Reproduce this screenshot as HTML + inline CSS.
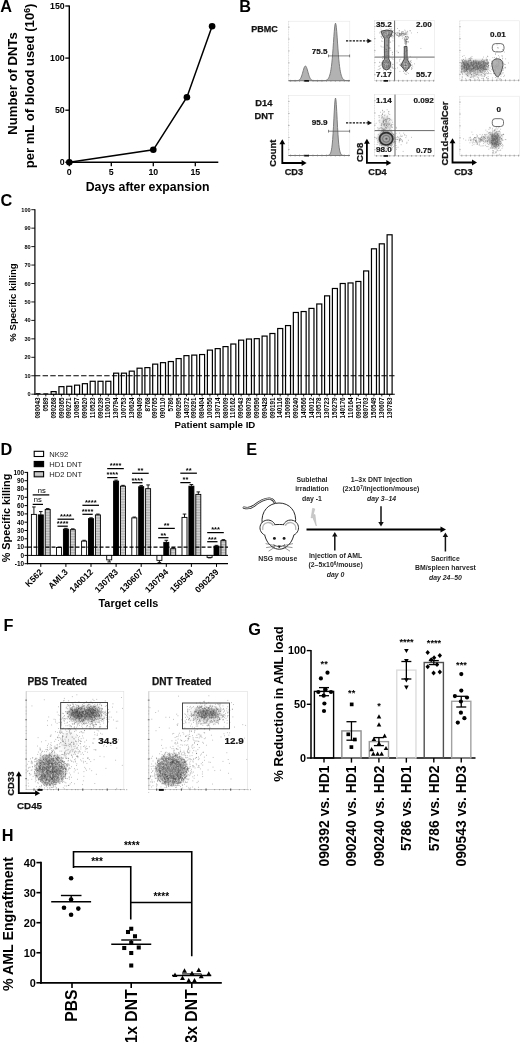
<!DOCTYPE html>
<html lang="en"><head><meta charset="utf-8"><title>Figure</title>
<style>
html,body{margin:0;padding:0;background:#fff}
svg{display:block;font-family:"Liberation Sans",sans-serif;filter:blur(0.35px)}
</style></head><body>
<svg width="520" height="1042" viewBox="0 0 520 1042">
<rect width="520" height="1042" fill="#fff"/>
<g id="A">
<text x="0.3" y="12" font-size="16.3" font-weight="bold" text-anchor="start" fill="#000">A</text>
<line x1="69.3" y1="5.4" x2="69.3" y2="162.9" stroke="#000" stroke-width="1.4"/>
<line x1="68.6" y1="162.3" x2="218.3" y2="162.3" stroke="#000" stroke-width="1.4"/>
<line x1="65.3" y1="162.3" x2="69.3" y2="162.3" stroke="#000" stroke-width="1.3"/>
<text x="64.7" y="165.4" font-size="8.8" font-weight="bold" text-anchor="end" fill="#000">0</text>
<line x1="65.3" y1="110.2" x2="69.3" y2="110.2" stroke="#000" stroke-width="1.3"/>
<text x="64.7" y="113.3" font-size="8.8" font-weight="bold" text-anchor="end" fill="#000">50</text>
<line x1="65.3" y1="58.1" x2="69.3" y2="58.1" stroke="#000" stroke-width="1.3"/>
<text x="64.7" y="61.2" font-size="8.8" font-weight="bold" text-anchor="end" fill="#000">100</text>
<line x1="65.3" y1="6" x2="69.3" y2="6" stroke="#000" stroke-width="1.3"/>
<text x="64.7" y="9.1" font-size="8.8" font-weight="bold" text-anchor="end" fill="#000">150</text>
<line x1="69.3" y1="162.3" x2="69.3" y2="166.3" stroke="#000" stroke-width="1.3"/>
<text x="69.3" y="174.5" font-size="8.8" font-weight="bold" text-anchor="middle" fill="#000">0</text>
<line x1="111.3" y1="162.3" x2="111.3" y2="166.3" stroke="#000" stroke-width="1.3"/>
<text x="111.3" y="174.5" font-size="8.8" font-weight="bold" text-anchor="middle" fill="#000">5</text>
<line x1="153.3" y1="162.3" x2="153.3" y2="166.3" stroke="#000" stroke-width="1.3"/>
<text x="153.3" y="174.5" font-size="8.8" font-weight="bold" text-anchor="middle" fill="#000">10</text>
<line x1="195.3" y1="162.3" x2="195.3" y2="166.3" stroke="#000" stroke-width="1.3"/>
<text x="195.3" y="174.5" font-size="8.8" font-weight="bold" text-anchor="middle" fill="#000">15</text>
<polyline fill="none" stroke="#000" stroke-width="1.5" points="69.3,162.3 153.3,149.8 186.9,97.18 212.1,26.32"/>
<circle cx="69.3" cy="162.3" r="3.3" fill="#000"/>
<circle cx="153.3" cy="149.8" r="3.3" fill="#000"/>
<circle cx="186.9" cy="97.18" r="3.3" fill="#000"/>
<circle cx="212.1" cy="26.32" r="3.3" fill="#000"/>
<text x="147.6" y="191" font-size="12.3" font-weight="bold" text-anchor="middle" fill="#000">Days after expansion</text>
<text x="16.5" y="83.5" font-size="13.1" font-weight="bold" text-anchor="middle" fill="#000" transform="rotate(-90 16.5 83.5)">Number of DNTs</text>
<text x="34" y="86" font-size="13.1" font-weight="bold" text-anchor="middle" fill="#000" transform="rotate(-90 34 86)">per mL of blood used (10<tspan font-size="8.5" dy="-4.5">6</tspan><tspan dy="4.5">)</tspan></text>
</g>
<g id="B">
<defs><filter id="b1" x="-50%" y="-50%" width="200%" height="200%"><feGaussianBlur stdDeviation="1.1"/></filter><filter id="b2" x="-50%" y="-50%" width="200%" height="200%"><feGaussianBlur stdDeviation="2.2"/></filter><filter id="b0" x="-50%" y="-50%" width="200%" height="200%"><feGaussianBlur stdDeviation="0.5"/></filter></defs>
<text x="239.3" y="12.3" font-size="16.3" font-weight="bold" text-anchor="start" fill="#000">B</text>
<text x="251.2" y="32.2" font-size="9" font-weight="bold" text-anchor="start" fill="#141414" stroke="#141414" stroke-width="0.25">PBMC</text>
<text x="255.3" y="106.2" font-size="9.3" font-weight="bold" text-anchor="start" fill="#141414" stroke="#141414" stroke-width="0.25">D14</text>
<text x="254.6" y="119.2" font-size="9.3" font-weight="bold" text-anchor="start" fill="#141414" stroke="#141414" stroke-width="0.25">DNT</text>
<rect x="288.6" y="21.2" width="61.2" height="59.5" fill="none" stroke="#e6e6e6" stroke-width="0.6"/><line x1="288" y1="27.15" x2="289.6" y2="27.15" stroke="#999" stroke-width="0.7"/><line x1="288" y1="39.05" x2="289.6" y2="39.05" stroke="#999" stroke-width="0.7"/><line x1="288" y1="50.95" x2="289.6" y2="50.95" stroke="#999" stroke-width="0.7"/><line x1="288" y1="62.85" x2="289.6" y2="62.85" stroke="#999" stroke-width="0.7"/><line x1="288" y1="74.75" x2="289.6" y2="74.75" stroke="#999" stroke-width="0.7"/><line x1="288.6" y1="21.2" x2="288.6" y2="80.7" stroke="#d0d0d0" stroke-width="0.6" stroke-dasharray="1 1.6"/><line x1="290.6" y1="79.9" x2="290.6" y2="81.5" stroke="#777" stroke-width="0.9"/><line x1="295.08" y1="79.9" x2="295.08" y2="81.5" stroke="#777" stroke-width="0.9"/><line x1="299.55" y1="79.9" x2="299.55" y2="81.5" stroke="#777" stroke-width="0.9"/><line x1="304.03" y1="79.9" x2="304.03" y2="81.5" stroke="#777" stroke-width="0.9"/><line x1="308.51" y1="79.9" x2="308.51" y2="81.5" stroke="#777" stroke-width="0.9"/><line x1="312.98" y1="79.9" x2="312.98" y2="81.5" stroke="#777" stroke-width="0.9"/><line x1="317.46" y1="79.9" x2="317.46" y2="81.5" stroke="#777" stroke-width="0.9"/><line x1="321.94" y1="79.9" x2="321.94" y2="81.5" stroke="#777" stroke-width="0.9"/><line x1="326.42" y1="79.9" x2="326.42" y2="81.5" stroke="#777" stroke-width="0.9"/><line x1="330.89" y1="79.9" x2="330.89" y2="81.5" stroke="#777" stroke-width="0.9"/><line x1="335.37" y1="79.9" x2="335.37" y2="81.5" stroke="#777" stroke-width="0.9"/><line x1="339.85" y1="79.9" x2="339.85" y2="81.5" stroke="#777" stroke-width="0.9"/><line x1="344.32" y1="79.9" x2="344.32" y2="81.5" stroke="#777" stroke-width="0.9"/><line x1="348.8" y1="79.9" x2="348.8" y2="81.5" stroke="#777" stroke-width="0.9"/><line x1="288.6" y1="80.7" x2="349.8" y2="80.7" stroke="#bbb" stroke-width="0.5"/>
<path d="M288.6 80.7L288.6 80.7L289.01 80.7L289.42 80.7L289.82 80.7L290.23 80.7L290.64 80.7L291.05 80.7L291.46 80.7L291.86 80.7L292.27 80.7L292.68 80.7L293.09 80.7L293.5 80.7L293.9 80.7L294.31 80.7L294.72 80.7L295.13 80.7L295.54 80.69L295.94 80.69L296.35 80.68L296.76 80.66L297.17 80.64L297.58 80.59L297.98 80.52L298.39 80.41L298.8 80.25L299.21 80.02L299.62 79.69L300.02 79.24L300.43 78.66L300.84 77.91L301.25 77L301.66 75.91L302.06 74.67L302.47 73.3L302.88 71.86L303.29 70.41L303.7 69.05L304.1 67.85L304.51 66.9L304.92 66.27L305.33 66.01L305.74 66.13L306.14 66.64L306.55 67.48L306.96 68.6L307.37 69.92L307.78 71.34L308.18 72.79L308.59 74.19L309 75.49L309.41 76.63L309.82 77.61L310.22 78.42L310.63 79.05L311.04 79.55L311.45 79.91L311.86 80.18L312.26 80.36L312.67 80.49L313.08 80.57L313.49 80.62L313.9 80.65L314.3 80.67L314.71 80.69L315.12 80.69L315.53 80.7L315.94 80.7L316.34 80.7L316.75 80.7L317.16 80.7L317.57 80.7L317.98 80.7L318.38 80.7L318.79 80.7L319.2 80.7L319.61 80.7L320.02 80.7L320.42 80.7L320.83 80.7L321.24 80.7L321.65 80.7L322.06 80.7L322.46 80.69L322.87 80.69L323.28 80.68L323.69 80.67L324.1 80.65L324.5 80.63L324.91 80.59L325.32 80.53L325.73 80.45L326.14 80.33L326.54 80.17L326.95 79.95L327.36 79.66L327.77 79.27L328.18 78.76L328.58 78.12L328.99 77.3L329.4 76.29L329.81 75.04L330.22 73.5L330.62 71.61L331.03 69.28L331.44 66.41L331.85 62.92L332.26 58.74L332.66 53.85L333.07 48.35L333.48 42.47L333.89 36.6L334.3 31.22L334.7 26.9L335.11 24.11L335.52 23.2L335.93 24.3L336.34 27.26L336.74 31.71L337.15 37.16L337.56 43.05L337.97 48.91L338.38 54.36L338.78 59.18L339.19 63.3L339.6 66.72L340.01 69.53L340.42 71.81L340.82 73.67L341.23 75.18L341.64 76.4L342.05 77.39L342.46 78.19L342.86 78.82L343.27 79.31L343.68 79.69L344.09 79.98L344.5 80.19L344.9 80.35L345.31 80.46L345.72 80.54L346.13 80.59L346.54 80.63L346.94 80.66L347.35 80.67L347.76 80.68L348.17 80.69L348.58 80.69L348.98 80.7L349.39 80.7L349.8 80.7L349.8 80.7Z" fill="#b2b2b2" stroke="#737373" stroke-width="0.9"/>
<rect x="304.3" y="80" width="4.6" height="1.7" fill="#111" stroke="none" stroke-width="0"/>
<line x1="328.5" y1="55.9" x2="349.8" y2="55.9" stroke="#555" stroke-width="0.7"/>
<line x1="328.5" y1="54.5" x2="328.5" y2="57.3" stroke="#555" stroke-width="0.7"/>
<line x1="349.6" y1="54.5" x2="349.6" y2="57.3" stroke="#555" stroke-width="0.7"/>
<text x="311.7" y="53.5" font-size="8.1" font-weight="bold" text-anchor="start" fill="#141414" stroke="#141414" stroke-width="0.2">75.5</text>
<line x1="346" y1="40.9" x2="368.8" y2="40.9" stroke="#111" stroke-width="1.4" stroke-dasharray="2.2 1.2"/><path d="M371.8 40.9l-4.4 -2.4v4.8z" fill="#111"/>
<rect x="288.6" y="95.4" width="61.2" height="60.1" fill="none" stroke="#e6e6e6" stroke-width="0.6"/><line x1="288" y1="101.41" x2="289.6" y2="101.41" stroke="#999" stroke-width="0.7"/><line x1="288" y1="113.43" x2="289.6" y2="113.43" stroke="#999" stroke-width="0.7"/><line x1="288" y1="125.45" x2="289.6" y2="125.45" stroke="#999" stroke-width="0.7"/><line x1="288" y1="137.47" x2="289.6" y2="137.47" stroke="#999" stroke-width="0.7"/><line x1="288" y1="149.49" x2="289.6" y2="149.49" stroke="#999" stroke-width="0.7"/><line x1="288.6" y1="95.4" x2="288.6" y2="155.5" stroke="#d0d0d0" stroke-width="0.6" stroke-dasharray="1 1.6"/><line x1="290.6" y1="154.7" x2="290.6" y2="156.3" stroke="#777" stroke-width="0.9"/><line x1="295.08" y1="154.7" x2="295.08" y2="156.3" stroke="#777" stroke-width="0.9"/><line x1="299.55" y1="154.7" x2="299.55" y2="156.3" stroke="#777" stroke-width="0.9"/><line x1="304.03" y1="154.7" x2="304.03" y2="156.3" stroke="#777" stroke-width="0.9"/><line x1="308.51" y1="154.7" x2="308.51" y2="156.3" stroke="#777" stroke-width="0.9"/><line x1="312.98" y1="154.7" x2="312.98" y2="156.3" stroke="#777" stroke-width="0.9"/><line x1="317.46" y1="154.7" x2="317.46" y2="156.3" stroke="#777" stroke-width="0.9"/><line x1="321.94" y1="154.7" x2="321.94" y2="156.3" stroke="#777" stroke-width="0.9"/><line x1="326.42" y1="154.7" x2="326.42" y2="156.3" stroke="#777" stroke-width="0.9"/><line x1="330.89" y1="154.7" x2="330.89" y2="156.3" stroke="#777" stroke-width="0.9"/><line x1="335.37" y1="154.7" x2="335.37" y2="156.3" stroke="#777" stroke-width="0.9"/><line x1="339.85" y1="154.7" x2="339.85" y2="156.3" stroke="#777" stroke-width="0.9"/><line x1="344.32" y1="154.7" x2="344.32" y2="156.3" stroke="#777" stroke-width="0.9"/><line x1="348.8" y1="154.7" x2="348.8" y2="156.3" stroke="#777" stroke-width="0.9"/><line x1="288.6" y1="155.5" x2="349.8" y2="155.5" stroke="#bbb" stroke-width="0.5"/>
<path d="M288.6 155.5L288.6 155.5L289.01 155.5L289.42 155.5L289.82 155.5L290.23 155.5L290.64 155.5L291.05 155.5L291.46 155.5L291.86 155.5L292.27 155.5L292.68 155.5L293.09 155.5L293.5 155.5L293.9 155.5L294.31 155.5L294.72 155.5L295.13 155.5L295.54 155.5L295.94 155.5L296.35 155.5L296.76 155.5L297.17 155.5L297.58 155.5L297.98 155.5L298.39 155.5L298.8 155.5L299.21 155.5L299.62 155.5L300.02 155.5L300.43 155.5L300.84 155.5L301.25 155.5L301.66 155.5L302.06 155.5L302.47 155.5L302.88 155.5L303.29 155.5L303.7 155.5L304.1 155.5L304.51 155.5L304.92 155.5L305.33 155.5L305.74 155.5L306.14 155.5L306.55 155.5L306.96 155.5L307.37 155.5L307.78 155.5L308.18 155.5L308.59 155.5L309 155.5L309.41 155.5L309.82 155.5L310.22 155.5L310.63 155.5L311.04 155.5L311.45 155.5L311.86 155.5L312.26 155.5L312.67 155.5L313.08 155.5L313.49 155.5L313.9 155.5L314.3 155.5L314.71 155.5L315.12 155.5L315.53 155.5L315.94 155.5L316.34 155.5L316.75 155.5L317.16 155.5L317.57 155.5L317.98 155.5L318.38 155.5L318.79 155.5L319.2 155.5L319.61 155.5L320.02 155.5L320.42 155.5L320.83 155.5L321.24 155.5L321.65 155.5L322.06 155.5L322.46 155.5L322.87 155.5L323.28 155.5L323.69 155.5L324.1 155.5L324.5 155.5L324.91 155.5L325.32 155.5L325.73 155.5L326.14 155.49L326.54 155.49L326.95 155.48L327.36 155.46L327.77 155.42L328.18 155.35L328.58 155.24L328.99 155.07L329.4 154.8L329.81 154.39L330.22 153.78L330.62 152.9L331.03 151.64L331.44 149.88L331.85 147.41L332.26 144.02L332.66 139.49L333.07 133.67L333.48 126.64L333.89 118.79L334.3 110.92L334.7 104.12L335.11 99.53L335.52 98L335.93 99.85L336.34 104.71L336.74 111.67L337.15 119.58L337.56 127.37L337.97 134.3L338.38 139.99L338.78 144.4L339.19 147.69L339.6 150.08L340.01 151.79L340.42 153L340.82 153.85L341.23 154.43L341.64 154.83L342.05 155.09L342.46 155.26L342.86 155.36L343.27 155.42L343.68 155.46L344.09 155.48L344.5 155.49L344.9 155.49L345.31 155.5L345.72 155.5L346.13 155.5L346.54 155.5L346.94 155.5L347.35 155.5L347.76 155.5L348.17 155.5L348.58 155.5L348.98 155.5L349.39 155.5L349.8 155.5L349.8 155.5Z" fill="#b2b2b2" stroke="#737373" stroke-width="0.9"/>
<rect x="304.3" y="154.8" width="4.6" height="1.7" fill="#111" stroke="none" stroke-width="0"/>
<line x1="328.5" y1="131.2" x2="349.8" y2="131.2" stroke="#555" stroke-width="0.7"/>
<line x1="328.5" y1="129.8" x2="328.5" y2="132.6" stroke="#555" stroke-width="0.7"/>
<line x1="349.6" y1="129.8" x2="349.6" y2="132.6" stroke="#555" stroke-width="0.7"/>
<text x="311.7" y="125.4" font-size="8.1" font-weight="bold" text-anchor="start" fill="#141414" stroke="#141414" stroke-width="0.2">95.9</text>
<line x1="346" y1="122.9" x2="369" y2="122.9" stroke="#111" stroke-width="1.4" stroke-dasharray="2.2 1.2"/><path d="M372 122.9l-4.4 -2.4v4.8z" fill="#111"/>
<path d="M282.3 142.3L282.3 163L303.6 163" fill="none" stroke="#000" stroke-width="1.8"/><path d="M282.3 139.3l-2.9 5h5.8z" fill="#000"/><path d="M306.6 163l-5 -2.9v5.8z" fill="#000"/>
<text x="275.8" y="153.2" font-size="9.4" font-weight="bold" text-anchor="middle" fill="#141414" transform="rotate(-90 275.8 153.2)" stroke="#141414" stroke-width="0.25">Count</text>
<text x="284.7" y="175.4" font-size="9.2" font-weight="bold" text-anchor="start" fill="#141414" stroke="#141414" stroke-width="0.25">CD3</text>
<rect x="374.6" y="20.6" width="60" height="60.1" fill="none" stroke="#e6e6e6" stroke-width="0.6"/><line x1="374" y1="26.61" x2="375.6" y2="26.61" stroke="#999" stroke-width="0.7"/><line x1="374" y1="38.63" x2="375.6" y2="38.63" stroke="#999" stroke-width="0.7"/><line x1="374" y1="50.65" x2="375.6" y2="50.65" stroke="#999" stroke-width="0.7"/><line x1="374" y1="62.67" x2="375.6" y2="62.67" stroke="#999" stroke-width="0.7"/><line x1="374" y1="74.69" x2="375.6" y2="74.69" stroke="#999" stroke-width="0.7"/><line x1="374.6" y1="20.6" x2="374.6" y2="80.7" stroke="#d0d0d0" stroke-width="0.6" stroke-dasharray="1 1.6"/><line x1="376.6" y1="79.9" x2="376.6" y2="81.5" stroke="#777" stroke-width="0.9"/><line x1="380.98" y1="79.9" x2="380.98" y2="81.5" stroke="#777" stroke-width="0.9"/><line x1="385.37" y1="79.9" x2="385.37" y2="81.5" stroke="#777" stroke-width="0.9"/><line x1="389.75" y1="79.9" x2="389.75" y2="81.5" stroke="#777" stroke-width="0.9"/><line x1="394.14" y1="79.9" x2="394.14" y2="81.5" stroke="#777" stroke-width="0.9"/><line x1="398.52" y1="79.9" x2="398.52" y2="81.5" stroke="#777" stroke-width="0.9"/><line x1="402.91" y1="79.9" x2="402.91" y2="81.5" stroke="#777" stroke-width="0.9"/><line x1="407.29" y1="79.9" x2="407.29" y2="81.5" stroke="#777" stroke-width="0.9"/><line x1="411.68" y1="79.9" x2="411.68" y2="81.5" stroke="#777" stroke-width="0.9"/><line x1="416.06" y1="79.9" x2="416.06" y2="81.5" stroke="#777" stroke-width="0.9"/><line x1="420.45" y1="79.9" x2="420.45" y2="81.5" stroke="#777" stroke-width="0.9"/><line x1="424.83" y1="79.9" x2="424.83" y2="81.5" stroke="#777" stroke-width="0.9"/><line x1="429.22" y1="79.9" x2="429.22" y2="81.5" stroke="#777" stroke-width="0.9"/><line x1="433.6" y1="79.9" x2="433.6" y2="81.5" stroke="#777" stroke-width="0.9"/><line x1="374.6" y1="80.7" x2="434.6" y2="80.7" stroke="#bbb" stroke-width="0.5"/>
<rect x="383.5" y="80" width="4.6" height="1.7" fill="#111" stroke="none" stroke-width="0"/>
<g filter="url(#b0)">
<path d="M381 31.2Q386.8 28.8 392.6 31.2Q391.6 35.6 389 38.4L388.8 59.3Q391.1 62 390.7 65.4Q390 69.6 386.4 70Q382.6 69.6 382.2 65.2Q382.1 61.8 384.4 59.3L384.5 38.4Q382 35.6 381 31.2Z" fill="#8a8a8a" fill-opacity="0.85" stroke="#3a3a3a" stroke-width="1" stroke-opacity="0.85"/>
<path d="M404.3 46.5L407 46.5L407.2 59.2L410.8 65.5L405.8 71.5L400.8 65.5L404.2 59.2Z" fill="#8a8a8a" fill-opacity="0.85" stroke="#3a3a3a" stroke-width="1" stroke-opacity="0.85"/>
<ellipse cx="386.7" cy="33.6" rx="2.6" ry="1.7" fill="#b5b5b5"/>
<ellipse cx="386.4" cy="65" rx="1.6" ry="1.9" fill="#b5b5b5"/>
<ellipse cx="405.8" cy="65.5" rx="2.2" ry="2.6" fill="#c4c4c4"/>
</g>
<circle cx="405.8" cy="65.5" r="0.6" fill="#555"/>
<path d="M385.78 35.43h.8M385.89 33.12h.8M383.35 33.4h.8M390.7 35.19h.8M390.43 34.7h.8M388.12 34.52h.8M380.7 36.39h.8M388.52 35.4h.8M380.61 29.12h.8M383.5 32.69h.8M387.8 33.87h.8M388.58 32.2h.8M387.81 35.1h.8M384.32 38.81h.8M388.7 37.35h.8M384.47 31.93h.8M385.46 33.7h.8M388.98 34.7h.8M385.09 31.32h.8M384.83 37.42h.8M383.79 34.69h.8M388.24 29.83h.8M386.87 37.66h.8M379.45 33.1h.8M386.32 31.71h.8M388.49 33.83h.8M381.43 36.32h.8M389.11 36.65h.8M391.89 35.01h.8M387.13 30.36h.8M388.92 32.29h.8M385.07 30.46h.8M383.22 32.51h.8M391.34 28.31h.8M381.45 34.67h.8M391.9 35.62h.8M379.86 26.95h.8M387.99 31.94h.8M382.67 36.74h.8M390.67 34.44h.8M387.58 35.22h.8M392.44 35.73h.8M388.57 35.53h.8M381.05 37.59h.8M390.14 35.48h.8M379.59 32.23h.8M389.73 28.93h.8M386.04 36.85h.8M381.98 38.51h.8M388.69 33.58h.8M387.87 35.82h.8M387.13 37.21h.8M384.32 32.84h.8M390.45 34.08h.8M383.53 36.65h.8M391.98 32.75h.8M381.73 33.62h.8M386.16 33.17h.8M391.76 31.12h.8M391.24 30.45h.8M383.87 35.77h.8M390.76 36.41h.8M387.94 34.4h.8M387.25 35.61h.8M386.07 34.78h.8M388.76 34h.8M389.45 35.58h.8M393.94 34.91h.8M385.16 32.96h.8M386.65 36.59h.8M385.76 53.09h.8M390.54 29.48h.8M384.03 51.95h.8M387.38 51.91h.8M385.55 55.24h.8M387.12 45.82h.8M391.85 52.84h.8M385.28 49.2h.8M386 49.5h.8M380.5 46.1h.8M388.72 40.65h.8M386.35 57.63h.8M388.38 61.93h.8M382.76 47.17h.8M385.75 54.99h.8M388.9 28.54h.8M388.9 38.42h.8M388 38.06h.8M386.89 59.56h.8M386.17 51.53h.8M388.25 51.13h.8M386.31 62.27h.8M388.81 47.65h.8M392.54 40.83h.8M388.51 47.87h.8M386.79 55.64h.8M386.99 55.11h.8M383.14 37.92h.8M387.85 42.29h.8M384.24 38.24h.8M389.29 55.97h.8M389.74 42.5h.8M386.5 40.88h.8M388.19 62.72h.8M384.54 62.48h.8M388.67 48.58h.8M382.16 61.25h.8M386.29 45.18h.8M387.38 53.28h.8M389.8 41.84h.8M389 61.9h.8M389.69 48.56h.8M384.86 58.15h.8M386.75 50.99h.8M389.63 47.89h.8M381.45 46.9h.8M382.42 56.55h.8M387.2 45.11h.8M386.48 56.66h.8M386.67 60.61h.8M386.37 58.32h.8M389.78 62.88h.8M385.02 57.04h.8M382.37 41.33h.8M382.18 58.55h.8M383.79 49.9h.8M386.08 49.77h.8M385.2 51.87h.8M390.44 50.35h.8M387.67 58h.8M385.77 60.97h.8M384.62 68.44h.8M381.13 63.09h.8M389.62 67.54h.8M386.42 67.58h.8M386.93 61.23h.8M381.4 62.96h.8M389.35 63.19h.8M383.51 62.53h.8M381.5 64.62h.8M382.63 66.17h.8M378.85 66.05h.8M384.35 58.79h.8M388.72 64.12h.8M379.26 62.2h.8M387.33 63.53h.8M388.9 67.39h.8M388.53 66.05h.8M390.67 67.11h.8M387.84 58.33h.8M389.27 69.19h.8M385.45 63.5h.8M392.61 59.37h.8M387.9 72.76h.8M383.43 67.21h.8M392.44 64.62h.8M388.2 67.89h.8M383.5 64.71h.8M387.34 67.64h.8M386.29 64.37h.8M383.15 63.85h.8M389.25 65.33h.8M383.67 62.31h.8M394.93 68.65h.8M388.44 56.7h.8M388.39 66.54h.8M391.79 66.37h.8M386.18 66.67h.8M380.18 68.31h.8M387.44 62.75h.8M390.64 70.79h.8M381.91 62.87h.8M387.33 65.59h.8M385.12 61.88h.8M393.19 68.32h.8M382.58 60.7h.8M391.85 68.17h.8M392.23 67.59h.8M383.61 65.83h.8M379.49 62.61h.8M386.21 66.67h.8M384.07 64.6h.8M387.87 66.21h.8M388.44 65.67h.8M385.36 67.53h.8M386.56 62.36h.8M384.4 65h.8M386.05 65.5h.8M386.4 65.56h.8M385.97 60.97h.8M387.75 68.37h.8M387.79 64.39h.8M387.83 61.91h.8M380.33 65.19h.8M383.42 67.37h.8M382.93 56.59h.8M383.07 70.05h.8M385.18 60.62h.8M383.96 66.67h.8M387.99 65.57h.8M411.14 67.54h.8M405.72 67.15h.8M411.76 68.5h.8M409.49 61.1h.8M405.27 67.63h.8M404.73 68.85h.8M407.95 68.27h.8M405.04 74.17h.8M410.26 64.22h.8M406.13 74.34h.8M404.56 68.15h.8M409.33 65.02h.8M401.6 65.68h.8M407.09 69.07h.8M408.62 65.09h.8M408.87 66.94h.8M406.54 65.2h.8M404.92 67.47h.8M402 62.74h.8M405.82 59.73h.8M404.23 57.77h.8M403.34 67.05h.8M407.84 64.8h.8M404.96 59.9h.8M412.38 66.86h.8M409.74 61.82h.8M405.13 58.45h.8M408.61 68.37h.8M398.97 64.81h.8M408.07 58.66h.8M399.23 61.17h.8M403.53 59.95h.8M405.91 65.9h.8M408.08 67.53h.8M411.21 69.19h.8M401.08 63.18h.8M401.98 61.12h.8M405.51 65.02h.8M407.57 59.29h.8M401.34 64.92h.8M405.08 63.88h.8M405.57 62.26h.8M408.32 66.28h.8M405.48 62.58h.8M405.17 55.2h.8M402.27 65.13h.8M400.39 65.72h.8M406.33 60.04h.8M404.9 63.87h.8M407.46 67.2h.8M405.67 61.94h.8M405.28 64.76h.8M408.44 66.06h.8M403.2 60.12h.8M404.46 62.33h.8M401.8 64.58h.8M404.03 65.38h.8M407.68 63.51h.8M414.17 63.84h.8M409.77 65.44h.8M409.82 56.45h.8M403.09 65.89h.8M407.97 73.41h.8M406.96 69.61h.8M408.56 68.41h.8M407.64 64.44h.8M407.63 61.12h.8M410.05 61.34h.8M406.7 72.63h.8M405 65.07h.8M409.99 65.09h.8M402.89 65.93h.8M407.9 67.56h.8M403.02 71.31h.8M411.8 65.07h.8M406.77 63.46h.8M410.89 62.46h.8M408.23 63.27h.8M403.3 67.59h.8M410.6 64.96h.8M403.36 67.92h.8M405.62 66.12h.8M411.28 69.07h.8M403.93 73.22h.8M405.81 67.83h.8M403.47 64.84h.8M399.5 71.43h.8M410.72 60.62h.8M400.38 59.16h.8M410.03 63.35h.8M405.72 38.44h.8M405.64 34.56h.8M405.83 32.81h.8M405.71 41.54h.8M406.41 38.84h.8M404.63 40.8h.8M405.17 47.83h.8M406.8 39.42h.8M405.19 36.49h.8M404.58 38.24h.8M406.18 42.58h.8M406.54 50.49h.8M404.88 40.06h.8M409.43 30.66h.8M405.12 40.85h.8M406 42.04h.8M405.49 41.83h.8M405.87 43.86h.8M403.34 35.57h.8M405.8 34.84h.8M404.44 43.14h.8M404.96 43.17h.8M406.77 41.53h.8M406.46 39.48h.8M403.97 39.85h.8M406.39 37.35h.8M405.67 43.75h.8M404.66 43.2h.8M408.22 37.23h.8M405.99 39.25h.8M407.8 41.58h.8M406.97 36.55h.8M405.78 39.95h.8M403.49 47.2h.8M406.97 31.25h.8M406.77 39.34h.8M406.38 41.83h.8M403.85 38.94h.8M407.74 37.13h.8M404.47 33.2h.8M404.21 41.68h.8M408 42.15h.8M406.12 51.17h.8M405.12 36.63h.8M406.49 42.74h.8M404.48 34.15h.8M406.18 41.24h.8M404.1 38.99h.8M405.09 42.3h.8M405.65 39.57h.8M405.34 45.27h.8M407.61 38.17h.8M406.9 36.21h.8M405.89 43.75h.8M407.77 38.09h.8M405.7 40.98h.8M403.85 40.08h.8M404.92 41.86h.8M404.33 30.12h.8M405.85 41.3h.8M405.09 44.44h.8M405.44 36.97h.8M406.42 32.16h.8M404.92 39.9h.8M406.9 39.19h.8M406.2 36.72h.8M406.19 48.32h.8M404.91 51.83h.8M404.96 40.09h.8M406.03 45.12h.8M392.81 30.64h.8M402.03 35.27h.8M402.12 38.21h.8M400.02 34.41h.8M403.65 34.59h.8M407.32 32.02h.8M397.12 28.49h.8M403.06 33.4h.8M403.62 37.45h.8M398.97 33.59h.8M396.5 32.66h.8M395.85 35.02h.8M399.18 34.11h.8M398.13 35.46h.8M401.47 33.77h.8M402.32 33.76h.8M393.24 36.33h.8M401.33 32.47h.8M404.39 34.55h.8M391.18 36.58h.8M400.67 35.43h.8M399.99 33.76h.8M391.26 35.55h.8M399.15 33.54h.8M400.75 34.12h.8M402.38 33.41h.8M398.82 30.58h.8M396.88 35.08h.8M405.68 33.42h.8M398.39 36.53h.8M397.37 35.17h.8M407.39 34.06h.8M405.13 32.86h.8M400.04 33.88h.8M399.57 35.81h.8M410.95 32.94h.8M396.12 34.8h.8M393.72 34.8h.8M401.86 33.56h.8M401.66 31.52h.8M402.8 31.53h.8M395.52 33.11h.8M396.99 35.37h.8M399.41 33.36h.8M401.72 36.53h.8M399.03 34.59h.8M405.2 34.43h.8M392.58 37.98h.8M410.04 30.82h.8M398.8 34.67h.8M403.83 35.07h.8M397.64 32.31h.8M399.51 35.65h.8M393.55 32.36h.8M398.88 30.9h.8M397.7 33.3h.8M401.25 32.88h.8M394.59 33.37h.8M398.75 32.94h.8M399.06 35.2h.8M404.93 36.73h.8M395.08 33.33h.8M386.59 37.04h.8M395.38 33.95h.8M401.61 31.83h.8M401.32 33.96h.8M389.87 34.47h.8M404.97 31.01h.8M403.04 34.33h.8M401.37 34.71h.8M405.52 33.64h.8M403.37 33.34h.8M402.64 32.7h.8M398.46 36.77h.8M401.23 33.75h.8M393.28 32.74h.8M399.97 35.5h.8M401.13 34.84h.8M398.79 36.16h.8M397.05 33.12h.8M403.88 58.64h.8M392.21 52.24h.8M392.43 64.24h.8M398.54 45.9h.8M399.26 59.79h.8M385 65.73h.8M392.2 54.65h.8M402.96 71.21h.8M388.11 62.38h.8M390.06 69.95h.8M388.53 66.11h.8M417.19 32.59h.8M390.66 63.01h.8M394.07 51.32h.8M416.52 58.8h.8M378.56 66.54h.8M377.78 69.51h.8M389.22 59.45h.8M407.61 59.18h.8M381.09 41.04h.8M406.83 65.4h.8M386.84 66.6h.8M399.97 64.48h.8M404 65.33h.8M403.81 33.43h.8M396.69 62.92h.8M420.52 48.46h.8M391.71 58.36h.8M403.86 53.57h.8M406.47 50.12h.8M397.67 52.73h.8M396.58 51.09h.8M379.03 68.93h.8M398.03 52.41h.8M397.01 67.9h.8M385.23 56.9h.8M400.39 63.26h.8M391.65 36.93h.8" stroke="#555" stroke-width="0.8" stroke-opacity="0.55" fill="none"/>
<line x1="394.6" y1="20.6" x2="394.6" y2="80.7" stroke="#595959" stroke-width="0.9"/>
<line x1="374.6" y1="57.1" x2="434.6" y2="57.1" stroke="#595959" stroke-width="0.9"/>
<text x="376" y="27" font-size="8.1" font-weight="bold" text-anchor="start" fill="#141414" stroke="#141414" stroke-width="0.2">35.2</text>
<text x="431.8" y="27" font-size="8.1" font-weight="bold" text-anchor="end" fill="#141414" stroke="#141414" stroke-width="0.2">2.00</text>
<text x="376" y="77.2" font-size="8.1" font-weight="bold" text-anchor="start" fill="#141414" stroke="#141414" stroke-width="0.2">7.17</text>
<text x="431.8" y="77.2" font-size="8.1" font-weight="bold" text-anchor="end" fill="#141414" stroke="#141414" stroke-width="0.2">55.7</text>
<rect x="374.6" y="94.6" width="60" height="61.2" fill="none" stroke="#e6e6e6" stroke-width="0.6"/><line x1="374" y1="100.72" x2="375.6" y2="100.72" stroke="#999" stroke-width="0.7"/><line x1="374" y1="112.96" x2="375.6" y2="112.96" stroke="#999" stroke-width="0.7"/><line x1="374" y1="125.2" x2="375.6" y2="125.2" stroke="#999" stroke-width="0.7"/><line x1="374" y1="137.44" x2="375.6" y2="137.44" stroke="#999" stroke-width="0.7"/><line x1="374" y1="149.68" x2="375.6" y2="149.68" stroke="#999" stroke-width="0.7"/><line x1="374.6" y1="94.6" x2="374.6" y2="155.8" stroke="#d0d0d0" stroke-width="0.6" stroke-dasharray="1 1.6"/><line x1="376.6" y1="155" x2="376.6" y2="156.6" stroke="#777" stroke-width="0.9"/><line x1="380.98" y1="155" x2="380.98" y2="156.6" stroke="#777" stroke-width="0.9"/><line x1="385.37" y1="155" x2="385.37" y2="156.6" stroke="#777" stroke-width="0.9"/><line x1="389.75" y1="155" x2="389.75" y2="156.6" stroke="#777" stroke-width="0.9"/><line x1="394.14" y1="155" x2="394.14" y2="156.6" stroke="#777" stroke-width="0.9"/><line x1="398.52" y1="155" x2="398.52" y2="156.6" stroke="#777" stroke-width="0.9"/><line x1="402.91" y1="155" x2="402.91" y2="156.6" stroke="#777" stroke-width="0.9"/><line x1="407.29" y1="155" x2="407.29" y2="156.6" stroke="#777" stroke-width="0.9"/><line x1="411.68" y1="155" x2="411.68" y2="156.6" stroke="#777" stroke-width="0.9"/><line x1="416.06" y1="155" x2="416.06" y2="156.6" stroke="#777" stroke-width="0.9"/><line x1="420.45" y1="155" x2="420.45" y2="156.6" stroke="#777" stroke-width="0.9"/><line x1="424.83" y1="155" x2="424.83" y2="156.6" stroke="#777" stroke-width="0.9"/><line x1="429.22" y1="155" x2="429.22" y2="156.6" stroke="#777" stroke-width="0.9"/><line x1="433.6" y1="155" x2="433.6" y2="156.6" stroke="#777" stroke-width="0.9"/><line x1="374.6" y1="155.8" x2="434.6" y2="155.8" stroke="#bbb" stroke-width="0.5"/>
<rect x="383.5" y="155.1" width="4.6" height="1.7" fill="#111" stroke="none" stroke-width="0"/>
<ellipse cx="386.2" cy="138.8" rx="8.5" ry="8" fill="#777" fill-opacity="0.55" filter="url(#b1)"/>
<ellipse cx="385.5" cy="124" rx="4.5" ry="8" fill="#888" fill-opacity="0.35" filter="url(#b2)"/>
<path d="M391.92 140.24h.8M386.26 137.57h.8M387.41 136.93h.8M381.49 135.55h.8M383.45 136.11h.8M380.87 141.6h.8M380.17 141.7h.8M381.53 140.35h.8M392.52 139.69h.8M382.84 139.01h.8M386.88 131.17h.8M383.4 139.52h.8M384.04 139.15h.8M389.58 142.17h.8M390.37 141.39h.8M384.88 138.72h.8M384.95 137.42h.8M385.37 131.21h.8M384.67 138.69h.8M381.72 138.69h.8M388.57 138.08h.8M395.75 127.33h.8M385.25 130.77h.8M390.71 150.48h.8M388.59 137.47h.8M388.74 128.93h.8M390.12 140.44h.8M386.31 136.21h.8M389.14 136.66h.8M387.23 136.56h.8M375.86 138.66h.8M387.13 142.12h.8M382.17 138.65h.8M389.04 139.44h.8M391.92 147.56h.8M382.02 130.35h.8M390.14 145.53h.8M390.44 142.38h.8M383.35 135.66h.8M390.29 134.79h.8M377.86 134.41h.8M397.66 147.26h.8M383.04 135.59h.8M387.26 135.5h.8M392.23 138.46h.8M381.2 144.56h.8M383.52 139.77h.8M386.14 137.42h.8M387.69 135.75h.8M377.72 129.08h.8M380.37 135.46h.8M386.09 139.04h.8M388.76 139.33h.8M382.55 135.68h.8M376.45 138.06h.8M388.43 141.13h.8M385.64 138.03h.8M390.51 138.87h.8M389.59 141.36h.8M387.18 144.55h.8M383.57 137.22h.8M382.48 135.29h.8M393.36 146.54h.8M386.31 141.3h.8M391.61 142.35h.8M391.74 133.24h.8M383.26 140.79h.8M392.8 139.26h.8M382.25 137.24h.8M383.16 135.02h.8M393.11 136.05h.8M386.29 148.31h.8M391.65 140.28h.8M383.39 140.61h.8M393.66 141.54h.8M392 139.23h.8M388.57 137.92h.8M388.16 144.52h.8M379.62 138.52h.8M387.31 136.29h.8M384.78 142.26h.8M395.41 141.57h.8M387.7 131.97h.8M395.07 139.14h.8M386.04 133.88h.8M385.94 133.98h.8M386.53 140.85h.8M386.34 140.03h.8M382.28 145.09h.8M383.2 130.8h.8M385.34 135.44h.8M381.56 137.24h.8M387.54 133.6h.8M385.57 145.08h.8M389.34 138.13h.8M386.79 138.27h.8M385.98 142.02h.8M385.77 128.22h.8M386.1 134.89h.8M389.2 136.11h.8M386.88 148.38h.8M381.38 133.85h.8M379.71 128.26h.8M377.56 140.4h.8M383.26 130.58h.8M379.38 141.52h.8M382.63 137.19h.8M387.72 144.77h.8M395.13 143.34h.8M386.86 139.61h.8M394.49 145.09h.8M384.77 140.81h.8M387.52 139.03h.8M383.9 132.96h.8M383.74 132.01h.8M391.83 141.16h.8M380.65 144.94h.8M390.3 130.4h.8M394.67 142.36h.8M395.7 133.38h.8M388.64 140.66h.8M387.13 139.55h.8M391.05 132.22h.8M380.49 132.67h.8M383.63 136.14h.8M387.89 139.97h.8M386.34 135.82h.8M384.17 142.99h.8M389.71 139.24h.8M384.72 145.63h.8M383.47 141.65h.8M391.51 137.63h.8M390 133.89h.8M390.86 139.68h.8M378.9 141.75h.8M382.1 144.44h.8M383.08 138.08h.8M387.5 137.34h.8M387.39 136.37h.8M389.29 138.82h.8M387.17 126.69h.8M391.54 138.94h.8M378 139.22h.8M388.35 143.51h.8M381.22 145.61h.8M385.47 149.34h.8M385.53 141.79h.8M384.51 133.89h.8M391.24 142.79h.8M393.28 142.57h.8M383.56 131.49h.8M383.21 135.83h.8M382.45 141.36h.8M387.71 137.61h.8M386.99 138.16h.8M387.18 142.11h.8M390.61 135.78h.8M379.27 145.08h.8M386.73 143.67h.8M378.64 137.35h.8M386.32 132.46h.8M383.83 141.99h.8M391.16 145.81h.8M382.23 132.63h.8M388.59 142.94h.8M387.09 133.07h.8M389.8 142.29h.8M388.75 136.66h.8M387.6 142.28h.8M383.63 130.69h.8M387.71 140.92h.8M386.26 142.71h.8M383.5 138.44h.8M384.8 141.31h.8M393.54 137.69h.8M395.65 145.53h.8M389.84 141.38h.8M394.35 138.01h.8M385.69 134.12h.8M388.38 144.72h.8M388.65 140.66h.8M385.28 139.55h.8M379.64 143.41h.8M384.31 133.94h.8M382.74 135.17h.8M390.13 143.46h.8M379.95 142.88h.8M390.29 136.25h.8M379.36 135.52h.8M383.28 140.31h.8M384.55 129.88h.8M387.27 132.05h.8M390.37 133.49h.8M383.01 135.04h.8M383.7 144.51h.8M390.12 141.45h.8M387.67 131.99h.8M383.8 136.37h.8M381.7 141.04h.8M382.79 135.68h.8M381.4 129.75h.8M388.94 144.66h.8M387 134.5h.8M391.79 140.11h.8M390.46 145.3h.8M391.38 136.86h.8M391.04 142.21h.8M379.13 137.02h.8M379.65 138.32h.8M388.86 134.1h.8M376.74 144.51h.8M387.93 145.27h.8M380.11 143.47h.8M395.74 147.63h.8M385.23 139.98h.8M385.49 143.19h.8M390.97 139.18h.8M379.95 142.06h.8M384.04 141.57h.8M387.41 145.94h.8M391.43 136.82h.8M387.81 146.56h.8M383.73 140.71h.8M391.68 144.33h.8M388.59 132.99h.8M380.4 139.89h.8M387.98 150.01h.8M382.24 143.81h.8M389.74 131.45h.8M382.44 139.53h.8M383.93 138.12h.8M388.36 135.24h.8M388.35 136h.8M383.69 141.16h.8M383.56 140.06h.8M393.56 138.92h.8M385.53 142.04h.8M384.52 143.56h.8M380.3 141.52h.8M383.84 135.29h.8M394.34 135.06h.8M394.28 141.7h.8M392.88 134.5h.8M391.72 145.21h.8M385.66 138.23h.8M397.5 139.58h.8M384.26 136.03h.8M388.25 140.25h.8M387.02 146.37h.8M384.69 140.88h.8M392.91 134.38h.8M390.98 146.86h.8M379.97 133.97h.8M381.42 130.68h.8M388.28 130.63h.8M388.49 145.19h.8M378.77 137.41h.8M377.38 142.23h.8M382.85 122.27h.8M385.7 127.54h.8M384.25 124.1h.8M383.53 124.75h.8M381.28 124.41h.8M378.54 120.81h.8M392.4 124.52h.8M380.96 125.67h.8M382 113.27h.8M382.85 128.79h.8M386.88 123.37h.8M382.16 116.99h.8M390.36 125.59h.8M382.07 110.28h.8M380.57 140.09h.8M381.36 123.5h.8M386.26 122.98h.8M384.5 115.07h.8M381.72 134.98h.8M382.78 129.5h.8M379.4 122.22h.8M386.44 130.74h.8M381.46 127.87h.8M386.89 119.21h.8M387.22 118.16h.8M382.63 123.88h.8M375.73 123.29h.8M381.9 114.49h.8M383.97 128.96h.8M384.04 132.23h.8M381.33 115.47h.8M391.08 126.59h.8M388.9 118.63h.8M388.4 125.69h.8M387.83 124.16h.8M389.84 119.78h.8M382.03 114.4h.8M389.68 119.2h.8M381.74 117.89h.8M383.9 115.74h.8M384.45 119.92h.8M383.52 117.76h.8M385.63 121h.8M385.91 125.62h.8M386.72 109.77h.8M383.57 118.83h.8M388.29 113.74h.8M382.93 122.09h.8M384.29 130.44h.8M383.91 130.27h.8M380.22 112.22h.8M389.89 126.83h.8M387.26 124.8h.8M387.24 116.1h.8M388.91 120.54h.8M389.05 124.57h.8M378.39 115.63h.8M389.56 123.11h.8M384.08 125.58h.8M383.97 120.46h.8M385.87 124.94h.8M390.96 124.3h.8M392.27 135.72h.8M391.68 130.9h.8M385.97 124.89h.8M384.99 119.25h.8M385.26 119.83h.8M391.4 127.47h.8M383.89 111.55h.8M385.31 121.29h.8M381.59 116.61h.8M377.4 127.7h.8M385.26 140.78h.8M385.39 123.04h.8M390.7 124.87h.8M386.1 121.58h.8M383.32 133.75h.8M389.1 135.15h.8M384.24 124.2h.8M382.33 130.29h.8M380.48 127.67h.8M389.45 133.17h.8M382.12 131.08h.8M382.93 119.08h.8M380.74 131.51h.8M391.43 120.14h.8M382.77 121.8h.8M394.53 130.53h.8M383.55 112.34h.8M383.08 131.72h.8M392.22 122.27h.8M383.01 120.69h.8M378.71 129.9h.8M381.59 130.91h.8M379.35 115.74h.8M386.54 119.04h.8M388.31 124.05h.8M381.27 128.04h.8M388.53 111.57h.8M392.07 127.23h.8M388.24 111.91h.8M382.91 121.73h.8M389.38 114.51h.8M382.32 110.81h.8M384.63 126.25h.8M379.43 120.16h.8M387.34 134.31h.8M387.89 122.03h.8M381.26 117.91h.8M383.11 124.96h.8M385.32 134.84h.8M386.53 117.03h.8M391.06 130.17h.8M385.86 119.31h.8M378.77 117.36h.8M388.78 118.78h.8M380.75 125.27h.8M386.38 127.94h.8M387.86 133.16h.8M382.48 130.36h.8M381.95 128.51h.8M386.14 125.58h.8M388.98 123.89h.8M389.5 129.69h.8M385.99 120.32h.8M382.79 120.57h.8M384.77 123.84h.8M396.23 128.15h.8M388.27 118.41h.8M382.94 121.93h.8M399.77 136.41h.8M405.45 137.59h.8M403.31 133.16h.8M398.97 139.69h.8M399.77 140.5h.8M400.12 139.41h.8M391.43 137.22h.8M389.63 140.57h.8M400.23 138.51h.8M395.71 137.55h.8M406.38 143.33h.8M398.77 142.22h.8M392.65 134.16h.8M397.07 136.81h.8M396.76 139.47h.8M411.1 137.35h.8M399.2 139.69h.8M398.86 141.33h.8M406.1 135.89h.8M399.65 138.34h.8M400.43 135.17h.8M391.97 133.21h.8M401.1 139.48h.8M399.29 133.08h.8M397.51 137.11h.8M393.35 136.71h.8M401.79 140.36h.8M398.91 140.29h.8M396.59 139.18h.8M399.16 140.39h.8M398.72 138.64h.8M398.46 137.39h.8M407.93 140.29h.8M400.72 144.73h.8M404.61 135.11h.8M401.78 141.09h.8M406.54 142.29h.8M402.08 136.06h.8M395.52 139.67h.8M401.02 136.45h.8M382.92 131.4h.8M386.48 138.03h.8M383.7 123.87h.8M395.94 149.36h.8M385.15 144.22h.8M389.55 140.94h.8M389.85 128.13h.8M390.59 144.1h.8M378.83 152.7h.8M402.72 151.41h.8M401.91 141.68h.8M383.29 129.6h.8M379.5 136.04h.8M385.74 141.03h.8M404.21 134.75h.8M391.41 139.28h.8M388.19 133.12h.8M385.02 127.58h.8M387.43 134.78h.8M388.56 127.3h.8M386.32 135.43h.8M390.83 125.43h.8M389.36 143.85h.8M390.78 131.68h.8M382.07 132.87h.8M391.83 148.98h.8M384.74 129.22h.8M389.01 136.84h.8M378.74 128.36h.8" stroke="#555" stroke-width="0.8" stroke-opacity="0.55" fill="none"/>
<g filter="url(#b0)">
<ellipse cx="386.2" cy="138.8" rx="6.6" ry="6.2" fill="#9c9c9c" stroke="#2e2e2e" stroke-width="1.7"/>
<ellipse cx="386.2" cy="138.8" rx="3.6" ry="3.4" fill="#a8a8a8" stroke="#666" stroke-width="0.8"/>
<ellipse cx="386.4" cy="138.8" rx="1.1" ry="1" fill="#555"/>
</g>
<line x1="395" y1="94.6" x2="395" y2="155.8" stroke="#595959" stroke-width="0.9"/>
<line x1="374.6" y1="130.6" x2="434.6" y2="130.6" stroke="#595959" stroke-width="0.9"/>
<text x="376" y="103.2" font-size="8.1" font-weight="bold" text-anchor="start" fill="#141414" stroke="#141414" stroke-width="0.2">1.14</text>
<text x="433.8" y="103.2" font-size="8.1" font-weight="bold" text-anchor="end" fill="#141414" stroke="#141414" stroke-width="0.2">0.092</text>
<text x="376" y="151.9" font-size="8.1" font-weight="bold" text-anchor="start" fill="#141414" stroke="#141414" stroke-width="0.2">98.0</text>
<text x="431.8" y="153.2" font-size="8.1" font-weight="bold" text-anchor="end" fill="#141414" stroke="#141414" stroke-width="0.2">0.75</text>
<path d="M366.9 141.8L366.9 162.9L388.3 162.9" fill="none" stroke="#000" stroke-width="1.8"/><path d="M366.9 138.8l-2.9 5h5.8z" fill="#000"/><path d="M391.3 162.9l-5 -2.9v5.8z" fill="#000"/>
<text x="362.6" y="152.3" font-size="9.6" font-weight="bold" text-anchor="middle" fill="#141414" transform="rotate(-90 362.6 152.3)" stroke="#141414" stroke-width="0.25">CD8</text>
<text x="368.3" y="175.2" font-size="9.2" font-weight="bold" text-anchor="start" fill="#141414" stroke="#141414" stroke-width="0.25">CD4</text>
<rect x="459.8" y="20.8" width="59.8" height="59.6" fill="none" stroke="#e6e6e6" stroke-width="0.6"/><line x1="459.2" y1="26.76" x2="460.8" y2="26.76" stroke="#999" stroke-width="0.7"/><line x1="459.2" y1="38.68" x2="460.8" y2="38.68" stroke="#999" stroke-width="0.7"/><line x1="459.2" y1="50.6" x2="460.8" y2="50.6" stroke="#999" stroke-width="0.7"/><line x1="459.2" y1="62.52" x2="460.8" y2="62.52" stroke="#999" stroke-width="0.7"/><line x1="459.2" y1="74.44" x2="460.8" y2="74.44" stroke="#999" stroke-width="0.7"/><line x1="459.8" y1="20.8" x2="459.8" y2="80.4" stroke="#d0d0d0" stroke-width="0.6" stroke-dasharray="1 1.6"/><line x1="461.8" y1="79.6" x2="461.8" y2="81.2" stroke="#777" stroke-width="0.9"/><line x1="466.17" y1="79.6" x2="466.17" y2="81.2" stroke="#777" stroke-width="0.9"/><line x1="470.54" y1="79.6" x2="470.54" y2="81.2" stroke="#777" stroke-width="0.9"/><line x1="474.91" y1="79.6" x2="474.91" y2="81.2" stroke="#777" stroke-width="0.9"/><line x1="479.28" y1="79.6" x2="479.28" y2="81.2" stroke="#777" stroke-width="0.9"/><line x1="483.65" y1="79.6" x2="483.65" y2="81.2" stroke="#777" stroke-width="0.9"/><line x1="488.02" y1="79.6" x2="488.02" y2="81.2" stroke="#777" stroke-width="0.9"/><line x1="492.38" y1="79.6" x2="492.38" y2="81.2" stroke="#777" stroke-width="0.9"/><line x1="496.75" y1="79.6" x2="496.75" y2="81.2" stroke="#777" stroke-width="0.9"/><line x1="501.12" y1="79.6" x2="501.12" y2="81.2" stroke="#777" stroke-width="0.9"/><line x1="505.49" y1="79.6" x2="505.49" y2="81.2" stroke="#777" stroke-width="0.9"/><line x1="509.86" y1="79.6" x2="509.86" y2="81.2" stroke="#777" stroke-width="0.9"/><line x1="514.23" y1="79.6" x2="514.23" y2="81.2" stroke="#777" stroke-width="0.9"/><line x1="518.6" y1="79.6" x2="518.6" y2="81.2" stroke="#777" stroke-width="0.9"/><line x1="459.8" y1="80.4" x2="519.6" y2="80.4" stroke="#bbb" stroke-width="0.5"/>
<rect x="461.5" y="60.2" width="25" height="10" rx="4" fill="#6c6c6c" fill-opacity="0.55" filter="url(#b1)"/>
<ellipse cx="474" cy="71" rx="12" ry="5" fill="#888" fill-opacity="0.3" filter="url(#b2)"/>
<path d="M468.24 66.51h.8M483.24 69.84h.8M466.24 70.41h.8M480.73 72.51h.8M484.09 62.26h.8M474.36 72.85h.8M484.93 65.94h.8M465.79 67.25h.8M470.96 64.92h.8M473.04 65.01h.8M463.97 63.78h.8M469.56 58.91h.8M471.24 65.21h.8M487.22 63.96h.8M474.92 69.94h.8M487.59 73.82h.8M467.59 69.99h.8M480.1 65.42h.8M476.68 65.82h.8M480.2 70.84h.8M461.86 65.7h.8M468.4 68.97h.8M477.11 66.26h.8M464.71 67.71h.8M483.65 68.41h.8M484.03 63.87h.8M471.64 70.85h.8M467.31 63.01h.8M472.75 71.48h.8M483.34 64.46h.8M462.09 56.44h.8M467.56 64.24h.8M478.25 75.17h.8M472.68 70.97h.8M487.65 66.57h.8M483.18 57.09h.8M485.28 70.1h.8M479.53 66.27h.8M475.73 69.54h.8M475.12 62.97h.8M487.13 64.5h.8M463.96 68.11h.8M487.27 62.44h.8M475.49 72.7h.8M468.79 66.5h.8M468.64 65.26h.8M484.03 66.7h.8M476.51 63.83h.8M473.46 63.3h.8M477.7 71.75h.8M466.78 61.77h.8M460.93 64.93h.8M484.65 65.52h.8M468.55 69.65h.8M468.84 68.38h.8M484.91 64.04h.8M472.87 65.66h.8M463.65 66.58h.8M464.91 73.95h.8M470.43 63.01h.8M483.51 60.88h.8M481.21 64.95h.8M482.5 59.29h.8M486.12 77.53h.8M481.96 61.67h.8M476.56 63.09h.8M482.46 68.54h.8M473.22 61.77h.8M480.77 64.27h.8M471.33 68.56h.8M482.56 67.61h.8M465.74 61.86h.8M464.65 68.29h.8M486.27 62.18h.8M487.35 62.15h.8M460.9 66.16h.8M486.28 63.57h.8M475.62 69.42h.8M479.72 65.16h.8M470.58 62.5h.8M479.47 63.38h.8M463.36 62.7h.8M476.62 67.71h.8M487.51 61.44h.8M488.39 65.51h.8M475.39 66.06h.8M487.9 63.24h.8M474.9 70.9h.8M483.49 69.95h.8M485.38 63.41h.8M474.87 66.17h.8M465.85 67.23h.8M470.45 69.7h.8M478.36 68.68h.8M469.16 66.15h.8M460.71 62.94h.8M479.24 65.29h.8M468.02 65.26h.8M475.43 69.77h.8M463.99 71.13h.8M463.39 62.71h.8M477.7 64.28h.8M462.33 71.19h.8M480.56 65.67h.8M465.33 65.03h.8M476.85 66.79h.8M473.15 64.32h.8M476.86 65.97h.8M472.87 68.66h.8M486.57 67.06h.8M483.36 62.79h.8M477.41 69.17h.8M467.38 64.18h.8M480.65 65.74h.8M474.11 68.16h.8M467.39 74.76h.8M487.71 76.59h.8M475.49 74.01h.8M464.04 67.28h.8M465.93 74.24h.8M479.13 64.09h.8M463.18 66.91h.8M483.9 67.83h.8M483.06 66.66h.8M471.12 69.67h.8M466.4 69.38h.8M473.23 68.93h.8M485.7 69.22h.8M470.87 77.16h.8M484.94 68.21h.8M468.14 68.13h.8M471.34 62.71h.8M471.48 74.89h.8M469.56 71.32h.8M463.64 62.13h.8M468.89 69.79h.8M464.12 67.52h.8M468.48 58.91h.8M485.23 69.57h.8M464.29 65.06h.8M479.11 66.05h.8M472.11 65.13h.8M484.22 76.08h.8M463.81 70.06h.8M461.73 72.57h.8M469.06 67.18h.8M461.69 76.95h.8M484.02 60.17h.8M472.73 62.83h.8M470.34 71.84h.8M468.59 74.75h.8M461.92 77.1h.8M466.46 69.19h.8M481.51 69.82h.8M481.46 67.98h.8M468.44 72.35h.8M486.55 69.73h.8M481.21 67.57h.8M462.11 60.89h.8M472.55 70.23h.8M481.86 70.45h.8M467.89 66.68h.8M487.65 66.71h.8M462.26 74.61h.8M469.26 68.79h.8M467.24 66.14h.8M486.71 64.83h.8M468.95 66.65h.8M469.91 63.92h.8M475.9 65.34h.8M477.3 63.07h.8M481.98 66.04h.8M470.66 74.39h.8M466.1 66.25h.8M473.1 67.55h.8M470.73 71.6h.8M488.28 65.43h.8M462.94 63.19h.8M463.64 55.6h.8M472.72 76.23h.8M486.26 62.17h.8M478.81 61.32h.8M467.46 65.73h.8M484.02 65.83h.8M465.78 60.82h.8M465.3 60.04h.8M483.77 67h.8M483.63 63.77h.8M470.9 68.24h.8M467.28 69.58h.8M483.47 66.36h.8M485.85 69.05h.8M464.99 63.81h.8M476.81 74.32h.8M472.96 70.63h.8M472.86 77.72h.8M484.06 68.98h.8M468.5 60.34h.8M474.96 62.4h.8M479.18 66.71h.8M485.82 66.7h.8M476.32 67.72h.8M466.05 67.86h.8M487.7 66.78h.8M484.75 74.03h.8M483.23 68.25h.8M468.89 60.91h.8M487.18 60.18h.8M470.18 65.81h.8M461.38 67.18h.8M462.98 70.09h.8M470.98 62.03h.8M476.36 63.43h.8M463.79 68.31h.8M463.73 71.86h.8M467.67 68.76h.8M474.25 67.62h.8M466.92 63.66h.8M477.02 69.53h.8M472.86 65.95h.8M475.96 63.62h.8M488.24 64.91h.8M471.54 76.61h.8M482.22 71.25h.8M467.21 64.01h.8M461.02 63.19h.8M480.34 63.85h.8M485.39 60.06h.8M486.2 60.3h.8M465.29 65.11h.8M479.59 62h.8M464.02 61.2h.8M480.74 69.36h.8M475.91 64.23h.8M463.75 69.88h.8M465.99 62.83h.8M483.98 69.92h.8M463.68 65.9h.8M468.69 63.07h.8M471.22 69.6h.8M479.84 70.82h.8M487.07 71.36h.8M474.6 65.22h.8M465.69 67.4h.8M473.87 73.53h.8M484.96 62.31h.8M462.72 64.03h.8M477.04 73.06h.8M473.65 68.1h.8M471.42 64.97h.8M469.91 58.23h.8M461.87 69.29h.8M468.23 62.74h.8M467.91 61.31h.8M488.28 63.83h.8M484.94 62.97h.8M478.26 63h.8M482.79 62.71h.8M486.79 63.95h.8M481.23 62.49h.8M478.32 62.59h.8M462.29 68.77h.8M469.62 69.2h.8M467.39 69.58h.8M460.8 66.73h.8M473.24 60.92h.8M465.31 69.77h.8M480.87 68.05h.8M486.75 60.95h.8M462.83 59.35h.8M470.56 60.18h.8M472.55 66.09h.8M485.69 64.23h.8M467.79 67.28h.8M480.25 68.57h.8M477.42 66.58h.8M478.68 67.07h.8M477.37 74.35h.8M470.12 73.11h.8M485.02 69.22h.8M486.35 65.93h.8M478.71 68.23h.8M479.54 64.57h.8M461.87 66.23h.8M469.93 60.48h.8M473.53 76.17h.8M488.15 65.55h.8M469.78 72.39h.8M482 72.85h.8M475.63 61.82h.8M476.08 62.59h.8M481.28 61.23h.8M480.45 65.71h.8M482.16 59.17h.8M473.24 64.45h.8M464.28 64.51h.8M482.2 65.97h.8M488.21 78.49h.8M461.38 66.02h.8M476.09 74.99h.8M464.77 70.22h.8M465.12 71.59h.8M488.01 62.63h.8M478.35 61.69h.8M469.63 70.41h.8M463.61 65.07h.8M471.81 63.92h.8M462.27 61.89h.8M486.96 63.79h.8M466.85 65.17h.8M467.06 71.37h.8M468.93 60.19h.8M466.64 63.35h.8M484.85 64.34h.8M481.57 66.46h.8M474.15 62.64h.8M465.11 63.26h.8M476.76 60.89h.8M466.45 67.66h.8M460.86 71.31h.8M464.81 68.97h.8M479.65 67.89h.8M480.59 66.91h.8M487.93 67.7h.8M479.84 67.73h.8M469.43 66.54h.8M463.96 63.31h.8M465.59 65.35h.8M464.73 65.71h.8M470.46 57.36h.8M466.6 65.38h.8M485.24 67.43h.8M467.98 66.14h.8M471.99 65.64h.8M470.72 70.53h.8M475.78 65.56h.8M479.86 72.28h.8M471.74 64.41h.8M472.29 68.61h.8M472.04 71.46h.8M477.56 65.2h.8M467.71 68.19h.8M466.14 70.22h.8M485.95 69.63h.8M478.63 62.29h.8M469.41 65.35h.8M484.41 65.17h.8M477.12 67.76h.8M481.34 65.12h.8M480.47 61.84h.8M479.49 67.85h.8M478.15 62.8h.8M467.99 64.53h.8M473.8 64.44h.8M466.77 75.95h.8M475.22 63.31h.8M483.29 65.35h.8M473.44 67.35h.8M483.69 65.41h.8M471.24 63.78h.8M464.89 65.18h.8M483.01 66.83h.8M473.23 68.19h.8M479.99 67.04h.8M473.95 63.76h.8M479.58 75.05h.8M470.94 74.72h.8M466.2 70.33h.8M480.64 74.93h.8M483.87 69.38h.8M466.23 67.9h.8M482.71 68.07h.8M472.95 61.49h.8M471.98 69.3h.8M483.22 63.13h.8M486.4 77.98h.8M470.99 64.21h.8M469.79 70.51h.8M475.27 67.73h.8M485.75 65.24h.8M473.5 64.4h.8M484.02 61.79h.8M472.87 67.22h.8M474.88 67.56h.8M471.81 68.56h.8M482.06 61.18h.8M463.9 65.46h.8M463.44 71.12h.8M462.13 60.69h.8M480.44 64.03h.8M472.26 65.33h.8M488.45 62.67h.8M469.93 64.82h.8M468.26 65.16h.8M469.33 64.98h.8M474.86 72.12h.8M462.03 62.84h.8M484.5 71.82h.8M466.24 69.31h.8M473.55 66.6h.8M476.89 77.05h.8M486.25 64.14h.8M475.47 64.81h.8M476.36 63.95h.8M468.73 67.7h.8M482.99 61.97h.8M473.01 63.09h.8M462.21 73.6h.8M484.67 73.65h.8M486.33 59.37h.8M479.4 62.85h.8M468.83 79.33h.8M486.21 73h.8M482.48 68.65h.8M467.79 64.1h.8M479.74 65.87h.8M461.77 66.19h.8M468.79 65.7h.8M476.24 74.39h.8M484.07 74.84h.8M471.52 66.31h.8M466.83 68.63h.8M463.21 59.69h.8M479.54 72.09h.8M486.36 63.63h.8M486.81 62.34h.8M481.54 64.72h.8M486.54 68.56h.8M477.28 67.42h.8M463.07 66.98h.8M484.19 72.03h.8M477.31 64.79h.8M470.21 68.75h.8M469.89 62.69h.8M465.59 66.02h.8M468.92 73.43h.8M475.99 66.31h.8M461.54 60.62h.8M463.31 64.08h.8M470.45 63.72h.8M479.1 66.3h.8M469.85 67.03h.8M484.97 71.32h.8M485.13 68.24h.8M463.88 67.95h.8M465.18 61.14h.8M466.12 64.28h.8M466.28 67.01h.8M474.6 67.06h.8M461.02 69h.8M476.51 63.79h.8M467 65.2h.8M461.46 63.18h.8M476.74 65.67h.8M480.43 71.16h.8M488.02 65.92h.8M483.33 61.57h.8M483.21 73.41h.8M486.83 73.42h.8M467.43 64.25h.8M470.21 73.31h.8M469.84 77.1h.8M473.98 63.39h.8M482.34 70.09h.8M466.15 62.01h.8M484.2 65.55h.8M470.34 77.57h.8M481.4 76.01h.8M485.84 57.95h.8M483.83 66.71h.8M483.62 60.77h.8M484.9 62.5h.8M486.99 78.76h.8M467.63 63.99h.8M467.08 75.72h.8M474.34 69.66h.8M471.54 62.3h.8M482.74 61.78h.8M471.93 66.08h.8M470.07 59.75h.8M483.93 65.29h.8M461.06 72.79h.8M477.47 61.83h.8M469.96 65.94h.8M477.88 68.39h.8M463.05 64.48h.8M479.04 70.59h.8M463.97 64.78h.8M465.74 64.27h.8M487.32 63.58h.8M477.63 67.1h.8M471.6 56.46h.8M488.18 72.3h.8M475.31 75.9h.8M473.28 72.72h.8M467.6 64.23h.8M484.66 66.49h.8M471.11 71.88h.8M462.72 61.99h.8M472.99 68.4h.8M478.23 64.33h.8M475.17 61.8h.8M470.75 58.37h.8M462.19 67.9h.8M473.09 60.63h.8M485.46 63.57h.8M469.67 70.84h.8M464.63 71.76h.8M476.69 68.54h.8M478.5 66.21h.8M481.87 64.08h.8M487.89 69.44h.8M483.06 63.67h.8M480.4 62.13h.8M468.34 67.61h.8M482.74 69.1h.8M464.5 70.08h.8M481.2 74.42h.8M468.9 58.42h.8M465.82 71.33h.8M486.93 66.2h.8M463.63 68.11h.8M471.59 58.42h.8M466.29 71.14h.8M473.16 67.79h.8M469.38 71.23h.8M476.19 61.26h.8M481.6 64.67h.8M475.37 68.48h.8M478.18 78.72h.8M483.66 62.21h.8M468.01 76.14h.8M481.63 67.08h.8M472.12 65.8h.8M478.59 63.61h.8M478.29 63.05h.8M486.84 59.55h.8M470.13 60.25h.8M465.78 69.16h.8M475.44 60.04h.8M464.33 64.51h.8M462.44 61.67h.8M479.23 67.34h.8M471.86 62.7h.8M482.6 63.95h.8M464.82 62.43h.8M485.66 60.04h.8M481.33 67.38h.8M464.26 60.63h.8M480.24 68.66h.8M477.43 67.79h.8M466.85 69.57h.8M482.98 68.12h.8M480.11 71.21h.8M460.7 68.13h.8M464.47 65.01h.8M476.08 66.41h.8M461.7 69.07h.8M478.16 63.52h.8M466.68 67.85h.8M466.43 68.59h.8M461.45 59.81h.8M461.39 70.86h.8M478.18 64.46h.8M474.89 60.62h.8M466.91 72.98h.8M487.42 56.66h.8M488.12 73.22h.8M473.27 62.94h.8M470.13 67.99h.8M466.02 66.83h.8M475 63.05h.8M466.09 66.07h.8M476.23 62.36h.8M487.06 56.23h.8M480.76 69.41h.8M460.96 68.87h.8M467.96 60.97h.8M465.17 57.92h.8M461.83 65.08h.8M483.05 71.11h.8M463.45 66.79h.8M473.75 66.46h.8M486.04 66.3h.8M464.18 66.06h.8M466.44 63.58h.8M461.19 69.83h.8M487.96 62.22h.8M481.03 60.42h.8M464.33 72.34h.8M471.17 74.82h.8M473.54 75.26h.8M462.58 62.42h.8M478.03 68.23h.8M466.34 74.67h.8M463.5 63.28h.8M464.12 66.4h.8M478.35 68.87h.8M472.87 73.98h.8M473.73 60.96h.8M467.29 68.27h.8M479.91 63.3h.8M477.31 71.95h.8M466.98 75.47h.8M482.59 67.42h.8M461.67 79.02h.8M461.66 71.62h.8M466.73 73.27h.8M486.56 60.14h.8M464.88 71.09h.8M487.75 63.56h.8M465.82 65.93h.8M463.55 63.25h.8M485.42 65.4h.8M476.11 65.08h.8M474.62 61.77h.8" stroke="#555" stroke-width="0.8" stroke-opacity="0.55" fill="none"/>
<path d="M467.73 73.33h.8M477.41 68.42h.8M473.9 71.56h.8M476.67 71.97h.8M474.01 75.95h.8M461.57 69.78h.8M477.2 70.2h.8M471.04 70.04h.8M477.88 77.59h.8M474.33 70.8h.8M479.2 70.91h.8M472.61 69.43h.8M481.65 72.2h.8M470.92 62.21h.8M460.53 72.06h.8M474.94 73.97h.8M478.01 69.85h.8M464.62 67.08h.8M474.75 66.83h.8M482.8 66.03h.8M467.07 71.77h.8M473.8 68.31h.8M483.78 76.59h.8M495.47 65.42h.8M481.04 71.94h.8M483.61 69.69h.8M482.49 76.03h.8M481.46 78.51h.8M474.43 78.95h.8M469.7 79.5h.8M468.8 72.01h.8M485.28 75.23h.8M476.85 79.66h.8M462.72 68.34h.8M489.59 73.48h.8M465.34 78.65h.8M486.29 69.54h.8M487.64 68.25h.8M484.28 74.61h.8M474.86 65.6h.8M473.48 61.7h.8M470.93 63.67h.8M486.94 67.65h.8M479.32 69.72h.8M495.06 75.48h.8M476.6 69.1h.8M484.64 69.34h.8M463.28 71.81h.8M460.95 72.03h.8M482.94 78.79h.8M478.39 72.88h.8M482.75 78.3h.8M496.06 57.65h.8M494.08 57.44h.8M493.67 65.18h.8M498.84 67.06h.8M497.69 63.57h.8M499.18 72.02h.8M500.59 76.18h.8M496.18 64.29h.8M504.52 67.37h.8M499.13 63.71h.8M501.47 63.26h.8M493.17 65.59h.8M495.54 71.67h.8M495.81 66.84h.8M496.49 68.31h.8M494.75 73.51h.8M491.42 63.38h.8M494.42 70.41h.8M497.57 69.3h.8M496.01 61.12h.8M492.7 63.73h.8M495.15 67.9h.8M498.89 72.64h.8M496.95 60.91h.8M492.94 66.42h.8M498.92 79.25h.8M498.16 77.95h.8M505.27 58.87h.8M502.48 73.73h.8M503.05 65.93h.8M501.41 62.73h.8M497.11 66.13h.8M504.89 64.54h.8M501.41 66.45h.8M494.42 67.65h.8M500.17 61.16h.8M500.06 61.16h.8M493.72 67.5h.8M496.41 59.32h.8M490.56 66.16h.8M498.42 62.88h.8M498.19 55.62h.8M499.05 68.83h.8M498.57 61.83h.8M497.73 66.88h.8M501.89 67.88h.8M498.47 61.08h.8M501.02 73.97h.8M495.33 70.34h.8M498.69 65.68h.8M492 77.94h.8M489.57 68.06h.8M495.82 73.78h.8M495.62 66.27h.8M499.96 69.1h.8M495.22 70.63h.8M499.04 72.72h.8M495.26 65.69h.8M495.76 60.31h.8M498.47 68.78h.8M503.35 63.79h.8M499.02 73.76h.8M496.92 66.43h.8M497.96 61.32h.8M493.26 73.58h.8M498.13 65.49h.8M492.2 66.8h.8M502.31 58.2h.8M493.67 73.52h.8M503.39 76.52h.8M495.09 70.07h.8M494.26 69.53h.8M495.87 67.33h.8M503.01 68.29h.8M496.39 66.38h.8M498.51 62.53h.8M498.26 70.06h.8M503.92 52.05h.8M492.43 57.63h.8M498.21 66.82h.8M502.16 49.49h.8M496.65 44.93h.8M498.05 62.56h.8M495.38 68.3h.8M494.96 73.51h.8M497.39 68.57h.8M507.99 62.97h.8M501.26 60.42h.8M502.6 72.51h.8M497.98 72.7h.8M504.11 75.3h.8M497.41 65.63h.8M502.02 56.08h.8M494.89 69.27h.8M499.77 78.55h.8M504.73 68.19h.8M499.24 57.11h.8M496.63 67.76h.8M496.46 66.41h.8M499.93 59.59h.8M495.04 54.03h.8M502.16 58.89h.8M490.32 71.19h.8M496.51 72.5h.8M500.37 67.01h.8M497.88 64.62h.8M500.76 79.45h.8M495.65 58.68h.8M499.88 73.18h.8M491.2 61.35h.8M493.26 69.78h.8M499.5 61.07h.8M492.72 70.59h.8M488.87 70.33h.8M496.76 78.89h.8M501.52 62.11h.8M496.26 64.14h.8M494.38 66.55h.8M501.4 55.89h.8M496.46 76.01h.8M500.47 60.54h.8M494.06 60.27h.8M490.75 73.71h.8M497.69 61.33h.8M491.46 63.43h.8M495.28 77.53h.8M495.5 66.77h.8M501.83 70.47h.8M496.65 51.39h.8M503.2 70h.8M495.61 65.41h.8M493.45 59.99h.8M491.27 69.36h.8M499.54 67.17h.8M500.62 69.58h.8M497.9 60.09h.8M499.84 73.93h.8M500.01 74.34h.8M495.45 59.46h.8M502.56 62.1h.8M498.4 64.73h.8M497.49 64.19h.8M495.18 54.1h.8M505.26 67.36h.8M489.46 59.95h.8M492.76 61.05h.8M486.9 69.84h.8M504.16 64.36h.8" stroke="#555" stroke-width="0.8" stroke-opacity="0.55" fill="none"/>
<g filter="url(#b0)">
<path d="M497.4 58.8C501.4 58.8 503.4 61.6 502.8 65.6C502.2 70 500.3 75.2 497.6 77.2C494.7 75.2 492.6 70 492 65.6C491.4 61.6 493.4 58.8 497.4 58.8Z" fill="#a6a6a6" fill-opacity="0.85" stroke="#505050" stroke-width="1"/>
</g>
<rect x="492.3" y="43.6" width="11.7" height="8.3" rx="3.2" ry="3.2" fill="none" stroke="#4a4a4a" stroke-width="0.8"/>
<path d="M497 47.6l1.8 .5" stroke="#777" stroke-width="0.6"/>
<text x="497.8" y="37.2" font-size="8.1" font-weight="bold" text-anchor="middle" fill="#141414" stroke="#141414" stroke-width="0.2">0.01</text>
<rect x="459.8" y="96.2" width="59.8" height="59.4" fill="none" stroke="#e6e6e6" stroke-width="0.6"/><line x1="459.2" y1="102.14" x2="460.8" y2="102.14" stroke="#999" stroke-width="0.7"/><line x1="459.2" y1="114.02" x2="460.8" y2="114.02" stroke="#999" stroke-width="0.7"/><line x1="459.2" y1="125.9" x2="460.8" y2="125.9" stroke="#999" stroke-width="0.7"/><line x1="459.2" y1="137.78" x2="460.8" y2="137.78" stroke="#999" stroke-width="0.7"/><line x1="459.2" y1="149.66" x2="460.8" y2="149.66" stroke="#999" stroke-width="0.7"/><line x1="459.8" y1="96.2" x2="459.8" y2="155.6" stroke="#d0d0d0" stroke-width="0.6" stroke-dasharray="1 1.6"/><line x1="461.8" y1="154.8" x2="461.8" y2="156.4" stroke="#777" stroke-width="0.9"/><line x1="466.17" y1="154.8" x2="466.17" y2="156.4" stroke="#777" stroke-width="0.9"/><line x1="470.54" y1="154.8" x2="470.54" y2="156.4" stroke="#777" stroke-width="0.9"/><line x1="474.91" y1="154.8" x2="474.91" y2="156.4" stroke="#777" stroke-width="0.9"/><line x1="479.28" y1="154.8" x2="479.28" y2="156.4" stroke="#777" stroke-width="0.9"/><line x1="483.65" y1="154.8" x2="483.65" y2="156.4" stroke="#777" stroke-width="0.9"/><line x1="488.02" y1="154.8" x2="488.02" y2="156.4" stroke="#777" stroke-width="0.9"/><line x1="492.38" y1="154.8" x2="492.38" y2="156.4" stroke="#777" stroke-width="0.9"/><line x1="496.75" y1="154.8" x2="496.75" y2="156.4" stroke="#777" stroke-width="0.9"/><line x1="501.12" y1="154.8" x2="501.12" y2="156.4" stroke="#777" stroke-width="0.9"/><line x1="505.49" y1="154.8" x2="505.49" y2="156.4" stroke="#777" stroke-width="0.9"/><line x1="509.86" y1="154.8" x2="509.86" y2="156.4" stroke="#777" stroke-width="0.9"/><line x1="514.23" y1="154.8" x2="514.23" y2="156.4" stroke="#777" stroke-width="0.9"/><line x1="518.6" y1="154.8" x2="518.6" y2="156.4" stroke="#777" stroke-width="0.9"/><line x1="459.8" y1="155.6" x2="519.6" y2="155.6" stroke="#bbb" stroke-width="0.5"/>
<ellipse cx="495" cy="140" rx="5.2" ry="6.5" fill="#707070" fill-opacity="0.6" filter="url(#b1)"/>
<ellipse cx="492" cy="139" rx="8" ry="5" fill="#888" fill-opacity="0.3" filter="url(#b2)"/>
<path d="M483.01 141.27h.8M472.28 143.09h.8M469.91 137.81h.8M477.06 143.2h.8M479.64 139.13h.8M474.66 139.76h.8M479.23 141.65h.8M486.52 141.67h.8M479.1 139.05h.8M487.63 140.09h.8M478.91 144.78h.8M487.45 141.17h.8M478.41 137.64h.8M484.75 138.17h.8M484.17 137.2h.8M479.56 140.68h.8M479.78 140.19h.8M481.05 136.2h.8M473.03 139.07h.8M488.71 139.14h.8M474.02 137.56h.8M479.18 142.97h.8M475.96 141.15h.8M480.01 138.46h.8M473.92 139.05h.8M475.11 141.08h.8M469.53 142.81h.8M483.08 141.2h.8M487.05 141.27h.8M469.82 139.66h.8M481.42 137.5h.8M472.93 140.77h.8M481.75 138.25h.8M477.7 138.02h.8M475.95 139.33h.8M484.76 134.79h.8M477.17 144.23h.8M480.7 139.95h.8M483.48 136.56h.8M472.51 134.64h.8M471.18 140.23h.8M483.56 138.28h.8M475.35 140.68h.8M482.29 140.25h.8M468.79 137.91h.8M465.42 140.21h.8M474.45 137.58h.8M487.06 143.36h.8M481.58 140.31h.8M479.93 137.79h.8M478.73 145.09h.8M474.31 137.57h.8M479.87 142.11h.8M483.46 136.68h.8M478.3 138.73h.8M472.4 139.73h.8M476.43 142.19h.8M481.32 137.22h.8M479.43 138.46h.8M475.6 138.08h.8M484.69 138.29h.8M469.83 137.24h.8M483.32 145.78h.8M473.36 138.46h.8M477.24 135.39h.8M481.15 139.35h.8M480.49 146.03h.8M477.58 141.82h.8M483.46 137.65h.8M475.83 144.04h.8M482.83 139.92h.8M473.15 142.08h.8M481.82 145.91h.8M486.88 141.85h.8M480.43 139.68h.8M476.06 140.4h.8M480.31 141.4h.8M484.81 140.41h.8M476.1 141.86h.8M487.3 137.07h.8M481.25 141.1h.8M481.87 140.97h.8M478.52 139.2h.8M488.02 144.55h.8M471.51 132.1h.8M481.34 137.53h.8M476.24 134.85h.8M480.89 139.34h.8M476.12 142.12h.8M492 143.8h.8M485.28 138.3h.8M482.52 139.39h.8M485.19 141.2h.8M478.82 141.11h.8M475.17 141.81h.8M487.04 138.45h.8M481.97 134.65h.8M484.01 142.06h.8M473.55 144.58h.8M479.61 134.46h.8M471.69 142.05h.8M477.55 142.72h.8M470.72 139.21h.8M484.22 137.53h.8M482.64 138.45h.8M480.84 140.44h.8M490.93 135.89h.8M483.16 143.33h.8M472.99 139.74h.8M491.34 142.56h.8M463.15 138.81h.8M469.87 140.38h.8M475.12 137.86h.8M474.53 140.36h.8M476.51 136.86h.8M477.79 140.69h.8M474.43 142.74h.8M470.13 140.69h.8M476.92 144.09h.8M475.56 137.57h.8M471.83 145.29h.8M482.3 136.34h.8M477.21 136.71h.8M487.14 140.72h.8M468.12 140.11h.8M483.89 139.51h.8M481.53 139.18h.8M480.12 140.12h.8M475.22 140.51h.8M479.88 139.39h.8M492.14 134.07h.8M495.76 143.01h.8M485.4 136.4h.8M500.06 143.45h.8M492.03 145.57h.8M490.96 135.16h.8M502.34 136.88h.8M493.96 130.98h.8M490.87 133.29h.8M494.27 130.08h.8M498.93 137.27h.8M492.44 135.92h.8M497.69 146.46h.8M493.21 146.84h.8M501.06 145.52h.8M495.96 131.76h.8M497.42 137.01h.8M495.56 129.84h.8M493.7 140.14h.8M491.15 140.43h.8M501.31 140.12h.8M492.13 150.6h.8M486.42 134.53h.8M496.39 136.12h.8M485.87 140.27h.8M498.04 135.13h.8M500.51 141.43h.8M499.44 131.57h.8M494.79 146.79h.8M502.65 145.42h.8M494.8 139.89h.8M492.36 144.35h.8M492.09 139.6h.8M486.76 131.67h.8M501.73 139.29h.8M495.64 128.3h.8M494.67 149.09h.8M488.97 127.41h.8M494.17 136.41h.8M493.98 132.87h.8M489.51 132.97h.8M497.3 138.77h.8M498.01 133.74h.8M497.11 136.84h.8M495.15 143.56h.8M494.93 137.29h.8M488.3 139.31h.8M497.86 135.91h.8M494.54 130.36h.8M489.58 140.97h.8M499.87 137.48h.8M488.26 137.14h.8M488.68 137.65h.8M502.36 140.46h.8M494.2 144.08h.8M493.31 140.63h.8M495.58 141.18h.8M489.04 142.48h.8M498.26 127.82h.8M484.16 134.61h.8M500.65 139.1h.8M497.46 141.72h.8M498.29 135.87h.8M492.5 140.85h.8M497.19 141.82h.8M496.13 136.62h.8M499.14 141.32h.8M498.98 126.51h.8M498.77 127.01h.8M495.63 135.73h.8M495.27 136.66h.8M493.58 139.95h.8M496.16 135.07h.8M484.84 135.16h.8M496.93 134.85h.8M496.49 137.18h.8M491.08 144.76h.8M501.34 138.49h.8M494.6 143.72h.8M489.56 134.7h.8M499.27 143.44h.8M492.85 135.16h.8M496.18 132.05h.8M492.83 137.85h.8M485.07 141.92h.8M497.82 144.27h.8M489.12 132.65h.8M491.58 132.55h.8M502.93 134.17h.8M493.56 140.02h.8M496.61 146.18h.8M490.49 143.36h.8M495.39 133.2h.8M495.4 132.06h.8M501.23 135.38h.8M498.79 145.45h.8M492.35 134.55h.8M495.32 133.8h.8M498.37 139.87h.8M491.77 135.6h.8M497.68 131.81h.8M501.51 135.1h.8M494.02 134.41h.8M501.25 143.09h.8M499.97 142.25h.8M495.16 147.42h.8M497.44 141.17h.8M497.09 142.66h.8M495.91 138.17h.8M488.45 149.24h.8M489.62 128.28h.8M491.96 148.63h.8M499.66 136h.8M495.85 138.88h.8M486.89 137.33h.8M495.96 144.84h.8M490 127.75h.8M488.52 140.65h.8M495.12 139.75h.8M495.39 137.17h.8M489.35 141.26h.8M496.34 141.88h.8M499.78 132.82h.8M485.46 130.1h.8M503.34 134.44h.8M496.39 138.92h.8M497.71 155.04h.8M492.74 138.15h.8M492.41 140.23h.8M496.88 134.15h.8M500.07 144.73h.8M496.58 138.45h.8M493.85 130.78h.8M497.42 134.13h.8M492.79 143.98h.8M491.12 136.39h.8M498.23 148.28h.8M492.04 144.52h.8M492.18 140.94h.8M496.74 133.31h.8M498.9 148h.8M495.01 140.35h.8M490.11 147.94h.8M495.05 132.62h.8M497.86 131.69h.8M492.05 128.34h.8M500.3 150.05h.8M492.26 135.73h.8M492.49 136.17h.8M497.02 146.29h.8M490.77 141.2h.8M487.59 146.62h.8M494.45 135.5h.8M500.92 138.47h.8M500.28 144.37h.8M501.43 135h.8M495.03 140.84h.8M494.02 146.61h.8M491.94 144.01h.8M500.25 129.23h.8M490.92 134.48h.8M492.62 140.95h.8M494.1 139.39h.8M492.96 138.59h.8M496.74 142.73h.8M491.67 138.43h.8M491.75 138.11h.8M489.06 143.77h.8M497.49 138.39h.8M492.06 136.72h.8M492.14 131.28h.8M489.88 133.17h.8M497.11 142.03h.8M488.51 129.4h.8M496.97 129.04h.8M500.49 136.52h.8M495.14 138.98h.8M492.56 138.29h.8M493.6 145.22h.8M494.43 138.84h.8M492.68 135.83h.8M491.85 139.05h.8M502.15 144.58h.8M495.75 147.34h.8M498.86 140.04h.8M494.14 133.51h.8M495.79 137.42h.8M488.46 132.58h.8M502.55 140.07h.8M496.79 140h.8M492.94 141.31h.8M499.13 137.46h.8M496.85 144.13h.8M492.87 139.85h.8M491.84 142.02h.8M493.32 144.73h.8M491.74 147.45h.8M493.56 134.8h.8M491.18 142.31h.8M491.38 148.02h.8M499.93 141.59h.8M489.11 138.88h.8M491.9 129.94h.8M496.5 150.01h.8M492.66 143.05h.8M499.94 134.2h.8M493.44 140.34h.8M496.69 133.27h.8M495.67 138.46h.8M498.61 131.01h.8M492.54 136.48h.8M493.53 142.61h.8M492.29 152.69h.8M491.97 143.2h.8M498.88 143.82h.8M493.98 134.85h.8M493.78 142.33h.8M495.28 141.91h.8M497.1 134.58h.8M491.06 146.21h.8M492.86 131.08h.8M502.24 134.83h.8M491.06 143.84h.8M490.27 134.65h.8M498.99 134.9h.8M504.83 139.49h.8M505.54 139.65h.8M495.02 135.79h.8M493.91 136.5h.8M494.71 142.86h.8M489.72 134.41h.8M486.43 146.52h.8M494.5 138.93h.8M494.57 144.02h.8M496.08 143.25h.8M494.13 138.39h.8M494.58 129.69h.8M499.16 131.11h.8M490.82 142.35h.8M495.02 143.06h.8M501.62 148.31h.8M500.33 137.87h.8M503 134.6h.8M494.45 143.98h.8M493.95 138.39h.8M493.39 145.82h.8M484.93 145.36h.8M499.04 138.64h.8M497.04 134.16h.8M499.24 154.3h.8M491.12 145.98h.8M494.57 137.31h.8M492.85 138.05h.8M489.79 132.21h.8M501.45 138.91h.8M497.01 140.55h.8M496.71 131.37h.8M491.01 142.17h.8M498.79 133.28h.8M492.49 133.66h.8M497.41 140.72h.8M494.93 135.75h.8M496.17 139.16h.8M491.83 140.67h.8M492.14 143.76h.8M497.3 135.56h.8M497.15 139.34h.8M491.98 134.43h.8M488.15 133.35h.8M496.19 145.04h.8M492.29 139.8h.8M496.18 142.9h.8M496.57 145.14h.8M497.87 135.19h.8M496.39 127.29h.8M494.08 139.1h.8M497.12 137.49h.8M498.13 145.61h.8M491.44 136.28h.8M495.84 141.45h.8M495.38 143.15h.8M490.07 142.88h.8M499.47 144.55h.8M496.51 137.81h.8M496.4 138.63h.8M488.45 135.97h.8M494.64 136.42h.8M491.07 137.84h.8M493.31 139.35h.8M494.61 139.86h.8M498.77 139.68h.8M496.43 132.89h.8M483.01 137h.8M497.51 137.3h.8M492.31 132.8h.8M498.37 136.36h.8M495.78 144.65h.8M496.94 150.22h.8M494.27 143.78h.8M497.23 144.38h.8M495.62 144.74h.8M492.94 148.2h.8M493.56 153.72h.8M493.65 144.82h.8M495.73 144.93h.8M495.63 144.57h.8M491.95 137.35h.8M492.28 153.09h.8M496.61 147.62h.8M494.34 146.42h.8M496.25 141.44h.8M493.5 143.44h.8M498.65 142.77h.8M498.43 145.14h.8M502.31 146.69h.8M495.58 152.4h.8M497.69 150.76h.8M492.83 151.54h.8M499.7 146.59h.8M494.29 142.63h.8M498.04 148.18h.8M495.52 142.06h.8M499.55 150.5h.8M495.45 152.9h.8M493.12 150.53h.8M493 152.64h.8M494.81 151.89h.8M494.46 148.59h.8M498.35 143.39h.8M495.74 143.65h.8M497.63 144.59h.8M494.57 146.19h.8M498.41 142.83h.8M495.44 145.68h.8M494.13 143.85h.8M495.1 147.78h.8M491.63 147.94h.8M492.54 147.06h.8M501.2 143.13h.8M495.34 145.98h.8M497.95 145.1h.8M491.04 140.56h.8M495.94 148.01h.8M498.17 144.85h.8M497.17 142.74h.8M498.74 146.72h.8M493.8 147.71h.8M499.86 143.61h.8M492.4 142.94h.8M492.61 146.8h.8M496.38 146.34h.8M495.99 151.74h.8M494.78 141.99h.8M489.79 147.97h.8M493.8 146h.8M496.52 148.85h.8M491.58 143.17h.8M495.69 146.42h.8M498.37 144.99h.8" stroke="#555" stroke-width="0.8" stroke-opacity="0.5" fill="none"/>
<rect x="492.3" y="118.7" width="11.2" height="7.8" rx="2.8" ry="2.8" fill="none" stroke="#4a4a4a" stroke-width="0.8"/>
<text x="498.7" y="111.7" font-size="8.1" font-weight="bold" text-anchor="middle" fill="#141414" stroke="#141414" stroke-width="0.2">0</text>
<path d="M452.5 141.3L452.5 162.5L474 162.5" fill="none" stroke="#000" stroke-width="1.8"/><path d="M452.5 138.3l-2.9 5h5.8z" fill="#000"/><path d="M477 162.5l-5 -2.9v5.8z" fill="#000"/>
<text x="448" y="133.5" font-size="9.45" font-weight="bold" text-anchor="middle" fill="#141414" transform="rotate(-90 448 133.5)" stroke="#141414" stroke-width="0.25">CD1d-aGalCer</text>
<text x="454.2" y="175.2" font-size="9.2" font-weight="bold" text-anchor="start" fill="#141414" stroke="#141414" stroke-width="0.25">CD3</text>
</g>
<g id="C">
<text x="0.5" y="206" font-size="16.3" font-weight="bold" text-anchor="start" fill="#000">C</text>
<line x1="34.9" y1="209.2" x2="34.9" y2="394.7" stroke="#000" stroke-width="1.2"/>
<line x1="34.4" y1="394.2" x2="394.8" y2="394.2" stroke="#000" stroke-width="1.1"/>
<line x1="31.3" y1="394.2" x2="34.9" y2="394.2" stroke="#000" stroke-width="0.9"/>
<text x="30.7" y="396.2" font-size="5.6" font-weight="bold" text-anchor="end" fill="#000">0</text>
<line x1="31.3" y1="375.75" x2="34.9" y2="375.75" stroke="#000" stroke-width="0.9"/>
<text x="30.7" y="377.75" font-size="5.6" font-weight="bold" text-anchor="end" fill="#000">10</text>
<line x1="31.3" y1="357.3" x2="34.9" y2="357.3" stroke="#000" stroke-width="0.9"/>
<text x="30.7" y="359.3" font-size="5.6" font-weight="bold" text-anchor="end" fill="#000">20</text>
<line x1="31.3" y1="338.85" x2="34.9" y2="338.85" stroke="#000" stroke-width="0.9"/>
<text x="30.7" y="340.85" font-size="5.6" font-weight="bold" text-anchor="end" fill="#000">30</text>
<line x1="31.3" y1="320.4" x2="34.9" y2="320.4" stroke="#000" stroke-width="0.9"/>
<text x="30.7" y="322.4" font-size="5.6" font-weight="bold" text-anchor="end" fill="#000">40</text>
<line x1="31.3" y1="301.95" x2="34.9" y2="301.95" stroke="#000" stroke-width="0.9"/>
<text x="30.7" y="303.95" font-size="5.6" font-weight="bold" text-anchor="end" fill="#000">50</text>
<line x1="31.3" y1="283.5" x2="34.9" y2="283.5" stroke="#000" stroke-width="0.9"/>
<text x="30.7" y="285.5" font-size="5.6" font-weight="bold" text-anchor="end" fill="#000">60</text>
<line x1="31.3" y1="265.05" x2="34.9" y2="265.05" stroke="#000" stroke-width="0.9"/>
<text x="30.7" y="267.05" font-size="5.6" font-weight="bold" text-anchor="end" fill="#000">70</text>
<line x1="31.3" y1="246.6" x2="34.9" y2="246.6" stroke="#000" stroke-width="0.9"/>
<text x="30.7" y="248.6" font-size="5.6" font-weight="bold" text-anchor="end" fill="#000">80</text>
<line x1="31.3" y1="228.15" x2="34.9" y2="228.15" stroke="#000" stroke-width="0.9"/>
<text x="30.7" y="230.15" font-size="5.6" font-weight="bold" text-anchor="end" fill="#000">90</text>
<line x1="31.3" y1="209.7" x2="34.9" y2="209.7" stroke="#000" stroke-width="0.9"/>
<text x="30.7" y="211.7" font-size="5.6" font-weight="bold" text-anchor="end" fill="#000">100</text>
<line x1="35.5" y1="393.65" x2="40.5" y2="393.65" stroke="#000" stroke-width="1"/>
<line x1="38" y1="394.2" x2="38" y2="396.4" stroke="#000" stroke-width="0.9"/>
<text x="40.15" y="397.5" font-size="6.3" font-weight="bold" text-anchor="end" fill="#000" transform="rotate(-90 40.15 397.5)">080043</text>
<line x1="43.31" y1="393.83" x2="48.31" y2="393.83" stroke="#000" stroke-width="1"/>
<line x1="45.81" y1="394.2" x2="45.81" y2="396.4" stroke="#000" stroke-width="0.9"/>
<text x="47.96" y="397.5" font-size="6.3" font-weight="bold" text-anchor="end" fill="#000" transform="rotate(-90 47.96 397.5)">0589</text>
<rect x="51.13" y="391.62" width="5" height="2.58" fill="#fff" stroke="#000" stroke-width="1.2"/>
<line x1="53.63" y1="394.2" x2="53.63" y2="396.4" stroke="#000" stroke-width="0.9"/>
<text x="55.78" y="397.5" font-size="6.3" font-weight="bold" text-anchor="end" fill="#000" transform="rotate(-90 55.78 397.5)">090268</text>
<rect x="58.94" y="386.64" width="5" height="7.56" fill="#fff" stroke="#000" stroke-width="1.2"/>
<line x1="61.44" y1="394.2" x2="61.44" y2="396.4" stroke="#000" stroke-width="0.9"/>
<text x="63.59" y="397.5" font-size="6.3" font-weight="bold" text-anchor="end" fill="#000" transform="rotate(-90 63.59 397.5)">090365</text>
<rect x="66.75" y="386.27" width="5" height="7.93" fill="#fff" stroke="#000" stroke-width="1.2"/>
<line x1="69.25" y1="394.2" x2="69.25" y2="396.4" stroke="#000" stroke-width="0.9"/>
<text x="71.4" y="397.5" font-size="6.3" font-weight="bold" text-anchor="end" fill="#000" transform="rotate(-90 71.4 397.5)">090271</text>
<rect x="74.57" y="385.16" width="5" height="9.04" fill="#fff" stroke="#000" stroke-width="1.2"/>
<line x1="77.07" y1="394.2" x2="77.07" y2="396.4" stroke="#000" stroke-width="0.9"/>
<text x="79.22" y="397.5" font-size="6.3" font-weight="bold" text-anchor="end" fill="#000" transform="rotate(-90 79.22 397.5)">100857</text>
<rect x="82.38" y="383.68" width="5" height="10.52" fill="#fff" stroke="#000" stroke-width="1.2"/>
<line x1="84.88" y1="394.2" x2="84.88" y2="396.4" stroke="#000" stroke-width="0.9"/>
<text x="87.03" y="397.5" font-size="6.3" font-weight="bold" text-anchor="end" fill="#000" transform="rotate(-90 87.03 397.5)">090620</text>
<rect x="90.19" y="381.28" width="5" height="12.91" fill="#fff" stroke="#000" stroke-width="1.2"/>
<line x1="92.69" y1="394.2" x2="92.69" y2="396.4" stroke="#000" stroke-width="0.9"/>
<text x="94.84" y="397.5" font-size="6.3" font-weight="bold" text-anchor="end" fill="#000" transform="rotate(-90 94.84 397.5)">110523</text>
<rect x="98.01" y="381.28" width="5" height="12.91" fill="#fff" stroke="#000" stroke-width="1.2"/>
<line x1="100.51" y1="394.2" x2="100.51" y2="396.4" stroke="#000" stroke-width="0.9"/>
<text x="102.66" y="397.5" font-size="6.3" font-weight="bold" text-anchor="end" fill="#000" transform="rotate(-90 102.66 397.5)">090239</text>
<rect x="105.82" y="381.28" width="5" height="12.91" fill="#fff" stroke="#000" stroke-width="1.2"/>
<line x1="108.32" y1="394.2" x2="108.32" y2="396.4" stroke="#000" stroke-width="0.9"/>
<text x="110.47" y="397.5" font-size="6.3" font-weight="bold" text-anchor="end" fill="#000" transform="rotate(-90 110.47 397.5)">110010</text>
<rect x="113.63" y="373.17" width="5" height="21.03" fill="#fff" stroke="#000" stroke-width="1.2"/>
<line x1="116.13" y1="394.2" x2="116.13" y2="396.4" stroke="#000" stroke-width="0.9"/>
<text x="118.28" y="397.5" font-size="6.3" font-weight="bold" text-anchor="end" fill="#000" transform="rotate(-90 118.28 397.5)">130794</text>
<rect x="121.45" y="373.17" width="5" height="21.03" fill="#fff" stroke="#000" stroke-width="1.2"/>
<line x1="123.95" y1="394.2" x2="123.95" y2="396.4" stroke="#000" stroke-width="0.9"/>
<text x="126.1" y="397.5" font-size="6.3" font-weight="bold" text-anchor="end" fill="#000" transform="rotate(-90 126.1 397.5)">100753</text>
<rect x="129.26" y="371.14" width="5" height="23.06" fill="#fff" stroke="#000" stroke-width="1.2"/>
<line x1="131.76" y1="394.2" x2="131.76" y2="396.4" stroke="#000" stroke-width="0.9"/>
<text x="133.91" y="397.5" font-size="6.3" font-weight="bold" text-anchor="end" fill="#000" transform="rotate(-90 133.91 397.5)">130624</text>
<rect x="137.07" y="368.19" width="5" height="26.01" fill="#fff" stroke="#000" stroke-width="1.2"/>
<line x1="139.57" y1="394.2" x2="139.57" y2="396.4" stroke="#000" stroke-width="0.9"/>
<text x="141.72" y="397.5" font-size="6.3" font-weight="bold" text-anchor="end" fill="#000" transform="rotate(-90 141.72 397.5)">090409</text>
<rect x="144.89" y="367.63" width="5" height="26.57" fill="#fff" stroke="#000" stroke-width="1.2"/>
<line x1="147.39" y1="394.2" x2="147.39" y2="396.4" stroke="#000" stroke-width="0.9"/>
<text x="149.54" y="397.5" font-size="6.3" font-weight="bold" text-anchor="end" fill="#000" transform="rotate(-90 149.54 397.5)">8768</text>
<rect x="152.7" y="364.13" width="5" height="30.07" fill="#fff" stroke="#000" stroke-width="1.2"/>
<line x1="155.2" y1="394.2" x2="155.2" y2="396.4" stroke="#000" stroke-width="0.9"/>
<text x="157.35" y="397.5" font-size="6.3" font-weight="bold" text-anchor="end" fill="#000" transform="rotate(-90 157.35 397.5)">090765</text>
<rect x="160.51" y="362.65" width="5" height="31.55" fill="#fff" stroke="#000" stroke-width="1.2"/>
<line x1="163.01" y1="394.2" x2="163.01" y2="396.4" stroke="#000" stroke-width="0.9"/>
<text x="165.16" y="397.5" font-size="6.3" font-weight="bold" text-anchor="end" fill="#000" transform="rotate(-90 165.16 397.5)">090110</text>
<rect x="168.33" y="361.54" width="5" height="32.66" fill="#fff" stroke="#000" stroke-width="1.2"/>
<line x1="170.83" y1="394.2" x2="170.83" y2="396.4" stroke="#000" stroke-width="0.9"/>
<text x="172.98" y="397.5" font-size="6.3" font-weight="bold" text-anchor="end" fill="#000" transform="rotate(-90 172.98 397.5)">5786</text>
<rect x="176.14" y="358.59" width="5" height="35.61" fill="#fff" stroke="#000" stroke-width="1.2"/>
<line x1="178.64" y1="394.2" x2="178.64" y2="396.4" stroke="#000" stroke-width="0.9"/>
<text x="180.79" y="397.5" font-size="6.3" font-weight="bold" text-anchor="end" fill="#000" transform="rotate(-90 180.79 397.5)">090295</text>
<rect x="183.95" y="355.64" width="5" height="38.56" fill="#fff" stroke="#000" stroke-width="1.2"/>
<line x1="186.45" y1="394.2" x2="186.45" y2="396.4" stroke="#000" stroke-width="0.9"/>
<text x="188.6" y="397.5" font-size="6.3" font-weight="bold" text-anchor="end" fill="#000" transform="rotate(-90 188.6 397.5)">140372</text>
<rect x="191.77" y="355.09" width="5" height="39.11" fill="#fff" stroke="#000" stroke-width="1.2"/>
<line x1="194.27" y1="394.2" x2="194.27" y2="396.4" stroke="#000" stroke-width="0.9"/>
<text x="196.42" y="397.5" font-size="6.3" font-weight="bold" text-anchor="end" fill="#000" transform="rotate(-90 196.42 397.5)">090291</text>
<rect x="199.58" y="354.53" width="5" height="39.67" fill="#fff" stroke="#000" stroke-width="1.2"/>
<line x1="202.08" y1="394.2" x2="202.08" y2="396.4" stroke="#000" stroke-width="0.9"/>
<text x="204.23" y="397.5" font-size="6.3" font-weight="bold" text-anchor="end" fill="#000" transform="rotate(-90 204.23 397.5)">080404</text>
<rect x="207.39" y="350.1" width="5" height="44.1" fill="#fff" stroke="#000" stroke-width="1.2"/>
<line x1="209.89" y1="394.2" x2="209.89" y2="396.4" stroke="#000" stroke-width="0.9"/>
<text x="212.04" y="397.5" font-size="6.3" font-weight="bold" text-anchor="end" fill="#000" transform="rotate(-90 212.04 397.5)">100356</text>
<rect x="215.21" y="348.63" width="5" height="45.57" fill="#fff" stroke="#000" stroke-width="1.2"/>
<line x1="217.71" y1="394.2" x2="217.71" y2="396.4" stroke="#000" stroke-width="0.9"/>
<text x="219.86" y="397.5" font-size="6.3" font-weight="bold" text-anchor="end" fill="#000" transform="rotate(-90 219.86 397.5)">130714</text>
<rect x="223.02" y="346.6" width="5" height="47.6" fill="#fff" stroke="#000" stroke-width="1.2"/>
<line x1="225.52" y1="394.2" x2="225.52" y2="396.4" stroke="#000" stroke-width="0.9"/>
<text x="227.67" y="397.5" font-size="6.3" font-weight="bold" text-anchor="end" fill="#000" transform="rotate(-90 227.67 397.5)">080009</text>
<rect x="230.83" y="344.02" width="5" height="50.18" fill="#fff" stroke="#000" stroke-width="1.2"/>
<line x1="233.33" y1="394.2" x2="233.33" y2="396.4" stroke="#000" stroke-width="0.9"/>
<text x="235.48" y="397.5" font-size="6.3" font-weight="bold" text-anchor="end" fill="#000" transform="rotate(-90 235.48 397.5)">110162</text>
<rect x="238.65" y="340.14" width="5" height="54.06" fill="#fff" stroke="#000" stroke-width="1.2"/>
<line x1="241.15" y1="394.2" x2="241.15" y2="396.4" stroke="#000" stroke-width="0.9"/>
<text x="243.3" y="397.5" font-size="6.3" font-weight="bold" text-anchor="end" fill="#000" transform="rotate(-90 243.3 397.5)">090543</text>
<rect x="246.46" y="339.03" width="5" height="55.17" fill="#fff" stroke="#000" stroke-width="1.2"/>
<line x1="248.96" y1="394.2" x2="248.96" y2="396.4" stroke="#000" stroke-width="0.9"/>
<text x="251.11" y="397.5" font-size="6.3" font-weight="bold" text-anchor="end" fill="#000" transform="rotate(-90 251.11 397.5)">080078</text>
<rect x="254.27" y="338.67" width="5" height="55.53" fill="#fff" stroke="#000" stroke-width="1.2"/>
<line x1="256.77" y1="394.2" x2="256.77" y2="396.4" stroke="#000" stroke-width="0.9"/>
<text x="258.92" y="397.5" font-size="6.3" font-weight="bold" text-anchor="end" fill="#000" transform="rotate(-90 258.92 397.5)">090596</text>
<rect x="262.09" y="336.08" width="5" height="58.12" fill="#fff" stroke="#000" stroke-width="1.2"/>
<line x1="264.59" y1="394.2" x2="264.59" y2="396.4" stroke="#000" stroke-width="0.9"/>
<text x="266.74" y="397.5" font-size="6.3" font-weight="bold" text-anchor="end" fill="#000" transform="rotate(-90 266.74 397.5)">090428</text>
<rect x="269.9" y="333.5" width="5" height="60.7" fill="#fff" stroke="#000" stroke-width="1.2"/>
<line x1="272.4" y1="394.2" x2="272.4" y2="396.4" stroke="#000" stroke-width="0.9"/>
<text x="274.55" y="397.5" font-size="6.3" font-weight="bold" text-anchor="end" fill="#000" transform="rotate(-90 274.55 397.5)">090191</text>
<rect x="277.71" y="328.52" width="5" height="65.68" fill="#fff" stroke="#000" stroke-width="1.2"/>
<line x1="280.21" y1="394.2" x2="280.21" y2="396.4" stroke="#000" stroke-width="0.9"/>
<text x="282.36" y="397.5" font-size="6.3" font-weight="bold" text-anchor="end" fill="#000" transform="rotate(-90 282.36 397.5)">140116</text>
<rect x="285.53" y="325.57" width="5" height="68.63" fill="#fff" stroke="#000" stroke-width="1.2"/>
<line x1="288.03" y1="394.2" x2="288.03" y2="396.4" stroke="#000" stroke-width="0.9"/>
<text x="290.18" y="397.5" font-size="6.3" font-weight="bold" text-anchor="end" fill="#000" transform="rotate(-90 290.18 397.5)">150099</text>
<rect x="293.34" y="312.47" width="5" height="81.73" fill="#fff" stroke="#000" stroke-width="1.2"/>
<line x1="295.84" y1="394.2" x2="295.84" y2="396.4" stroke="#000" stroke-width="0.9"/>
<text x="297.99" y="397.5" font-size="6.3" font-weight="bold" text-anchor="end" fill="#000" transform="rotate(-90 297.99 397.5)">090240</text>
<rect x="301.15" y="311.54" width="5" height="82.66" fill="#fff" stroke="#000" stroke-width="1.2"/>
<line x1="303.65" y1="394.2" x2="303.65" y2="396.4" stroke="#000" stroke-width="0.9"/>
<text x="305.8" y="397.5" font-size="6.3" font-weight="bold" text-anchor="end" fill="#000" transform="rotate(-90 305.8 397.5)">140566</text>
<rect x="308.97" y="308.41" width="5" height="85.79" fill="#fff" stroke="#000" stroke-width="1.2"/>
<line x1="311.47" y1="394.2" x2="311.47" y2="396.4" stroke="#000" stroke-width="0.9"/>
<text x="313.62" y="397.5" font-size="6.3" font-weight="bold" text-anchor="end" fill="#000" transform="rotate(-90 313.62 397.5)">140012</text>
<rect x="316.78" y="303.98" width="5" height="90.22" fill="#fff" stroke="#000" stroke-width="1.2"/>
<line x1="319.28" y1="394.2" x2="319.28" y2="396.4" stroke="#000" stroke-width="0.9"/>
<text x="321.43" y="397.5" font-size="6.3" font-weight="bold" text-anchor="end" fill="#000" transform="rotate(-90 321.43 397.5)">130578</text>
<rect x="324.59" y="295.86" width="5" height="98.34" fill="#fff" stroke="#000" stroke-width="1.2"/>
<line x1="327.09" y1="394.2" x2="327.09" y2="396.4" stroke="#000" stroke-width="0.9"/>
<text x="329.24" y="397.5" font-size="6.3" font-weight="bold" text-anchor="end" fill="#000" transform="rotate(-90 329.24 397.5)">130723</text>
<rect x="332.41" y="288.48" width="5" height="105.72" fill="#fff" stroke="#000" stroke-width="1.2"/>
<line x1="334.91" y1="394.2" x2="334.91" y2="396.4" stroke="#000" stroke-width="0.9"/>
<text x="337.06" y="397.5" font-size="6.3" font-weight="bold" text-anchor="end" fill="#000" transform="rotate(-90 337.06 397.5)">150279</text>
<rect x="340.22" y="283.5" width="5" height="110.7" fill="#fff" stroke="#000" stroke-width="1.2"/>
<line x1="342.72" y1="394.2" x2="342.72" y2="396.4" stroke="#000" stroke-width="0.9"/>
<text x="344.87" y="397.5" font-size="6.3" font-weight="bold" text-anchor="end" fill="#000" transform="rotate(-90 344.87 397.5)">140176</text>
<rect x="348.03" y="282.95" width="5" height="111.25" fill="#fff" stroke="#000" stroke-width="1.2"/>
<line x1="350.53" y1="394.2" x2="350.53" y2="396.4" stroke="#000" stroke-width="0.9"/>
<text x="352.68" y="397.5" font-size="6.3" font-weight="bold" text-anchor="end" fill="#000" transform="rotate(-90 352.68 397.5)">110164</text>
<rect x="355.85" y="281.47" width="5" height="112.73" fill="#fff" stroke="#000" stroke-width="1.2"/>
<line x1="358.35" y1="394.2" x2="358.35" y2="396.4" stroke="#000" stroke-width="0.9"/>
<text x="360.5" y="397.5" font-size="6.3" font-weight="bold" text-anchor="end" fill="#000" transform="rotate(-90 360.5 397.5)">090517</text>
<rect x="363.66" y="270.95" width="5" height="123.25" fill="#fff" stroke="#000" stroke-width="1.2"/>
<line x1="366.16" y1="394.2" x2="366.16" y2="396.4" stroke="#000" stroke-width="0.9"/>
<text x="368.31" y="397.5" font-size="6.3" font-weight="bold" text-anchor="end" fill="#000" transform="rotate(-90 368.31 397.5)">080703</text>
<rect x="371.47" y="248.81" width="5" height="145.39" fill="#fff" stroke="#000" stroke-width="1.2"/>
<line x1="373.97" y1="394.2" x2="373.97" y2="396.4" stroke="#000" stroke-width="0.9"/>
<text x="376.12" y="397.5" font-size="6.3" font-weight="bold" text-anchor="end" fill="#000" transform="rotate(-90 376.12 397.5)">150549</text>
<rect x="379.29" y="243.83" width="5" height="150.37" fill="#fff" stroke="#000" stroke-width="1.2"/>
<line x1="381.79" y1="394.2" x2="381.79" y2="396.4" stroke="#000" stroke-width="0.9"/>
<text x="383.94" y="397.5" font-size="6.3" font-weight="bold" text-anchor="end" fill="#000" transform="rotate(-90 383.94 397.5)">130607</text>
<rect x="387.1" y="234.79" width="5" height="159.41" fill="#fff" stroke="#000" stroke-width="1.2"/>
<line x1="389.6" y1="394.2" x2="389.6" y2="396.4" stroke="#000" stroke-width="0.9"/>
<text x="391.75" y="397.5" font-size="6.3" font-weight="bold" text-anchor="end" fill="#000" transform="rotate(-90 391.75 397.5)">130783</text>
<line x1="34.9" y1="375.75" x2="394.8" y2="375.75" stroke="#000" stroke-width="1.2" stroke-dasharray="5.4 2.3"/>
<text x="215" y="428" font-size="9.7" font-weight="bold" text-anchor="middle" fill="#000">Patient sample ID</text>
<text x="15.6" y="302.5" font-size="9.6" font-weight="bold" text-anchor="middle" fill="#000" transform="rotate(-90 15.6 302.5)">% Specific killing</text>
</g>
<g id="D">
<defs><pattern id="hd2" width="1.6" height="1.6" patternUnits="userSpaceOnUse"><rect width="1.6" height="1.6" fill="#d8d8d8"/><rect width="1.6" height="0.7" fill="#a8a8a8"/></pattern></defs>
<text x="0.5" y="455" font-size="16.3" font-weight="bold" text-anchor="start" fill="#000">D</text>
<line x1="27.5" y1="471.9" x2="27.5" y2="564.2" stroke="#000" stroke-width="1.2"/>
<line x1="27" y1="563.7" x2="228" y2="563.7" stroke="#000" stroke-width="1.2"/>
<line x1="27.5" y1="555.4" x2="228" y2="555.4" stroke="#000" stroke-width="1"/>
<line x1="24.5" y1="563.7" x2="27.5" y2="563.7" stroke="#000" stroke-width="1"/>
<text x="24.1" y="566" font-size="6.4" font-weight="bold" text-anchor="end" fill="#000">-10</text>
<line x1="24.5" y1="555.4" x2="27.5" y2="555.4" stroke="#000" stroke-width="1"/>
<text x="24.1" y="557.7" font-size="6.4" font-weight="bold" text-anchor="end" fill="#000">0</text>
<line x1="24.5" y1="547.1" x2="27.5" y2="547.1" stroke="#000" stroke-width="1"/>
<text x="24.1" y="549.4" font-size="6.4" font-weight="bold" text-anchor="end" fill="#000">10</text>
<line x1="24.5" y1="538.8" x2="27.5" y2="538.8" stroke="#000" stroke-width="1"/>
<text x="24.1" y="541.1" font-size="6.4" font-weight="bold" text-anchor="end" fill="#000">20</text>
<line x1="24.5" y1="530.5" x2="27.5" y2="530.5" stroke="#000" stroke-width="1"/>
<text x="24.1" y="532.8" font-size="6.4" font-weight="bold" text-anchor="end" fill="#000">30</text>
<line x1="24.5" y1="522.2" x2="27.5" y2="522.2" stroke="#000" stroke-width="1"/>
<text x="24.1" y="524.5" font-size="6.4" font-weight="bold" text-anchor="end" fill="#000">40</text>
<line x1="24.5" y1="513.9" x2="27.5" y2="513.9" stroke="#000" stroke-width="1"/>
<text x="24.1" y="516.2" font-size="6.4" font-weight="bold" text-anchor="end" fill="#000">50</text>
<line x1="24.5" y1="505.6" x2="27.5" y2="505.6" stroke="#000" stroke-width="1"/>
<text x="24.1" y="507.9" font-size="6.4" font-weight="bold" text-anchor="end" fill="#000">60</text>
<line x1="24.5" y1="497.3" x2="27.5" y2="497.3" stroke="#000" stroke-width="1"/>
<text x="24.1" y="499.6" font-size="6.4" font-weight="bold" text-anchor="end" fill="#000">70</text>
<line x1="24.5" y1="489" x2="27.5" y2="489" stroke="#000" stroke-width="1"/>
<text x="24.1" y="491.3" font-size="6.4" font-weight="bold" text-anchor="end" fill="#000">80</text>
<line x1="24.5" y1="480.7" x2="27.5" y2="480.7" stroke="#000" stroke-width="1"/>
<text x="24.1" y="483" font-size="6.4" font-weight="bold" text-anchor="end" fill="#000">90</text>
<line x1="24.5" y1="472.4" x2="27.5" y2="472.4" stroke="#000" stroke-width="1"/>
<text x="24.1" y="474.7" font-size="6.4" font-weight="bold" text-anchor="end" fill="#000">100</text>
<line x1="33.9" y1="514.4" x2="33.9" y2="506.93" stroke="#000" stroke-width="0.9"/>
<line x1="32.1" y1="506.93" x2="35.7" y2="506.93" stroke="#000" stroke-width="0.9"/>
<rect x="31.4" y="514.4" width="5" height="41" fill="#fff" stroke="#000" stroke-width="0.9"/>
<line x1="40.8" y1="514.9" x2="40.8" y2="511.58" stroke="#000" stroke-width="0.9"/>
<line x1="39" y1="511.58" x2="42.6" y2="511.58" stroke="#000" stroke-width="0.9"/>
<rect x="38.3" y="514.9" width="5" height="40.5" fill="#000" stroke="#000" stroke-width="0.9"/>
<line x1="47.7" y1="509.42" x2="47.7" y2="508.59" stroke="#000" stroke-width="0.9"/>
<line x1="45.9" y1="508.59" x2="49.5" y2="508.59" stroke="#000" stroke-width="0.9"/>
<rect x="45.2" y="509.42" width="5" height="45.98" fill="url(#hd2)" stroke="#000" stroke-width="0.9"/>
<line x1="40.8" y1="563.7" x2="40.8" y2="566.9" stroke="#000" stroke-width="1"/>
<text x="43.4" y="572.7" font-size="8.7" font-weight="bold" text-anchor="end" fill="#000" transform="rotate(-45 43.4 572.7)">K562</text>
<line x1="32.7" y1="504.4" x2="43" y2="504.4" stroke="#000" stroke-width="1.25"/>
<line x1="32.7" y1="494.9" x2="49.3" y2="494.9" stroke="#000" stroke-width="1.25"/>
<text x="37.85" y="502.2" font-size="7.6" font-weight="normal" text-anchor="middle" fill="#000">ns</text>
<text x="41.8" y="492.7" font-size="7.6" font-weight="normal" text-anchor="middle" fill="#000">ns</text>
<rect x="56.5" y="547.43" width="5" height="7.97" fill="#fff" stroke="#000" stroke-width="0.9"/>
<line x1="65.9" y1="529.17" x2="65.9" y2="528.34" stroke="#000" stroke-width="0.9"/>
<line x1="64.1" y1="528.34" x2="67.7" y2="528.34" stroke="#000" stroke-width="0.9"/>
<rect x="63.4" y="529.17" width="5" height="26.23" fill="#000" stroke="#000" stroke-width="0.9"/>
<line x1="72.8" y1="529.67" x2="72.8" y2="528.84" stroke="#000" stroke-width="0.9"/>
<line x1="71" y1="528.84" x2="74.6" y2="528.84" stroke="#000" stroke-width="0.9"/>
<rect x="70.3" y="529.67" width="5" height="25.73" fill="url(#hd2)" stroke="#000" stroke-width="0.9"/>
<line x1="65.9" y1="563.7" x2="65.9" y2="566.9" stroke="#000" stroke-width="1"/>
<text x="68.5" y="572.7" font-size="8.7" font-weight="bold" text-anchor="end" fill="#000" transform="rotate(-45 68.5 572.7)">AML3</text>
<line x1="57.5" y1="526.2" x2="67.8" y2="526.2" stroke="#000" stroke-width="1.25"/>
<line x1="57.5" y1="519.2" x2="74.1" y2="519.2" stroke="#000" stroke-width="1.25"/>
<text x="62.65" y="526" font-size="7.5" font-weight="bold" text-anchor="middle" fill="#000">****</text>
<text x="65.9" y="518.9" font-size="7.5" font-weight="bold" text-anchor="middle" fill="#000">****</text>
<line x1="84.1" y1="541.12" x2="84.1" y2="540.29" stroke="#000" stroke-width="0.9"/>
<line x1="82.3" y1="540.29" x2="85.9" y2="540.29" stroke="#000" stroke-width="0.9"/>
<rect x="81.6" y="541.12" width="5" height="14.28" fill="#fff" stroke="#000" stroke-width="0.9"/>
<line x1="91" y1="518.63" x2="91" y2="517.8" stroke="#000" stroke-width="0.9"/>
<line x1="89.2" y1="517.8" x2="92.8" y2="517.8" stroke="#000" stroke-width="0.9"/>
<rect x="88.5" y="518.63" width="5" height="36.77" fill="#000" stroke="#000" stroke-width="0.9"/>
<line x1="97.9" y1="514.9" x2="97.9" y2="514.07" stroke="#000" stroke-width="0.9"/>
<line x1="96.1" y1="514.07" x2="99.7" y2="514.07" stroke="#000" stroke-width="0.9"/>
<rect x="95.4" y="514.9" width="5" height="40.5" fill="url(#hd2)" stroke="#000" stroke-width="0.9"/>
<line x1="91" y1="563.7" x2="91" y2="566.9" stroke="#000" stroke-width="1"/>
<text x="93.6" y="572.7" font-size="8.7" font-weight="bold" text-anchor="end" fill="#000" transform="rotate(-45 93.6 572.7)">140012</text>
<line x1="82.4" y1="514.3" x2="92.7" y2="514.3" stroke="#000" stroke-width="1.25"/>
<line x1="82.4" y1="505.3" x2="99" y2="505.3" stroke="#000" stroke-width="1.25"/>
<text x="87.55" y="514.1" font-size="7.5" font-weight="bold" text-anchor="middle" fill="#000">****</text>
<text x="90.8" y="505" font-size="7.5" font-weight="bold" text-anchor="middle" fill="#000">****</text>
<line x1="109.2" y1="559.88" x2="109.2" y2="561.96" stroke="#000" stroke-width="0.9"/>
<line x1="107.4" y1="561.96" x2="111" y2="561.96" stroke="#000" stroke-width="0.9"/>
<rect x="106.7" y="555.4" width="5" height="4.48" fill="#fff" stroke="#000" stroke-width="0.9"/>
<line x1="116.1" y1="481.12" x2="116.1" y2="480.12" stroke="#000" stroke-width="0.9"/>
<line x1="114.3" y1="480.12" x2="117.9" y2="480.12" stroke="#000" stroke-width="0.9"/>
<rect x="113.6" y="481.12" width="5" height="74.28" fill="#000" stroke="#000" stroke-width="0.9"/>
<line x1="123" y1="486.18" x2="123" y2="485.35" stroke="#000" stroke-width="0.9"/>
<line x1="121.2" y1="485.35" x2="124.8" y2="485.35" stroke="#000" stroke-width="0.9"/>
<rect x="120.5" y="486.18" width="5" height="69.22" fill="url(#hd2)" stroke="#000" stroke-width="0.9"/>
<line x1="116.1" y1="563.7" x2="116.1" y2="566.9" stroke="#000" stroke-width="1"/>
<text x="118.7" y="572.7" font-size="8.7" font-weight="bold" text-anchor="end" fill="#000" transform="rotate(-45 118.7 572.7)">130783</text>
<line x1="107.2" y1="477.6" x2="117.5" y2="477.6" stroke="#000" stroke-width="1.25"/>
<line x1="107.2" y1="468.6" x2="123.8" y2="468.6" stroke="#000" stroke-width="1.25"/>
<text x="112.35" y="477.4" font-size="7.5" font-weight="bold" text-anchor="middle" fill="#000">****</text>
<text x="115.6" y="468.3" font-size="7.5" font-weight="bold" text-anchor="middle" fill="#000">****</text>
<line x1="134.3" y1="517.88" x2="134.3" y2="517.05" stroke="#000" stroke-width="0.9"/>
<line x1="132.5" y1="517.05" x2="136.1" y2="517.05" stroke="#000" stroke-width="0.9"/>
<rect x="131.8" y="517.88" width="5" height="37.52" fill="#fff" stroke="#000" stroke-width="0.9"/>
<line x1="141.2" y1="486.68" x2="141.2" y2="485.43" stroke="#000" stroke-width="0.9"/>
<line x1="139.4" y1="485.43" x2="143" y2="485.43" stroke="#000" stroke-width="0.9"/>
<rect x="138.7" y="486.68" width="5" height="68.72" fill="#000" stroke="#000" stroke-width="0.9"/>
<line x1="148.1" y1="488.67" x2="148.1" y2="484.93" stroke="#000" stroke-width="0.9"/>
<line x1="146.3" y1="484.93" x2="149.9" y2="484.93" stroke="#000" stroke-width="0.9"/>
<rect x="145.6" y="488.67" width="5" height="66.73" fill="url(#hd2)" stroke="#000" stroke-width="0.9"/>
<line x1="141.2" y1="563.7" x2="141.2" y2="566.9" stroke="#000" stroke-width="1"/>
<text x="143.8" y="572.7" font-size="8.7" font-weight="bold" text-anchor="end" fill="#000" transform="rotate(-45 143.8 572.7)">130607</text>
<line x1="132.1" y1="482.7" x2="142.4" y2="482.7" stroke="#000" stroke-width="1.25"/>
<line x1="132.1" y1="473.3" x2="148.7" y2="473.3" stroke="#000" stroke-width="1.25"/>
<text x="137.25" y="482.5" font-size="7.5" font-weight="bold" text-anchor="middle" fill="#000">****</text>
<text x="140.5" y="473" font-size="7.5" font-weight="bold" text-anchor="middle" fill="#000">**</text>
<line x1="159.4" y1="560.38" x2="159.4" y2="562.45" stroke="#000" stroke-width="0.9"/>
<line x1="157.6" y1="562.45" x2="161.2" y2="562.45" stroke="#000" stroke-width="0.9"/>
<rect x="156.9" y="555.4" width="5" height="4.98" fill="#fff" stroke="#000" stroke-width="0.9"/>
<line x1="166.3" y1="542.37" x2="166.3" y2="540.29" stroke="#000" stroke-width="0.9"/>
<line x1="164.5" y1="540.29" x2="168.1" y2="540.29" stroke="#000" stroke-width="0.9"/>
<rect x="163.8" y="542.37" width="5" height="13.03" fill="#000" stroke="#000" stroke-width="0.9"/>
<line x1="173.2" y1="548.68" x2="173.2" y2="547.68" stroke="#000" stroke-width="0.9"/>
<line x1="171.4" y1="547.68" x2="175" y2="547.68" stroke="#000" stroke-width="0.9"/>
<rect x="170.7" y="548.68" width="5" height="6.72" fill="url(#hd2)" stroke="#000" stroke-width="0.9"/>
<line x1="166.3" y1="563.7" x2="166.3" y2="566.9" stroke="#000" stroke-width="1"/>
<text x="168.9" y="572.7" font-size="8.7" font-weight="bold" text-anchor="end" fill="#000" transform="rotate(-45 168.9 572.7)">130794</text>
<line x1="158.2" y1="537.7" x2="168.5" y2="537.7" stroke="#000" stroke-width="1.25"/>
<line x1="158.2" y1="528.4" x2="174.8" y2="528.4" stroke="#000" stroke-width="1.25"/>
<text x="163.35" y="537.5" font-size="7.5" font-weight="bold" text-anchor="middle" fill="#000">**</text>
<text x="166.6" y="528.1" font-size="7.5" font-weight="bold" text-anchor="middle" fill="#000">**</text>
<line x1="184.5" y1="517.39" x2="184.5" y2="514.07" stroke="#000" stroke-width="0.9"/>
<line x1="182.7" y1="514.07" x2="186.3" y2="514.07" stroke="#000" stroke-width="0.9"/>
<rect x="182" y="517.39" width="5" height="38.01" fill="#fff" stroke="#000" stroke-width="0.9"/>
<line x1="191.4" y1="486.18" x2="191.4" y2="484.52" stroke="#000" stroke-width="0.9"/>
<line x1="189.6" y1="484.52" x2="193.2" y2="484.52" stroke="#000" stroke-width="0.9"/>
<rect x="188.9" y="486.18" width="5" height="69.22" fill="#000" stroke="#000" stroke-width="0.9"/>
<line x1="198.3" y1="494.39" x2="198.3" y2="491.9" stroke="#000" stroke-width="0.9"/>
<line x1="196.5" y1="491.9" x2="200.1" y2="491.9" stroke="#000" stroke-width="0.9"/>
<rect x="195.8" y="494.39" width="5" height="61" fill="url(#hd2)" stroke="#000" stroke-width="0.9"/>
<line x1="191.4" y1="563.7" x2="191.4" y2="566.9" stroke="#000" stroke-width="1"/>
<text x="194" y="572.7" font-size="8.7" font-weight="bold" text-anchor="end" fill="#000" transform="rotate(-45 194 572.7)">150549</text>
<line x1="180.3" y1="482.6" x2="190.6" y2="482.6" stroke="#000" stroke-width="1.25"/>
<line x1="180.3" y1="473.2" x2="196.9" y2="473.2" stroke="#000" stroke-width="1.25"/>
<text x="185.45" y="482.4" font-size="7.5" font-weight="bold" text-anchor="middle" fill="#000">**</text>
<text x="188.7" y="472.9" font-size="7.5" font-weight="bold" text-anchor="middle" fill="#000">**</text>
<line x1="209.6" y1="557.39" x2="209.6" y2="557.89" stroke="#000" stroke-width="0.9"/>
<line x1="207.8" y1="557.89" x2="211.4" y2="557.89" stroke="#000" stroke-width="0.9"/>
<rect x="207.1" y="555.4" width="5" height="1.99" fill="#fff" stroke="#000" stroke-width="0.9"/>
<line x1="216.5" y1="546.19" x2="216.5" y2="545.36" stroke="#000" stroke-width="0.9"/>
<line x1="214.7" y1="545.36" x2="218.3" y2="545.36" stroke="#000" stroke-width="0.9"/>
<rect x="214" y="546.19" width="5" height="9.21" fill="#000" stroke="#000" stroke-width="0.9"/>
<line x1="223.4" y1="540.63" x2="223.4" y2="539.63" stroke="#000" stroke-width="0.9"/>
<line x1="221.6" y1="539.63" x2="225.2" y2="539.63" stroke="#000" stroke-width="0.9"/>
<rect x="220.9" y="540.63" width="5" height="14.77" fill="url(#hd2)" stroke="#000" stroke-width="0.9"/>
<line x1="216.5" y1="563.7" x2="216.5" y2="566.9" stroke="#000" stroke-width="1"/>
<text x="219.1" y="572.7" font-size="8.7" font-weight="bold" text-anchor="end" fill="#000" transform="rotate(-45 219.1 572.7)">090239</text>
<line x1="207.2" y1="541.7" x2="217.5" y2="541.7" stroke="#000" stroke-width="1.25"/>
<line x1="207.2" y1="532.6" x2="223.8" y2="532.6" stroke="#000" stroke-width="1.25"/>
<text x="212.35" y="541.5" font-size="7.5" font-weight="bold" text-anchor="middle" fill="#000">***</text>
<text x="215.6" y="532.3" font-size="7.5" font-weight="bold" text-anchor="middle" fill="#000">***</text>
<line x1="27.5" y1="547.1" x2="228" y2="547.1" stroke="#000" stroke-width="1.3" stroke-dasharray="4 2"/>
<rect x="34.2" y="451.3" width="9.4" height="5.2" fill="#fff" stroke="#000" stroke-width="1.1"/>
<text x="49.3" y="456.7" font-size="7.6" font-weight="normal" text-anchor="start" fill="#222">NK92</text>
<rect x="34.2" y="461.45" width="9.4" height="5.2" fill="#000" stroke="#000" stroke-width="1.1"/>
<text x="49.3" y="466.85" font-size="7.6" font-weight="normal" text-anchor="start" fill="#222">HD1 DNT</text>
<rect x="34.2" y="471.6" width="9.4" height="5.2" fill="url(#hd2)" stroke="#000" stroke-width="1.1"/>
<text x="49.3" y="477" font-size="7.6" font-weight="normal" text-anchor="start" fill="#222">HD2 DNT</text>
<text x="128.4" y="607.2" font-size="10.9" font-weight="bold" text-anchor="middle" fill="#000">Target cells</text>
<text x="10" y="518" font-size="10.85" font-weight="bold" text-anchor="middle" fill="#000" transform="rotate(-90 10 518)">% Specific killing</text>
</g>
<g id="E">
<text x="246.3" y="455" font-size="16.3" font-weight="bold" text-anchor="start" fill="#000">E</text>
<line x1="306.5" y1="529.5" x2="442" y2="529.5" stroke="#000" stroke-width="2.2"/>
<path d="M446 529.5l-5.5 -3v6z" fill="#000"/>
<text x="312" y="482" font-size="6.9" font-weight="bold" text-anchor="middle" fill="#262626">Sublethal</text>
<text x="312" y="491.4" font-size="6.9" font-weight="bold" text-anchor="middle" fill="#262626">irradiation</text>
<text x="312" y="501.2" font-size="6.9" font-weight="bold" text-anchor="middle" fill="#262626">day -1</text>
<path d="M312.6 508.3l2.2 .6-1.6 6 1.8-.4 1.3 11.5-3.6-8.6-1.6 .5z" fill="#c9c9c9" stroke="#b5b5b5" stroke-width="0.5"/>
<line x1="334.8" y1="550.5" x2="334.8" y2="535" stroke="#111" stroke-width="1.5"/><path d="M334.8 532l-2.7 4.6h5.4z" fill="#111"/>
<text x="335.6" y="558.2" font-size="6.9" font-weight="bold" text-anchor="middle" fill="#262626">Injection of AML</text>
<text x="335.6" y="567.4" font-size="6.9" font-weight="bold" text-anchor="middle" fill="#262626">(2–5x10<tspan font-size="4.6" dy="-2.4">6</tspan><tspan dy="2.4">/mouse)</tspan></text>
<text x="335.6" y="577" font-size="6.9" font-weight="bold" text-anchor="middle" fill="#262626" font-style="italic">day 0</text>
<text x="381.5" y="482" font-size="6.9" font-weight="bold" text-anchor="middle" fill="#262626">1–3x DNT Injection</text>
<text x="381" y="491.4" font-size="6.9" font-weight="bold" text-anchor="middle" fill="#262626">(2x10<tspan font-size="4.6" dy="-2.4">7</tspan><tspan dy="2.4">/injection/mouse)</tspan></text>
<text x="381.5" y="501.2" font-size="6.9" font-weight="bold" text-anchor="middle" fill="#262626" font-style="italic">day 3–14</text>
<line x1="381" y1="506.3" x2="381" y2="523.5" stroke="#111" stroke-width="1.5"/><path d="M381 526.5l-2.7 -4.6h5.4z" fill="#111"/>
<line x1="445.4" y1="551.5" x2="445.4" y2="535.5" stroke="#111" stroke-width="1.5"/><path d="M445.4 532.5l-2.7 4.6h5.4z" fill="#111"/>
<text x="445.4" y="561" font-size="6.9" font-weight="bold" text-anchor="middle" fill="#262626">Sacrifice</text>
<text x="445.4" y="570.4" font-size="6.9" font-weight="bold" text-anchor="middle" fill="#262626">BM/spleen harvest</text>
<text x="445.4" y="580.3" font-size="6.9" font-weight="bold" text-anchor="middle" fill="#262626" font-style="italic">day 24–50</text>
<text x="277.7" y="561" font-size="6.9" font-weight="bold" text-anchor="middle" fill="#262626">NSG mouse</text>
<path d="M276.5 507C275 502 273.5 499.3 270.5 498.8C265 498 259.5 501.5 254 505.8C250.5 508.3 247 508.6 243.8 507.6" fill="none" stroke="#2a2a2a" stroke-width="2.3" stroke-linecap="round"/>
<path d="M276.5 507C275 502 273.5 499.3 270.5 498.8C265 498 259.5 501.5 254 505.8C250.5 508.3 247 508.6 243.8 507.6" fill="none" stroke="#fff" stroke-width="0.9" stroke-linecap="round"/>
<path d="M262.2 524C260.5 511 269 503 279 503C289.5 503 297.2 511 295.4 524L290 532H268Z" fill="#fff" stroke="#2a2a2a" stroke-width="1"/>
<path d="M279.2 549.2C274 549.2 269.5 545.5 267 541C265.5 538.3 264.6 535.5 264.6 533.5L268 526.5C272 523.8 286.5 523.8 290.5 526.5L293.9 533.5C293.9 535.5 293 538.3 291.5 541C289 545.5 284.5 549.2 279.2 549.2Z" fill="#fff" stroke="#2a2a2a" stroke-width="1"/>
<path d="M264.8 535.2C260.5 533 259 528.5 260.6 524.8C262.4 520.6 267.5 518.8 271.6 521C273.3 522 274.5 523.3 275.1 525" fill="#fff" stroke="#2a2a2a" stroke-width="1"/>
<path d="M293.7 535.2C298 533 299.5 528.5 297.9 524.8C296.1 520.6 291 518.8 286.9 521C285.2 522 284 523.3 283.4 525" fill="#fff" stroke="#2a2a2a" stroke-width="1"/>
<path d="M262.8 530C262 526 264 523.2 267.3 522.6C270 522.2 272.3 523.6 273.3 525.8" fill="none" stroke="#b5b5b5" stroke-width="1.3"/>
<path d="M295.7 530C296.5 526 294.5 523.2 291.2 522.6C288.5 522.2 286.2 523.6 285.2 525.8" fill="none" stroke="#b5b5b5" stroke-width="1.3"/>
<circle cx="274.4" cy="538.4" r="1.45" fill="#1a1a1a"/>
<circle cx="284.1" cy="538.4" r="1.45" fill="#1a1a1a"/>
<path d="M273.6 544.6C275.5 546.6 277.4 545.6 279.3 547.4C281.2 545.6 283.1 546.6 285 544.6" fill="none" stroke="#333" stroke-width="0.9"/>
<path d="M277.7 545.6h3.2l-1.6 2.4z" fill="#1a1a1a"/>
<path d="M275.1 545.6l-9.5 -2M275.1 546.3l-9 1.3M275.1 547l-6.5 4.2" fill="none" stroke="#444" stroke-width="0.55"/>
<path d="M283.5 545.6l9.5 -2M283.5 546.3l9 1.3M283.5 547l6.5 4.2" fill="none" stroke="#444" stroke-width="0.55"/>
</g>
<g id="F">
<text x="3.5" y="631" font-size="16.3" font-weight="bold" text-anchor="start" fill="#000">F</text>
<text x="27.5" y="685" font-size="10.1" font-weight="bold" text-anchor="start" fill="#141414" stroke="#141414" stroke-width="0.25">PBS Treated</text>
<rect x="26.2" y="691.3" width="97.6" height="98.2" fill="none" stroke="#dedede" stroke-width="0.6"/><line x1="26.2" y1="691.3" x2="26.2" y2="789.5" stroke="#bbb" stroke-width="0.6"/><line x1="26.2" y1="789.5" x2="123.8" y2="789.5" stroke="#bbb" stroke-width="0.6"/><line x1="25.2" y1="700.14" x2="27" y2="700.14" stroke="#555" stroke-width="0.8"/><line x1="25.6" y1="707.01" x2="26.6" y2="707.01" stroke="#888" stroke-width="0.5"/><line x1="25.6" y1="710.94" x2="26.6" y2="710.94" stroke="#888" stroke-width="0.5"/><line x1="25.6" y1="713.89" x2="26.6" y2="713.89" stroke="#888" stroke-width="0.5"/><line x1="25.2" y1="719.78" x2="27" y2="719.78" stroke="#555" stroke-width="0.8"/><line x1="25.6" y1="726.65" x2="26.6" y2="726.65" stroke="#888" stroke-width="0.5"/><line x1="25.6" y1="730.58" x2="26.6" y2="730.58" stroke="#888" stroke-width="0.5"/><line x1="25.6" y1="733.53" x2="26.6" y2="733.53" stroke="#888" stroke-width="0.5"/><line x1="25.2" y1="739.42" x2="27" y2="739.42" stroke="#555" stroke-width="0.8"/><line x1="25.6" y1="746.29" x2="26.6" y2="746.29" stroke="#888" stroke-width="0.5"/><line x1="25.6" y1="750.22" x2="26.6" y2="750.22" stroke="#888" stroke-width="0.5"/><line x1="25.6" y1="753.17" x2="26.6" y2="753.17" stroke="#888" stroke-width="0.5"/><line x1="25.2" y1="759.06" x2="27" y2="759.06" stroke="#555" stroke-width="0.8"/><line x1="25.6" y1="765.93" x2="26.6" y2="765.93" stroke="#888" stroke-width="0.5"/><line x1="25.6" y1="769.86" x2="26.6" y2="769.86" stroke="#888" stroke-width="0.5"/><line x1="25.6" y1="772.81" x2="26.6" y2="772.81" stroke="#888" stroke-width="0.5"/><line x1="25.2" y1="778.7" x2="27" y2="778.7" stroke="#555" stroke-width="0.8"/><line x1="25.6" y1="785.57" x2="26.6" y2="785.57" stroke="#888" stroke-width="0.5"/><line x1="25.6" y1="789.5" x2="26.6" y2="789.5" stroke="#888" stroke-width="0.5"/><line x1="25.6" y1="792.45" x2="26.6" y2="792.45" stroke="#888" stroke-width="0.5"/><line x1="34.01" y1="788.5" x2="34.01" y2="790.7" stroke="#333" stroke-width="0.9"/><line x1="42.55" y1="789" x2="42.55" y2="790.2" stroke="#777" stroke-width="0.6"/><line x1="47.43" y1="789" x2="47.43" y2="790.2" stroke="#777" stroke-width="0.6"/><line x1="51.09" y1="789" x2="51.09" y2="790.2" stroke="#777" stroke-width="0.6"/><line x1="53.53" y1="789" x2="53.53" y2="790.2" stroke="#777" stroke-width="0.6"/><line x1="58.41" y1="788.5" x2="58.41" y2="790.7" stroke="#333" stroke-width="0.9"/><line x1="66.95" y1="789" x2="66.95" y2="790.2" stroke="#777" stroke-width="0.6"/><line x1="71.83" y1="789" x2="71.83" y2="790.2" stroke="#777" stroke-width="0.6"/><line x1="75.49" y1="789" x2="75.49" y2="790.2" stroke="#777" stroke-width="0.6"/><line x1="77.93" y1="789" x2="77.93" y2="790.2" stroke="#777" stroke-width="0.6"/><line x1="82.81" y1="788.5" x2="82.81" y2="790.7" stroke="#333" stroke-width="0.9"/><line x1="91.35" y1="789" x2="91.35" y2="790.2" stroke="#777" stroke-width="0.6"/><line x1="96.23" y1="789" x2="96.23" y2="790.2" stroke="#777" stroke-width="0.6"/><line x1="99.89" y1="789" x2="99.89" y2="790.2" stroke="#777" stroke-width="0.6"/><line x1="102.33" y1="789" x2="102.33" y2="790.2" stroke="#777" stroke-width="0.6"/><line x1="107.21" y1="788.5" x2="107.21" y2="790.7" stroke="#333" stroke-width="0.9"/><line x1="115.75" y1="789" x2="115.75" y2="790.2" stroke="#777" stroke-width="0.6"/><line x1="120.63" y1="789" x2="120.63" y2="790.2" stroke="#777" stroke-width="0.6"/><line x1="124.29" y1="789" x2="124.29" y2="790.2" stroke="#777" stroke-width="0.6"/><line x1="126.73" y1="789" x2="126.73" y2="790.2" stroke="#777" stroke-width="0.6"/><rect x="37.5" y="788.9" width="5" height="2" fill="#111" stroke="none" stroke-width="0"/>
<ellipse cx="50" cy="770" rx="13" ry="13.5" fill="#808080" fill-opacity="0.38" filter="url(#b2)"/>
<ellipse cx="77" cy="713.5" rx="6.5" ry="5" fill="#707070" fill-opacity="0.45" filter="url(#b1)"/>
<ellipse cx="92" cy="713" rx="7" ry="5.2" fill="#707070" fill-opacity="0.45" filter="url(#b1)"/>
<ellipse cx="85" cy="714" rx="17" ry="7.5" fill="#888" fill-opacity="0.4" filter="url(#b2)"/>
<ellipse cx="69" cy="743" rx="8" ry="12" fill="#999" fill-opacity="0.13" filter="url(#b2)"/>
<path d="M38.56 773.53h.8M59.7 765h.8M37.75 769.4h.8M54.57 780.5h.8M40.24 759.62h.8M57.32 774.91h.8M62.12 777.77h.8M48.86 766.93h.8M65.62 768.25h.8M42.87 759.67h.8M51.08 771.64h.8M46.16 769.31h.8M52.89 777.32h.8M60.7 772.05h.8M36.33 775.36h.8M37.29 768.47h.8M36.98 770.02h.8M41.86 772.24h.8M65.96 769.76h.8M57.23 758.64h.8M46.94 777.03h.8M48.97 774.11h.8M51.03 759.93h.8M55.67 761.83h.8M64.22 766.16h.8M57.33 770.03h.8M59.27 764.14h.8M60.01 768.76h.8M61.38 775.62h.8M51.48 761.82h.8M57.88 774.8h.8M63.58 766.88h.8M55.86 775.36h.8M53.15 772.32h.8M51.96 763.55h.8M40.03 766.1h.8M54.98 782.75h.8M58.73 779.41h.8M57.72 776.94h.8M51.92 778.09h.8M64.1 767.39h.8M44.98 784.19h.8M52.46 779.74h.8M57.82 759.84h.8M62.86 779.38h.8M51.86 777.92h.8M51.3 760.92h.8M48.76 774.15h.8M60.31 776.55h.8M50.54 782.39h.8M42.54 777.77h.8M60.76 767.17h.8M36.71 763.27h.8M52.57 775.73h.8M62.14 762.13h.8M50.02 776.97h.8M48.97 754.52h.8M55.14 784.73h.8M59.18 761.62h.8M45.46 772.44h.8M65.24 773.78h.8M50.98 783.39h.8M49.36 784.51h.8M42.88 765.06h.8M56.13 782.12h.8M56.94 773.2h.8M36.24 764.62h.8M43.62 764.43h.8M56.27 766.41h.8M58.26 770.86h.8M46.29 771.32h.8M54.34 778.69h.8M44.78 767.46h.8M40.22 781.51h.8M62.87 768.41h.8M45.58 758.59h.8M51.91 772.31h.8M65.17 771.71h.8M45.24 755.04h.8M62.65 771.7h.8M36.41 771.52h.8M43.29 784.52h.8M60.53 775.39h.8M48.76 754.87h.8M48.91 756.62h.8M54.11 755.26h.8M42.09 780.62h.8M62.13 761.29h.8M37.66 777.08h.8M57.92 760.84h.8M43 763.01h.8M39.16 763.8h.8M61.2 776.18h.8M64.99 769.37h.8M48.64 760.12h.8M48.86 757.86h.8M36.36 775.35h.8M61.98 776.96h.8M62.19 772.31h.8M42.38 770.92h.8M46.4 759.31h.8M38.45 759.88h.8M49.94 771.7h.8M45.85 782.5h.8M51.93 776.3h.8M60.78 762.74h.8M35.89 775.39h.8M43.93 781.56h.8M53.34 779.96h.8M55.27 755.64h.8M57.24 763.22h.8M42.2 765.51h.8M57.39 778.51h.8M57.67 757.41h.8M46.24 754.87h.8M48.9 776.49h.8M42.01 772.56h.8M52.3 780.03h.8M42.09 762.01h.8M44.15 783.44h.8M60.69 768.79h.8M52.53 771.28h.8M52.27 767.66h.8M46.89 758.32h.8M44.84 783.27h.8M55.86 770.71h.8M47.58 770.7h.8M53.74 763.16h.8M52.19 772.68h.8M42.64 762.24h.8M41.13 760.56h.8M55.53 755.34h.8M47.14 763.45h.8M43.32 771.05h.8M60.97 770.74h.8M48.49 763.4h.8M48.68 779.32h.8M46.25 759.08h.8M39.53 760.84h.8M38.83 778.83h.8M53.93 767.37h.8M62.4 764.41h.8M57.38 777.85h.8M39.24 759.17h.8M41.37 778.44h.8M60.37 760.18h.8M60.23 766.26h.8M45.79 764.11h.8M47.46 755.75h.8M41.47 759.47h.8M53.47 784.78h.8M65.7 768.07h.8M36.15 766.73h.8M43.47 783.79h.8M55.83 762.57h.8M59.22 775.28h.8M36.67 765.64h.8M47.31 770.21h.8M51.47 766.23h.8M52.05 763.67h.8M42.77 782.22h.8M53.92 774.77h.8M36.46 768.59h.8M57.12 758.78h.8M60.58 766.25h.8M54.46 768.53h.8M52.07 781.42h.8M46.59 783.23h.8M42.56 761.14h.8M56.64 760.04h.8M46.27 779.15h.8M58.55 757.46h.8M53.83 784.25h.8M61.36 767.72h.8M43.57 766.82h.8M38.94 767.46h.8M47.9 768.36h.8M61.28 767.8h.8M38.38 778.37h.8M39.65 765.69h.8M48.51 766.17h.8M40.01 767.52h.8M64.81 765.88h.8M48.67 780.93h.8M57.36 777.54h.8M56.09 756.09h.8M41.09 771.32h.8M54.52 781.74h.8M55.13 767.4h.8M50.44 767.63h.8M52.62 777.16h.8M46.5 761.62h.8M42.26 779.94h.8M60.81 778.38h.8M58.2 777.97h.8M49.98 777.11h.8M39.62 768h.8M42.69 777.24h.8M43.71 768.83h.8M53.6 782.19h.8M42.49 761.1h.8M57.44 759.93h.8M54.8 763.95h.8M49.17 755.62h.8M57.36 764.84h.8M43.9 784.11h.8M53.18 785.67h.8M54.45 766.2h.8M50.91 783.61h.8M49.7 774.97h.8M55.13 760.96h.8M51.41 764.5h.8M39.15 777.6h.8M57.13 770.8h.8M43.7 756.08h.8M55.33 768.93h.8M36.08 769.5h.8M36.75 769.77h.8M51.59 773.94h.8M52.43 771.92h.8M39.12 766.34h.8M44.44 767.44h.8M52.89 776.62h.8M58.55 756.57h.8M54.43 767.81h.8M64.44 775.92h.8M36.4 773.3h.8M44.92 779.68h.8M39.56 768.99h.8M48.52 768.91h.8M45.55 755.99h.8M54.51 779.79h.8M49.32 759.84h.8M52.2 776.12h.8M48.02 769.84h.8M61.22 761.09h.8M45.83 755.75h.8M43.01 762.61h.8M40.79 763.34h.8M64.27 768.44h.8M49.21 785.25h.8M49.51 755.9h.8M54.03 760.64h.8M61.95 760.92h.8M45.24 756.82h.8M50.97 759.85h.8M49.27 765.81h.8M44.03 779.19h.8M59.52 770.63h.8M41.86 760.33h.8M51.74 785.45h.8M45.32 761.96h.8M43.51 759.81h.8M40.23 767.94h.8M62.82 769.99h.8M45.79 756.69h.8M52.4 769.7h.8M39.71 760.88h.8M49.58 780.13h.8M56.72 772.21h.8M46.44 773.53h.8M49.92 785.23h.8M39.16 766.47h.8M61.8 767.53h.8M62.77 769.61h.8M51.61 765.89h.8M38.6 761.98h.8M64.82 774.32h.8M55.89 779.28h.8M55.48 779.84h.8M47.04 767.51h.8M59.77 766.5h.8M37.8 767.93h.8M44.32 776.4h.8M43.27 760.09h.8M47.17 783.24h.8M49.46 771.82h.8M50.1 773.31h.8M57.7 781.57h.8M38.32 779.67h.8M49.96 766.42h.8M65.51 768.9h.8M63.63 776.78h.8M40.01 774.74h.8M57.79 768.67h.8M34.68 767.73h.8M48.13 759.21h.8M64.33 768.08h.8M45.68 766.71h.8M42.33 762.4h.8M51.05 773.5h.8M44.45 769.01h.8M37.76 774.59h.8M42.13 772.26h.8M40.99 764.88h.8M52.04 758.52h.8M65.61 769.77h.8M49.23 762.23h.8M61.41 779.92h.8M52.71 757.64h.8M44.72 776.45h.8M45.23 758.96h.8M39.32 763.07h.8M50.15 763.03h.8M50.1 785.84h.8M62.94 762.42h.8M53.82 770.97h.8M48.63 780.34h.8M46.34 766.42h.8M45.84 768.89h.8M61.26 776.8h.8M37.93 766.02h.8M42.26 777.92h.8M52.3 779.09h.8M49.52 755.36h.8M54.94 772.49h.8M54.59 758.23h.8M50.87 762.66h.8M42.77 773.72h.8M53.57 760.96h.8M40.94 756.91h.8M44.59 780.55h.8M49.62 754.65h.8M41.26 774.27h.8M62.27 778.57h.8M54.06 772.18h.8M39.75 765.63h.8M46.54 761.97h.8M50.7 765.64h.8M52.98 782.67h.8M57.68 774.33h.8M47.91 756.84h.8M48.76 775.92h.8M41.46 780.62h.8M46.34 774.08h.8M46.94 758.32h.8M63.52 762.4h.8M59.06 764.52h.8M52.89 761.65h.8M45.83 779.21h.8M63.88 763.96h.8M50.1 779.62h.8M43.6 777.21h.8M42.11 776.07h.8M54.07 781.3h.8M53.43 758.75h.8M56.2 759.72h.8M56.2 782.48h.8M56.22 764.22h.8M61.38 771.6h.8M38.41 766.7h.8M62.63 767.3h.8M51.36 766.18h.8M36.41 765.88h.8M53.95 772.3h.8M48.77 754.88h.8M60.98 776.47h.8M58.55 780.86h.8M45.3 763.62h.8M52.58 783.76h.8M36.14 768.11h.8M42.67 775.73h.8M62.86 767.4h.8M38.28 770.47h.8M47.55 756.76h.8M58.82 764.78h.8M56.02 758.41h.8M58.7 758.57h.8M57.58 756.96h.8M62.36 766.64h.8M36.67 767.99h.8M53.35 760.17h.8M44.63 772.93h.8M49.12 754.1h.8M45.35 774.62h.8M52.95 780h.8M45.89 785.21h.8M58.28 773.23h.8M59.67 778.51h.8M51.1 763.31h.8M60.02 774.14h.8M36.82 762.31h.8M55.14 771.2h.8M52.98 776.84h.8M51.24 783.49h.8M43.73 765.75h.8M53.37 777.78h.8M56.52 782.31h.8M45.52 780.97h.8M54.54 759.89h.8M49.01 785.04h.8M58.03 765.2h.8M35.04 765.41h.8M42.52 770.82h.8M64.82 774.79h.8M53.15 760.59h.8M38.68 768.02h.8M47.55 785.73h.8M45.72 763.48h.8M60.97 770.75h.8M40.12 780.31h.8M47.15 757.87h.8M53.49 775.29h.8M46.45 777.33h.8M57.83 761.58h.8M39.6 757.91h.8M48.79 781.64h.8M58.21 781.4h.8M64.5 770.12h.8M58.24 758.06h.8M57.22 774.12h.8M48.96 765.12h.8M39.13 771.37h.8M61.78 766.62h.8M55.51 763.11h.8M52.53 759.98h.8M54.18 767.59h.8M53.37 763.52h.8M38.83 766.88h.8M58.01 782.2h.8M46.64 778.26h.8M57.86 774.07h.8M36.76 772.77h.8M41.56 780.23h.8M57.91 776.19h.8M34.72 773.74h.8M56.21 758.65h.8M59.8 770.76h.8M48.06 762.45h.8M40.04 765.75h.8M65.9 771.05h.8M52.22 763.07h.8M43.57 764.25h.8M41.64 778.26h.8M47.23 778.87h.8M39.82 778.19h.8M49.71 777.15h.8M48.93 760.88h.8M61.29 765.94h.8M48.49 760.91h.8M52.26 765.7h.8M53.11 773.8h.8M44.09 757.9h.8M54.33 779.18h.8M56.4 759.47h.8M56.43 774.08h.8M53.11 774.7h.8M46.4 772.38h.8M59.18 765h.8M37.16 769.07h.8M51.53 755.58h.8M43.05 776.05h.8M48.31 771.04h.8M39.14 777.82h.8M64.13 768.39h.8M43.33 759.45h.8M59.14 771.07h.8M42.93 780.8h.8M57.72 776.09h.8M35.82 769.16h.8M55.69 758.86h.8M57.63 781.75h.8M59.71 763.22h.8M43.2 779.05h.8M58.5 780.51h.8M61.45 769.05h.8M46.84 755.72h.8M55.07 784.7h.8M45.03 764.9h.8M56.86 773.95h.8M38.15 763.82h.8M42.64 783.55h.8M43 778.34h.8M61.23 781.09h.8M60.02 781.45h.8M38.46 766.77h.8M42.36 766.95h.8M63.42 761.4h.8M55.11 758.69h.8M60.42 780.12h.8M46.36 784.71h.8M50.7 782.1h.8M53.35 763.98h.8M45.78 768.69h.8M56.65 771.36h.8M65.46 768.74h.8M45.17 762.56h.8M43.47 757.91h.8M40.94 778.33h.8M50.68 768.07h.8M53.41 780.4h.8M56.19 777.78h.8M43.96 767.18h.8M41.85 768.98h.8M41.61 766.18h.8M48.04 767.58h.8M47.1 764.65h.8M61.99 766.87h.8M39.92 771.93h.8M40.54 760.68h.8M50.7 756.15h.8M34.11 771.42h.8M57.79 757.42h.8M41.14 775.7h.8M36.07 763.87h.8M38.56 768.12h.8M36.14 776.29h.8M48.39 773.38h.8M47.68 755h.8M48.6 757.71h.8M50.1 761.17h.8M46.48 767.66h.8M57.59 777.54h.8M39.92 769.83h.8M62.63 774.28h.8M42.28 768.72h.8M46.51 779.44h.8M50.37 774.17h.8M63.35 761.68h.8M42.48 757.15h.8M37.36 776.81h.8M52.44 783.61h.8M36.11 763.8h.8M61.6 778.27h.8M58.36 778.23h.8M50.37 769.88h.8M50.33 778.75h.8M48.19 773.57h.8M61.42 761.15h.8M42.37 775.75h.8M47.06 768.25h.8M64.88 772.95h.8M45.98 780.56h.8M64.47 763.62h.8M42.84 771.24h.8M45.68 784.75h.8M55.64 765.73h.8M55 761.89h.8M43.47 771.14h.8M61.62 759.05h.8M53.78 782.15h.8M55.39 784.01h.8M54.96 771.61h.8M48.64 761.15h.8M62.09 761.25h.8M48.65 764.28h.8M44.84 755.39h.8M45.77 771.52h.8M51.48 778.74h.8M48.26 763.13h.8M53.26 777.05h.8M42.73 757.77h.8M40.94 779.35h.8M59.19 761.84h.8M51.16 778.7h.8M61.71 764.2h.8M47.85 782.62h.8M63.39 778.5h.8M39.18 774.26h.8M46.66 769.34h.8M43.09 765h.8M49.92 784.34h.8M57.29 774.45h.8M50.28 762.07h.8M47.85 781.65h.8M55.9 783.96h.8M52.92 769.77h.8M36.54 773.31h.8M38.45 780.22h.8M43.21 770h.8M37.94 765.57h.8M41.75 780.02h.8M52.37 758.74h.8M35.3 769.48h.8M45.37 759.43h.8M56.37 768h.8M51.2 763.61h.8M43.96 765.12h.8M36.91 775.14h.8M53.24 756.14h.8M50.99 781.15h.8M52.19 781.99h.8M46.99 770.02h.8M38.9 762.27h.8M36.58 763.41h.8M52.65 775.64h.8M61.2 771.26h.8M40.25 774.25h.8M48.84 784.25h.8M63.68 776.71h.8M39.3 765.05h.8M52.02 762.46h.8M55.41 777.09h.8M58.66 772.36h.8M41.61 762h.8M48.87 782.22h.8M62.31 777.65h.8M53.82 777.12h.8M57.14 781.22h.8M56.91 757.6h.8M59.51 773.84h.8M45.1 775.6h.8M53.23 769.4h.8M36.07 770.92h.8M56.06 769.47h.8M36.73 773.83h.8M57.61 771.91h.8M54.64 766.17h.8M43.17 775.44h.8M46.06 772.02h.8M65.6 773.41h.8M51.14 756.34h.8M51.02 777.99h.8M42.55 767.48h.8M35 773.7h.8M43.9 777.01h.8M62.42 768.53h.8M59.84 772.51h.8M47.72 766.87h.8M42.63 781.11h.8M58.1 760.75h.8M58.22 762.87h.8M38.51 779.15h.8M39.62 779.61h.8M52.03 779.21h.8M54.81 780.84h.8M53.72 776.19h.8M52.42 780.67h.8M46.15 779.98h.8M63.17 769.45h.8M54.71 764.5h.8M46.8 772.9h.8M46.53 761.01h.8M49.67 772.15h.8M53.39 777.46h.8M37.97 779.58h.8M48.2 761.9h.8M45.97 774.8h.8M58.85 766.28h.8M51.34 756.46h.8M51.91 768.74h.8M45.66 778.92h.8M63.02 777.5h.8M43.6 782.51h.8M46.28 769.55h.8M43.86 774.83h.8M56.01 771.58h.8M47.65 768.39h.8M46.03 779.63h.8M44.32 768.39h.8M47.8 762.14h.8M48 757.1h.8M54.36 775.78h.8M47.44 783.26h.8M41.76 775.58h.8M55.07 764.32h.8M47.54 779.07h.8M50.69 773.15h.8M62.55 771.95h.8M36.83 764.21h.8M58.63 768.67h.8M42.65 756.54h.8M52.8 782.98h.8M42.18 756.46h.8M55.25 764.3h.8M46.77 766.45h.8M40.99 774.4h.8M59.21 773.65h.8M44.68 779.95h.8M48.81 776.26h.8M40.98 776.35h.8M56.52 781.3h.8M50.31 774.87h.8M44.33 778.71h.8M57.13 779.92h.8M46.42 758.65h.8M49.25 767.69h.8M42.51 776.09h.8M59.39 773.92h.8M60.61 773.79h.8M40.6 764.37h.8M46.32 777.16h.8M59.32 771.39h.8M59.36 762.43h.8M49.02 783.04h.8M54.29 780.09h.8M38.29 759.64h.8M42.11 779.23h.8M63.14 765.02h.8M41.22 760.96h.8M41.26 775.47h.8M47.61 784.38h.8M57.2 763.22h.8M52.63 768.32h.8M57.49 778.59h.8M46.54 778.96h.8M56.13 769.11h.8M52.71 777.15h.8M46.71 762.98h.8M61.8 770.07h.8M43.85 774.84h.8M37.11 770.52h.8M37.93 766.23h.8M36.46 764.57h.8M59.06 768.2h.8M41.4 782.37h.8M44.75 782.48h.8M45.54 757.52h.8M64.16 766.73h.8M56.79 780.63h.8M38.01 770.71h.8M44.16 776.25h.8M49.92 758.31h.8M50.65 777.96h.8M46.94 776.01h.8M44.34 769.51h.8M53.87 771.62h.8M60.76 778.05h.8M58.16 777h.8M51.54 759.01h.8M57.78 782.7h.8M52.53 767.3h.8M49.72 781.39h.8M52.88 760.4h.8M48.3 762.15h.8M48.05 761.06h.8M42.99 782.05h.8M58.01 757.84h.8M40.54 765.73h.8M46.62 757.83h.8M56.98 757.49h.8M56.94 776.96h.8M46.27 763.28h.8M50.75 771.72h.8M36.67 762.06h.8M55.75 768.92h.8M46.04 760.43h.8M43.17 762.59h.8M64.54 763.53h.8M62.89 774.07h.8M52.42 772.23h.8M46.93 783.33h.8M55.54 769.78h.8M48.74 772.28h.8M39.28 767.06h.8M43.77 776.35h.8M54.57 756.08h.8M47.89 779.79h.8M39.66 760.56h.8M59.91 768.81h.8M45.93 758.9h.8M51.9 764.17h.8M52.37 774.67h.8M57.33 766.75h.8M44.46 770.41h.8M49.01 771.99h.8M44.45 767.56h.8M44.09 764.07h.8M51.56 781h.8M44.58 776.09h.8M53.85 771.28h.8M56.95 764.44h.8M56.02 773.23h.8M34.11 771.66h.8M54.41 784.23h.8M39.75 771.02h.8M53.53 760.57h.8M61.1 774.21h.8M43.03 759.47h.8M47.37 785.28h.8M60.52 758.01h.8M36.31 775.1h.8M48.95 763.37h.8M56.48 771.1h.8M53.21 772.97h.8M41.22 780.76h.8M45.78 780.67h.8M57.32 770.48h.8M51.63 769.57h.8M35.81 767.55h.8M53.6 756.76h.8M38.44 778.48h.8M56.57 757.62h.8M55.06 769.55h.8M59.66 766.89h.8M47.78 762.31h.8M52.07 768.68h.8M43.24 766.46h.8M42.57 776.27h.8M42.05 757.99h.8M41.57 779.6h.8M44.86 776.71h.8M57.51 764.91h.8M57.68 775.16h.8M49.61 762.65h.8M49.49 758.19h.8M47.14 763.9h.8M54.76 773.73h.8M43.81 778.48h.8M61.32 770.67h.8M42.55 775.18h.8M34.81 766.39h.8M54.22 784.41h.8M44.01 782.54h.8M62.35 780.01h.8M35.79 776.67h.8M51.94 780.04h.8M48.16 763.51h.8M48.07 783.03h.8M58.6 767.07h.8M53.88 778.74h.8M56.14 769.59h.8M43.48 762.63h.8M45.44 764.21h.8M38.77 759.94h.8M57.86 760.04h.8M37.95 769.63h.8M61.04 779.62h.8M46.02 759.99h.8M44.75 761.07h.8M44.26 775.09h.8M40.23 762.84h.8M47.14 769.73h.8M42.55 762.33h.8M39.73 763.17h.8M55.67 767.4h.8M34.36 773.12h.8M49.33 761.07h.8M48.68 754.14h.8M37.83 778.6h.8M61.14 781.38h.8M42.27 770.43h.8M56.92 759.12h.8M63.47 764.44h.8M53.38 759.07h.8M54.07 769.84h.8M59.25 760.17h.8M49.94 784.37h.8M38.77 773.34h.8M54.7 764.7h.8M47.62 782.62h.8M60.67 775.31h.8M52.59 759.1h.8M50.74 784.29h.8M58.61 758.9h.8M35.5 765.36h.8M51.81 764.03h.8M46.63 773.78h.8M59.16 772.16h.8M59.65 759.03h.8M55.05 774.59h.8M38.72 779.5h.8M38.73 759.81h.8M64.31 776.94h.8M53.41 782.23h.8M59.75 760.44h.8M54.27 782.36h.8M48.2 770.84h.8M45.21 777.6h.8M44.21 763.86h.8M39.36 761.95h.8M52.42 775.19h.8M46.22 759.75h.8M53.75 773.95h.8M61.65 765.47h.8M45.57 775.53h.8M63.3 769.57h.8M49.17 760.43h.8M46.22 779.5h.8M57.71 780.11h.8M37.1 776.6h.8M40.91 775.85h.8M34.49 769.37h.8M42.36 781.04h.8M51.14 782.12h.8M46.75 784.59h.8M46.64 784.4h.8M45.2 760.33h.8M59.11 765.97h.8M49.48 757.6h.8M46.16 771.29h.8M42.59 774.13h.8M35.43 775.67h.8M46.44 782.85h.8M46.28 763.02h.8M45.06 773.07h.8M56.35 765.1h.8M41.79 774.47h.8M56.33 756.67h.8M40.05 763.62h.8M62.29 778.86h.8M58.2 775.09h.8M40.41 779.65h.8M45.44 761.8h.8M62.49 760.67h.8M62.59 771.85h.8M40.56 771.85h.8M41.22 771.97h.8M44.06 759.06h.8M65.54 767.08h.8" stroke="#4a4a4a" stroke-width="0.8" stroke-opacity="0.42" fill="none"/>
<path d="M58.51 769.6h.8M55.84 759.16h.8M41.05 741.83h.8M58.65 773.84h.8M39.89 777.22h.8M52.06 777.91h.8M55.31 776.66h.8M49.82 766.45h.8M56.14 780.66h.8M39.98 760.23h.8M49.67 785.52h.8M48.24 755.4h.8M56.98 776.53h.8M66.76 771.67h.8M66.99 763.83h.8M57.81 771.2h.8M39.77 767.65h.8M61.48 779.65h.8M46.78 779.59h.8M57.81 777.77h.8M52.51 772.66h.8M42.93 769.46h.8M51.1 763.7h.8M47.57 771.46h.8M51.88 779.13h.8M41.19 766.63h.8M52.36 766.78h.8M52.9 766.01h.8M60.19 768.08h.8M40.26 776.49h.8M64.36 753.47h.8M48.93 770.65h.8M58.93 782.92h.8M48.69 756.64h.8M55.8 778.71h.8M54.04 770.73h.8M39.73 757.1h.8M58.45 772.52h.8M55.82 773.12h.8M64.54 782.3h.8M45.32 778.67h.8M39.94 755.39h.8M60.39 766.36h.8M31.6 769.89h.8M44.35 774.41h.8M49.56 763.44h.8M43.93 776.64h.8M42.08 771.16h.8M41.57 773.94h.8M65.38 774.95h.8M59.64 773.94h.8M41.79 767.47h.8M50.66 773.83h.8M44.88 775.32h.8M43.88 770.62h.8M49.97 760.17h.8M58.67 770.49h.8M50.99 769.79h.8M31.98 758.02h.8M42.38 778.58h.8M45.11 775.28h.8M41.22 762.81h.8M46.03 779.15h.8M35.84 768.55h.8M53.55 771.23h.8M49.92 776.74h.8M52.53 761.42h.8M55.5 763.36h.8M47.14 782.51h.8M71.02 782.51h.8M53.72 763.39h.8M43.54 784.34h.8M52.9 758.16h.8M63.53 775.04h.8M61.36 773.53h.8M31.57 763.74h.8M48.84 768.62h.8M63.02 764.3h.8M49.21 769.57h.8M49.27 761.18h.8M39.57 747.96h.8M52.91 768.32h.8M51.8 761.02h.8M50.08 761.72h.8M41.38 772.94h.8M55.51 775.04h.8M49.69 766.74h.8M62.03 780.72h.8M44.62 760.74h.8M53.23 772.79h.8M32.15 762.9h.8M52.13 778.54h.8M34.17 766.32h.8M62.35 782.1h.8M47.89 770.37h.8M42.47 773.43h.8M41.07 752.65h.8M37.01 770.52h.8M38.75 779.55h.8M61.05 778.6h.8M55.65 779.77h.8M52.32 777.49h.8M54.06 776.76h.8M41.35 764.41h.8M41.51 777.16h.8M54.39 763.3h.8M41.59 765.11h.8M57.52 769.08h.8M47.99 764.14h.8M49.03 783.73h.8M44.16 767.03h.8M64.59 776.23h.8M40.3 779.39h.8M39.25 774.83h.8M28.42 761.53h.8M57.91 764.96h.8M43.86 770.51h.8M50.08 766.05h.8M44.27 785.45h.8M62.84 772.88h.8M40.21 765.53h.8M47.57 774.22h.8M63.78 765.6h.8M51.32 766.38h.8M51.27 764.17h.8M53.3 779.99h.8M46.67 767.25h.8M51.05 758.82h.8M65.57 758.6h.8M46.99 762.49h.8M62.9 765.9h.8M45.74 786.23h.8M49.03 763.4h.8M50.01 771.72h.8M43.68 768.49h.8M48.27 776.25h.8M56.63 777.2h.8M49.01 776.89h.8M48.25 779.99h.8M53.52 766.42h.8M60.61 757.11h.8M41.77 763.24h.8M48.94 759.54h.8M39.78 753.9h.8M51.04 763.49h.8M68.81 776.68h.8M40.27 781.36h.8M50.97 779.28h.8M40.56 779.99h.8M59.46 766.5h.8M42.8 766.83h.8M65.54 782.9h.8M48.19 767.26h.8M53.21 767.72h.8M46.07 768.28h.8M57.29 769.49h.8M52.1 767.82h.8M48.4 767.24h.8M60.87 772.05h.8M62.85 768.61h.8M59.16 758.25h.8M46.62 769.55h.8M44.65 769.08h.8M42.16 768.67h.8M44.36 770.04h.8M47.54 761.52h.8M46.57 770.3h.8M39.18 770.89h.8M60.75 768.13h.8M54.75 775.38h.8M43.22 781.36h.8M71.53 761.3h.8M68.41 764.01h.8M62.54 754.58h.8M59.78 771.25h.8M39.11 763.03h.8M41.1 762.38h.8M53.3 768.53h.8M28.63 767.4h.8M54.06 770.82h.8M64.51 754.36h.8M52.14 770.33h.8M56.24 758.61h.8M38.89 768.61h.8M50.72 754.58h.8M53.19 770.01h.8M56.34 747.75h.8M54.35 762.47h.8M45.98 776.74h.8M64.51 771.37h.8M49.13 781.25h.8M42.42 768.74h.8M45.74 761.66h.8M51.72 787.48h.8M52.18 774.33h.8M49.79 779.7h.8M51.61 762.52h.8M50.91 782.36h.8M49.33 780.32h.8M49.46 787.39h.8M52.47 775.66h.8M47.58 777.21h.8M48.12 757.41h.8M52.66 759.74h.8M62.71 776.84h.8M50.21 775.95h.8M27.9 783.19h.8M44.51 775.79h.8M71.98 756.25h.8M46.52 772.99h.8M53.66 755.61h.8M42.1 782.78h.8M44.92 774.8h.8M38.35 762.27h.8M34.48 772.37h.8M59.96 770.87h.8M47.72 772.13h.8M54.06 767.58h.8M54.8 786.77h.8M69.08 765.16h.8M39.28 786.46h.8M58.46 780.46h.8M55.24 768.14h.8M58.42 779.64h.8M60.12 760.79h.8M58.88 767.07h.8M47.01 773.09h.8M54.89 772.36h.8M48.45 772.21h.8M48.11 775.06h.8M57.46 777.25h.8M39.34 767.24h.8M50.8 759.63h.8M53.31 768.86h.8M50.57 773.35h.8M44.76 783.38h.8M58.94 765.39h.8M54.07 776.44h.8M43.55 767.04h.8M56.06 748.02h.8M38.81 772.89h.8M55.39 762.17h.8M51.87 769.74h.8M50.69 761.43h.8M54.8 771.62h.8M56.45 782.29h.8M50.4 771.64h.8M52.88 784.96h.8M37.64 770.06h.8M44.73 771.17h.8M57.21 770.69h.8M56.38 771.7h.8M44.01 764.46h.8M38.28 772.01h.8M46.73 777.28h.8M58.36 762.53h.8M40.81 775.28h.8M42.59 771.88h.8M55.31 766.8h.8M65.31 763.47h.8M53.73 766.58h.8M48.75 775.05h.8M48.96 763.86h.8M45.69 767.5h.8M56.57 767.75h.8M60.63 777.41h.8M43.77 778.92h.8M30.78 770.34h.8M41.74 769.26h.8M59.96 770.1h.8M48.67 781.03h.8M43.6 763.02h.8M58.42 775.34h.8M37.91 771.39h.8M56.77 768.71h.8M46.65 771.26h.8M51.92 764.09h.8M57.24 756.64h.8M49.46 788.35h.8M41.04 769.78h.8M30.69 763.02h.8M40.27 770.62h.8M45.88 785.78h.8M42.22 769.85h.8M51.95 775.59h.8M57.73 756.76h.8M68.8 767.47h.8M43.98 756.06h.8M46.31 754.97h.8M51.68 764.98h.8M52.86 763.36h.8M60.07 771.46h.8M41.68 782.55h.8M35.63 758.03h.8M61.14 764.97h.8M61.59 774.97h.8M68.65 785.31h.8M55.06 764.7h.8M55.13 782.04h.8M51.25 745.39h.8M46.85 766.93h.8M49.57 767.08h.8M59.8 759.26h.8M53.81 753.14h.8M31.52 761.42h.8M43.65 762.41h.8M44.06 775.27h.8M54.98 770.72h.8M51.73 764.12h.8M41.64 757.92h.8M46.5 760.38h.8M47.27 776.21h.8M54.71 781.34h.8M42.09 751.31h.8M40.57 787.01h.8M55.98 766.28h.8M61.28 766.49h.8M64.26 766.58h.8M46.56 775.96h.8M40.27 768.61h.8M66.52 773.74h.8M40.62 767.87h.8M49.78 763.56h.8M53.51 780.64h.8M50.41 777.56h.8M52.52 771.18h.8M43.61 778.2h.8M61.52 766.17h.8M42.54 774.45h.8M50.88 779.59h.8M54.19 768.9h.8M38.2 775.29h.8M50.84 759.22h.8M37.32 754.45h.8M55.29 766.28h.8M44.58 769.05h.8M50.29 767.1h.8M56.31 778.72h.8M48.08 783.42h.8M48.92 762.62h.8M51.31 757.79h.8M47.44 760.97h.8M46.32 771.66h.8M29.12 773.33h.8M52.21 768.14h.8M56.08 772.91h.8M46.88 761.43h.8M56.21 776.44h.8M37.42 763.77h.8M39.9 777.05h.8M45.08 759.32h.8M62.82 773.85h.8M51.97 772.06h.8M48.46 770.26h.8M57.59 773.74h.8M46.06 770.79h.8M65.92 765.24h.8M38.72 770.95h.8M55.28 774.95h.8M53.09 786.75h.8M41.28 769.52h.8M35.72 780.54h.8M49.3 785.03h.8M47.59 761.05h.8M43.94 776.8h.8M42.92 772.15h.8M43.77 763.86h.8M45.16 783.81h.8M40.75 772.68h.8M56.81 763.57h.8M37.08 782.76h.8M64.76 767.79h.8M39.68 777.36h.8M49.59 762.89h.8M46.62 749.49h.8M42.95 759.51h.8M38.64 774.91h.8M52.19 784.42h.8M26.95 764.21h.8M42.7 781.24h.8M58.77 770.93h.8M50.68 763.45h.8M45.46 766.07h.8M28.28 786.12h.8M56.18 787.73h.8M60.46 774.12h.8M57.01 755.4h.8M41.19 777.17h.8M46.61 756.01h.8M49.76 758.82h.8M49.87 783.29h.8M40.12 766h.8M54.59 769.63h.8M51.44 762.61h.8M46.95 749.4h.8M48.32 780.87h.8M40.22 768.24h.8M55.93 780.33h.8M59.84 762.22h.8M46.25 784.93h.8M45.83 772.29h.8M42.57 764.17h.8M30.92 761.1h.8M41.38 781.46h.8M56.39 773.28h.8M45.36 757.84h.8M53.93 762.68h.8M48.82 777.92h.8M48.17 769.56h.8M41.23 778.82h.8M54.37 775.9h.8M63.79 755.8h.8M50.01 775.32h.8M52.66 772.43h.8M53.81 756.6h.8M49.11 779.81h.8M49.32 768.09h.8M57.06 754.71h.8M53.19 782.86h.8M47.59 762.68h.8M54.31 765.87h.8M42.72 771.2h.8M35.48 775.55h.8M39.45 765.04h.8M56.02 769.51h.8M52.02 781.65h.8M62.87 787.77h.8M45.03 777.69h.8M35.53 776.68h.8M61.01 763.52h.8M53.77 777.01h.8M48.4 764.29h.8M62.77 758.41h.8M51.19 778h.8M51.8 783.41h.8M62.54 773.82h.8M65.06 776.25h.8M39.17 766.98h.8M52.11 771.44h.8M36.31 760.04h.8M53.64 771.51h.8M63.02 771.72h.8M53.03 776.07h.8M43.47 758.63h.8M45.81 778.57h.8M47.35 780.59h.8M45.04 776.32h.8M50.05 777.07h.8M49.89 771.53h.8M45.78 780.57h.8M49.51 774.13h.8M55.43 762.12h.8M42.67 769.46h.8M60.8 760.73h.8M41.05 761.31h.8M46.45 760.63h.8M42.78 774.39h.8M40.44 769.75h.8M39.68 768.1h.8M54.31 752.57h.8M50.29 771.78h.8M49.32 772.05h.8M53.4 758.67h.8M48.77 775.4h.8M60.96 758.12h.8M44.72 758.08h.8M49.68 760.65h.8M41.38 776.48h.8M69.15 752.11h.8M64 761.95h.8M55.71 772.88h.8M60.47 768.07h.8M42.71 769.32h.8M56.63 762.18h.8M53.36 769.8h.8M51.39 769.94h.8M55.04 776.78h.8M47.37 766.84h.8M31.4 762.31h.8M36.76 775.68h.8M40.59 763.87h.8M54.4 778.41h.8M60.31 762.54h.8M51.92 779.05h.8M42.58 767.92h.8M39.39 764.36h.8M55.95 770.67h.8M46.73 765.08h.8M62.92 776.36h.8M39.24 788.49h.8M46.34 768.58h.8M45.67 764.98h.8M55.37 757.46h.8M50.15 767.09h.8M64.85 773.24h.8M53.62 774.41h.8M54.99 770.95h.8M28.89 773.53h.8M47.15 775.94h.8M52.55 765.21h.8M42.24 761.18h.8M52.33 769h.8M42.3 766.77h.8M52.89 764.2h.8M48.81 764.69h.8M27.67 770.69h.8M50.43 776.86h.8M61.06 763.69h.8M55 772.2h.8M50.57 777.01h.8M57.39 759.06h.8M62.55 768.39h.8M44.2 763.99h.8M47.98 760.29h.8M59.22 773.58h.8M42.2 776.96h.8M51.93 770.61h.8M58.14 769.12h.8M47.68 774.22h.8M34.24 759.65h.8M54.24 779.07h.8M35.52 770.03h.8M44.24 767.5h.8M55.05 782.68h.8M64.99 778.01h.8M55.39 771.15h.8M33.95 773.29h.8M39.72 760.39h.8M50.94 756.42h.8M65.05 775.06h.8M53.03 774.05h.8M51.98 770.48h.8M55.96 764.19h.8M52.25 771.36h.8M56.56 760.52h.8M52.03 768.82h.8M55.31 774.54h.8M51.5 773.86h.8M53.72 781.57h.8M52.54 774.5h.8M41.96 768.17h.8M56.5 778.9h.8M41.59 769.58h.8M47.61 770.39h.8M45.82 766.31h.8M49.4 771h.8M58.61 762.66h.8M41.73 776.66h.8M54.21 768.33h.8M40.08 778.92h.8M40.76 779.58h.8M52.06 768.66h.8M48.48 776.91h.8M50.02 755.11h.8M43.96 751.63h.8M53.34 777.81h.8M58.72 758.45h.8M68.03 785.44h.8M48.98 752.99h.8M42.49 778.83h.8M67.55 765.34h.8M34.2 761.68h.8M66.25 769.9h.8M37.96 752.07h.8M55.35 776.79h.8M45.85 768.23h.8M50.58 767.01h.8M45.25 765.02h.8M44.87 780.42h.8M53.33 778.64h.8M65.61 750.45h.8M49.36 778.08h.8M48.09 764.83h.8M53.3 765.4h.8M42.75 767.3h.8M50.38 770h.8M57.58 770.09h.8M47.97 767.62h.8M48.69 763.96h.8M36.48 771.58h.8M62.36 754.41h.8M43.47 773.54h.8M44.11 774.42h.8M49.5 760.53h.8M48.08 765.51h.8M54.54 748.29h.8M53.43 781.26h.8M51.2 771.94h.8M45.36 772.78h.8M48.66 759h.8M39.82 750.16h.8M53.61 771.38h.8M59.19 772.1h.8M55.82 758.49h.8M34.01 765.05h.8M47.11 772.99h.8M48.78 768.5h.8M50.27 772.07h.8M51.63 772.62h.8M45.64 769.12h.8M37.38 760.41h.8M47.59 773.57h.8M43.48 757.92h.8M58.06 762.8h.8M35.25 761.64h.8M39.81 749.3h.8M46.62 784.27h.8M43.58 762.92h.8M59.65 770.65h.8M49.03 781.49h.8M39.86 769.4h.8M54.21 771.63h.8M39.93 761.99h.8M65.05 769.1h.8M47.66 779.08h.8M34.66 769.45h.8M34.92 781.77h.8M41.48 770.86h.8M42.07 771.01h.8M52.62 769.99h.8M47.21 772.04h.8M47.87 765.63h.8M55.28 777.19h.8M38.43 761.36h.8M43.32 772.43h.8M37.99 783.14h.8M50.29 771.25h.8M57.36 763.58h.8M53.1 773.4h.8M60.91 761.02h.8M61.72 775.02h.8M52.08 779h.8M47.83 768.32h.8M57.06 766.97h.8M59.15 781.63h.8M51.81 771.48h.8M44.47 762.18h.8M62.19 761.21h.8M50.7 772.49h.8M42.37 764.2h.8M44.01 787.99h.8M53.15 781.79h.8M67.26 778.59h.8M61.19 766.27h.8M44.17 782.33h.8M62.43 761.38h.8M59.74 772.55h.8M56.82 778.23h.8M66.18 764.75h.8M50.08 780.77h.8M47.88 774.71h.8M49.44 755.66h.8M45.4 777.59h.8M45.48 757.06h.8M45.85 770.97h.8M54.27 772.93h.8M54.6 761.17h.8M45.02 763.62h.8M46.41 773.88h.8M61.45 768.16h.8M59.14 779.57h.8M40.43 763.24h.8M51.45 758.45h.8M66.04 754.25h.8M39.76 776.8h.8M43.84 776.2h.8M41.82 779.15h.8M45.25 776.33h.8M58.71 757.49h.8M42.68 755.35h.8M40.8 778h.8M49.94 777.4h.8M62.27 778.99h.8M56.35 766.57h.8M46.94 772.94h.8M57.6 779.44h.8M52.77 767.77h.8M49.58 784.34h.8M52.63 787.22h.8M44.21 777.69h.8M52.11 776.72h.8M43.89 773.13h.8M49.72 767.91h.8M40.15 758.28h.8M47.45 774.92h.8M52.49 772.33h.8M53.02 758.85h.8M65.32 771.25h.8M40.01 763.88h.8M64.29 772.72h.8M62.36 758.44h.8M67.87 785.5h.8M65.08 778.22h.8M55.05 773.04h.8M43.09 773.73h.8M68.37 769.2h.8M77.99 751.91h.8M51 752.73h.8M46.02 763.85h.8M35.79 767.67h.8M27.98 768.16h.8M43.2 755.54h.8M56.31 748.25h.8M56.55 773.68h.8M57.92 772.07h.8M61.65 767.37h.8M35.47 775.02h.8M39.58 766.17h.8M52.25 759.4h.8M64.27 752.14h.8M67.64 770.11h.8M74.23 783.75h.8M60.01 773.99h.8M52.2 754.07h.8M42.8 759.26h.8M40.64 768.96h.8M39.5 772.17h.8M47 764.91h.8M56.03 776.06h.8M31.91 766.75h.8M91.31 770.66h.8M56.99 759.92h.8M64.19 788.86h.8M58.68 768.92h.8M50.98 747.87h.8M58.84 766.85h.8M56.1 774.94h.8M63.39 762.71h.8M59.08 778.03h.8M51.12 787.32h.8M45.46 749.61h.8M35.73 775.11h.8M36.81 772.31h.8M29.55 775.08h.8M47 759.65h.8M42.84 767.26h.8M63.29 773.33h.8M47.72 772.39h.8M62.94 776.05h.8M74.95 761.88h.8M62 771.98h.8M41.8 777.61h.8M62.18 782.16h.8M57.29 760.03h.8M52.95 775.06h.8M73.73 771.94h.8M51.48 765.15h.8M54.56 779.69h.8M52.71 750.53h.8M44.99 782.44h.8M40.3 780.71h.8M52.95 761h.8M61.67 744.95h.8M57.94 767.21h.8M59.35 769.57h.8M52.4 764.26h.8M45.08 782.26h.8M61.25 754.64h.8M61.09 759.27h.8M60.91 773.08h.8M46.16 782.06h.8M67.61 764.3h.8M52.28 765.82h.8M44.59 777.27h.8M54.17 771.5h.8M35 777.89h.8M35.39 779.11h.8M49.34 772.14h.8M44.21 760.35h.8M36.38 770.63h.8M49.43 773.88h.8M46.6 779.67h.8M52.57 771.94h.8M47.24 770.29h.8M59.59 762.18h.8M33.96 775.07h.8M56.4 770.84h.8M53.93 755.07h.8M37.16 770.47h.8M50.13 755.81h.8M56.99 748h.8M67.7 758.06h.8M42.83 758.14h.8M31.99 766.71h.8M52.88 766.95h.8M50.25 753.39h.8M65.13 774.18h.8M59.21 783.27h.8M64.45 785.83h.8M27.22 771.34h.8M59.98 770.38h.8M47 745.48h.8M51.91 760.51h.8M69.22 779.19h.8M49.42 765.79h.8M65.73 764.15h.8M65.65 772.87h.8M46.54 774.79h.8M74.57 751.51h.8M60.81 779.16h.8M46.94 787.73h.8M59.73 776.88h.8M36.61 777.25h.8M32.69 776.4h.8M80.16 759.8h.8M71.98 757.6h.8M51.42 778.9h.8M30.54 774.31h.8M39.81 763.11h.8M62.1 769.46h.8M56.06 770.64h.8M55.72 788.81h.8M52.21 767.05h.8M50.85 778.91h.8M56.8 745.05h.8M49.46 775.56h.8M86.53 763.38h.8M46.7 756.72h.8M49.52 749.51h.8M38.88 769.44h.8M29.63 767.22h.8M41 785.3h.8M52.41 778.34h.8M83.21 762.75h.8M73.95 759.58h.8M65.08 751.87h.8M44.98 768.08h.8M46.95 747.34h.8M52.19 766.95h.8M71.01 777.3h.8M65.21 769.24h.8M40.66 754.16h.8M45.36 759.22h.8M46.64 766.54h.8M68.17 758.7h.8M55.06 757.36h.8M54.27 782.63h.8M42.54 756.29h.8M50.94 770.65h.8M41.6 775.39h.8M51.44 778.4h.8M31.38 779.34h.8M67.98 760.63h.8M77.92 773.13h.8M32.4 757.69h.8M40.11 762.65h.8M47.14 773.91h.8M47.6 766.57h.8M37.07 746.04h.8M40.57 755.75h.8M62.66 741.59h.8M66.29 736.35h.8M47.67 770.52h.8M34.96 758.73h.8M62.57 757.48h.8M49.11 770.88h.8M59.51 755.31h.8M68.7 768.52h.8M64.49 753.51h.8M65.57 769.23h.8M61.24 762.74h.8M62.4 770.75h.8M41.14 775.9h.8M47.7 764.94h.8M45.2 781.31h.8M63.42 781.41h.8M27.7 780.05h.8M55.77 783.91h.8M50.35 772.01h.8M45.82 783.42h.8M39.11 768.58h.8M44.97 769.04h.8M43.3 777.97h.8M59.59 751.14h.8M44.27 754.63h.8M65.38 755.33h.8M56.96 772.16h.8M49.64 747.03h.8M74.14 768.61h.8M59.92 783h.8M36.45 758.49h.8M38.95 769.38h.8M63.7 768.59h.8M68.84 777.6h.8M49.4 778.4h.8M43.8 785.52h.8M41.21 786.06h.8M85.52 749.4h.8M74.2 752.61h.8M65.62 778.47h.8M55.69 772.51h.8M56.92 768.02h.8M46.49 755.62h.8M74.85 770.16h.8M77.11 779.32h.8M56.84 757.23h.8M46.86 770.94h.8M48.78 766.78h.8M46.96 764.63h.8M46.06 751.65h.8M38.51 788.12h.8M37.27 764.11h.8M38.9 768.44h.8M35.93 786.71h.8M43.91 775.79h.8M86.01 770.27h.8M50.4 736.02h.8M45.74 767.71h.8M52.3 773.26h.8M35.13 759.15h.8M61.28 767.23h.8M51.04 778.44h.8M52.03 772.31h.8M35.4 770.49h.8M43.61 768.87h.8M68.86 773.04h.8M53.17 767.26h.8M46.98 761.66h.8M39.81 749.04h.8M48.5 761.1h.8M77.39 756.26h.8M45.61 769.01h.8M74.87 746.1h.8M85.9 748.5h.8M65.74 745.95h.8M64.24 748.36h.8M56.62 748.75h.8M65.78 737.47h.8M65.01 741.13h.8M52.74 749.83h.8M66.69 764.25h.8M68.33 753.99h.8M68.2 741.02h.8M57.48 737.04h.8M63.2 713.54h.8M65.81 733.98h.8M71.25 755.06h.8M65.76 756.94h.8M79.71 751.86h.8M65.5 743.92h.8M83.29 761.3h.8M78.84 721.88h.8M48.03 764.1h.8M74.97 758.92h.8M73.75 739.07h.8M72.68 742.17h.8M82.05 752.85h.8M59.96 733.56h.8M77.71 753.34h.8M71.14 746.87h.8M57.26 732.42h.8M73.3 720.67h.8M72.99 749.76h.8M74.47 752.96h.8M85.81 746.28h.8M61.19 722.16h.8M48.2 743.93h.8M76.6 722.58h.8M70.16 734.14h.8M66.27 745.37h.8M68.92 728.46h.8M75.41 741.15h.8M51.61 752.1h.8M82.85 738.08h.8M83.1 723.69h.8M66.31 758.47h.8M80.46 749.01h.8M78.21 737.81h.8M75.11 754.35h.8M77.18 747.34h.8M76.2 748.02h.8M74.1 724.08h.8M74.03 731.44h.8M65.18 743.46h.8M70.84 726.88h.8M63.78 745.67h.8M64.87 743.11h.8M70.67 745.34h.8M63.64 744.96h.8M73.77 727.44h.8M75.66 730.69h.8M71.89 750.14h.8M74.37 728.54h.8M60.27 728.5h.8M73.74 744.38h.8M52.23 751.65h.8M79.29 736.42h.8M67.83 745.7h.8M59.39 737.55h.8M73.55 738.56h.8M68.45 744.06h.8M84.07 745.9h.8M71.59 736.98h.8M79.74 743.52h.8M68.28 758.57h.8M80.69 731.53h.8M65.7 758.1h.8M64.26 761.64h.8M67.07 766.18h.8M59.74 719.21h.8M55.36 766.57h.8M61.96 737.43h.8M63.31 733.75h.8M69.94 744.23h.8M62.85 736.29h.8M80.6 754.22h.8M77.47 757.66h.8M66.77 753.29h.8M83.41 732.73h.8M80.79 713.01h.8M51.25 724.98h.8M59.46 730.97h.8M64.07 752.48h.8M61.86 738.16h.8M56.71 723.34h.8M66.81 733.58h.8M76.48 743.99h.8M52.05 751.35h.8M57.6 737.78h.8M59.01 732.61h.8M62.99 728.21h.8M61.76 739.14h.8M74.91 751.05h.8M84.49 723h.8M64.84 757.12h.8M58.16 740.48h.8M74.92 761.06h.8M73.57 746.41h.8M66.91 749.96h.8M69.28 746.59h.8M62.53 740.91h.8M60.39 729.31h.8M60.7 732.31h.8M62.27 735.48h.8M54.6 746.11h.8M71.16 761.05h.8M47.03 725.36h.8M59.54 731.9h.8M68.85 732.17h.8M61.33 751.17h.8M66.61 722.96h.8M76.84 769.35h.8M78.46 740.42h.8M80.54 741.53h.8M65.13 745.39h.8M79.97 743.75h.8M65.55 725.72h.8M69.97 729.43h.8M67.39 725.69h.8M60.45 730.7h.8M62.26 728.66h.8M79.37 751.69h.8M65.27 729.85h.8M78.12 739.42h.8M73.4 754.42h.8M64.6 747.62h.8M72.3 737.17h.8M66.71 734.88h.8M37.68 737.65h.8M83.11 754.57h.8M92.77 743.24h.8M76.24 734.88h.8M61.52 731.86h.8M72.35 751.64h.8M51.06 750.76h.8M76.45 751.81h.8M56.76 744.72h.8M71.2 726.34h.8M58.04 768.74h.8M62.18 736.44h.8M50.71 734.91h.8M80.45 746.99h.8M60.6 742.77h.8M71.52 749.34h.8M59.29 746.81h.8M62.26 736.33h.8M60.57 732.7h.8M72.6 721.2h.8M69.99 774.83h.8M60.21 738.88h.8M67.59 760.95h.8M55.41 749.05h.8M67.33 765.79h.8M66.35 766.15h.8M59.56 746.58h.8M58.33 735.16h.8M56.98 737.43h.8M82.11 735.89h.8M90.36 761.54h.8M70.95 742.38h.8M71.01 733.24h.8M73.5 743.37h.8M50.67 742.69h.8M73.37 742.9h.8M70.98 742.32h.8M63.84 754.79h.8M80.76 738.61h.8M75.36 729.31h.8M79.38 732.42h.8M68.55 753.56h.8M63.69 742.74h.8M77.19 735.68h.8M71.22 755.28h.8M70.45 732.98h.8M64.64 739.25h.8M68.31 749.72h.8M54.28 741.37h.8M69.95 760.15h.8M55.14 731.7h.8M76.1 741.7h.8M77.92 741.7h.8M62.38 741.55h.8M79.16 750.79h.8M69.91 743.93h.8M77.72 749.57h.8M70.34 750.85h.8M69.05 729.03h.8M76.17 756.46h.8M80.55 741.45h.8M57.47 747.05h.8M62.97 720.1h.8M69.51 733.16h.8M77.48 711.52h.8M81.53 717.19h.8M79.82 718.56h.8M74.21 723.57h.8M67.76 716.72h.8M82.68 711.9h.8M77.75 708.53h.8M74.71 714.81h.8M70.25 705.35h.8M75.17 710.03h.8M71.9 712.87h.8M69.66 718.17h.8M83.3 713.71h.8M73.91 713.32h.8M76.53 710.23h.8M73.59 715.35h.8M72.22 710.88h.8M74.66 709.36h.8M78.46 708.18h.8M82.06 716.57h.8M76.91 717.12h.8M82.96 711.92h.8M76.78 711h.8M75.11 711.93h.8M77.51 715.71h.8M88.85 714.96h.8M82.14 712.59h.8M85.92 714.06h.8M76.13 712.38h.8M77.21 711.9h.8M78.01 720.93h.8M77.43 710.38h.8M67.14 713.1h.8M71.66 710.32h.8M77.82 714.98h.8M79.55 718.35h.8M71.97 710.79h.8M72.35 709.32h.8M73.55 709.99h.8M80.7 709.07h.8M88.73 704.93h.8M81.44 706.97h.8M74.43 708.43h.8M77.04 715.5h.8M74.8 710.75h.8M71.72 709.98h.8M72.45 710.66h.8M77.31 717.15h.8M73.24 705.04h.8M75 716.89h.8M71.49 714.97h.8M70.78 708.16h.8M78.11 705.72h.8M74.74 702.15h.8M71.32 714.98h.8M74.23 710.46h.8M79.74 709.57h.8M70.76 711.68h.8M76.47 713.97h.8M75.9 718.31h.8M79.85 712.8h.8M89.09 706.89h.8M78.14 710.13h.8M88.25 714.57h.8M81.21 715.01h.8M84.63 711.09h.8M81.66 706.21h.8M79.84 718.09h.8M81.45 715.85h.8M66.86 713.71h.8M75.01 719.68h.8M79.68 716.06h.8M83.77 715.54h.8M69.55 710h.8M65.68 718.38h.8M75.77 708.01h.8M79.42 711.57h.8M75.18 718.76h.8M65.87 707.23h.8M76.27 712.3h.8M82.8 711.85h.8M79.57 720.51h.8M69.52 707.41h.8M72.99 712.45h.8M70.94 714.39h.8M72.67 718.05h.8M79.49 716.15h.8M77.95 714.18h.8M68.12 712.39h.8M67.29 718.83h.8M70.74 709.53h.8M74.35 722.47h.8M70.87 720.28h.8M77.5 724.09h.8M75.59 711.04h.8M76.63 711.02h.8M72.97 716.27h.8M74.35 717.01h.8M79.96 717.18h.8M85.16 717.75h.8M71.73 718.89h.8M63.6 718.6h.8M83.25 708.88h.8M83.58 705.5h.8M82.14 711.62h.8M75.26 712.6h.8M73.77 716.39h.8M76.52 713.13h.8M77.06 711.81h.8M71.39 715.81h.8M81.25 708.4h.8M81.89 718.6h.8M77.71 719.43h.8M65.24 719.06h.8M72.84 714.58h.8M71.9 723.55h.8M74.62 716.11h.8M69.01 712.1h.8M79.09 712.86h.8M72.78 719.55h.8M68.57 713.69h.8M75.89 711.82h.8M80.27 714.33h.8M75.84 716.07h.8M76.38 715.56h.8M83.62 714.36h.8M77.16 710.97h.8M84.37 717.37h.8M79.65 714.63h.8M72.39 713.71h.8M78.42 708.51h.8M71.73 712.89h.8M87.04 714.88h.8M69.08 718.65h.8M81.6 716.33h.8M73.91 712.89h.8M88.5 718.03h.8M101.3 705.77h.8M68.41 711.58h.8M71.96 710.59h.8M80.72 718.93h.8M69.24 715.77h.8M81.43 714.44h.8M84.08 718.25h.8M72.52 713.96h.8M78.31 708.39h.8M75.62 717.65h.8M78.94 713.52h.8M90.68 716.02h.8M81.98 709.77h.8M83.38 711.56h.8M75.92 711.66h.8M70.04 715.8h.8M70.27 716.88h.8M72.56 718.72h.8M78.66 718.31h.8M70.95 715.8h.8M80.86 714.59h.8M76.29 710.97h.8M59.46 715.54h.8M70.09 709.05h.8M78.89 702.3h.8M72.8 716.3h.8M77.04 712.52h.8M72.71 714.17h.8M68.63 711.06h.8M81.2 709.58h.8M76.2 711.87h.8M70.19 705.15h.8M72.22 710.19h.8M71.35 713.2h.8M78.57 716.07h.8M78.83 708.52h.8M84.38 714.92h.8M80.87 708.04h.8M82.75 723.09h.8M79.72 718.16h.8M73.79 714.14h.8M76.63 716.25h.8M77.79 714.58h.8M72.03 708.45h.8M76.86 724.09h.8M71.62 715.7h.8M84.14 710.76h.8M68.09 715.02h.8M76.71 709.82h.8M85.08 716.46h.8M76.9 707.68h.8M83.74 718.26h.8M81.45 720.36h.8M71.36 709.26h.8M81.67 715.36h.8M76.71 711.42h.8M82.51 714.57h.8M81.66 708.66h.8M77.29 715.26h.8M82.49 706.43h.8M75.87 710.71h.8M77 712.9h.8M79.26 716.84h.8M78.43 713.19h.8M81.76 719.43h.8M77.33 710.11h.8M86.57 717.39h.8M88.82 711.76h.8M74.88 712.77h.8M76.51 707.29h.8M81.55 707.17h.8M61.93 713.3h.8M71.19 714.61h.8M70.69 707.75h.8M65.85 708.15h.8M75.42 722.57h.8M80.66 710.76h.8M84.34 714.54h.8M66.82 706.05h.8M68.76 711.03h.8M77.2 710.89h.8M74.05 709.5h.8M77.93 716.87h.8M71.17 718.82h.8M72.42 712.29h.8M86.1 716.08h.8M77.25 705.32h.8M77.45 711.99h.8M75.81 718.2h.8M74.02 721.17h.8M77.27 714.21h.8M75.31 713.92h.8M84.39 714.55h.8M71.55 710.22h.8M83.38 715.86h.8M72.36 712.97h.8M77.54 715.97h.8M71.77 713.93h.8M69.92 710.21h.8M75.77 719.3h.8M76.52 720.61h.8M79.1 719.04h.8M76.15 705.82h.8M65.1 711.68h.8M86.72 712.84h.8M74.27 716.13h.8M74.98 711.89h.8M78.09 715.22h.8M73.82 710.04h.8M85.78 709.81h.8M72.08 712.73h.8M76.23 714.77h.8M85.55 719.09h.8M76.79 714.03h.8M82.34 712.98h.8M77.93 708.83h.8M79.21 713.15h.8M69.17 714.54h.8M89.14 714.97h.8M72.64 719h.8M78.96 714.33h.8M85.3 717.42h.8M88.44 710.1h.8M74.64 713.14h.8M78.11 708.46h.8M78.58 707.53h.8M73.92 712.44h.8M78.41 714.89h.8M72.86 714.97h.8M78.67 713.11h.8M77.16 711.33h.8M86.92 719.38h.8M78.4 719.18h.8M72.22 711.29h.8M75.22 715.41h.8M75.22 709.59h.8M68.81 708.79h.8M82.13 715.57h.8M69.31 721.46h.8M74.36 711.54h.8M76.09 713.69h.8M74.92 713.35h.8M81.24 717.41h.8M73.3 712.8h.8M72.88 711.64h.8M76.47 712.15h.8M80.26 709.56h.8M79.12 716.66h.8M75.29 712.12h.8M80.31 711.91h.8M75.19 714.39h.8M63.49 716.48h.8M78.33 715.98h.8M69.48 711.72h.8M79.41 715.87h.8M73.77 711.56h.8M85.34 714.65h.8M83.75 707.77h.8M79.33 711.15h.8M74.26 718.91h.8M71.24 709.49h.8M73.21 712.47h.8M77.17 715.3h.8M83.79 715.5h.8M86.64 718.04h.8M79.99 712.88h.8M84.52 712.22h.8M82.4 713.65h.8M73.96 716.33h.8M80.75 714.82h.8M82.96 714.01h.8M73.03 713.86h.8M87.18 709.4h.8M67.11 713.52h.8M71.44 719.23h.8M77.89 709.56h.8M76.69 709.51h.8M79.66 717.47h.8M83.61 717.98h.8M76.93 718.55h.8M79.68 708.08h.8M84.43 709.75h.8M73.81 706.89h.8M72.51 704.53h.8M70.3 709.96h.8M70.54 711.86h.8M81.33 712.19h.8M79.38 718.22h.8M73.71 719.8h.8M76.77 713.29h.8M78.95 719.28h.8M70.4 717.44h.8M74.38 713.9h.8M71.51 702.74h.8M83.38 716.75h.8M71.27 709.63h.8M70.47 713.33h.8M88.13 712.92h.8M67.76 716.64h.8M72.07 706.74h.8M79.12 713.48h.8M77.94 716.54h.8M82.22 704.63h.8M77.94 718.4h.8M83.77 709.1h.8M67.06 708.78h.8M79.13 712.63h.8M81.46 712.74h.8M70.08 708.76h.8M75.72 717.04h.8M85.07 709.24h.8M79.41 713.22h.8M70.68 708.47h.8M85.51 711.63h.8M76.52 715.45h.8M78.98 716.45h.8M72.61 711.87h.8M78.39 714.97h.8M73.02 706.24h.8M81.72 717.11h.8M82.16 713h.8M67.2 711.81h.8M88.05 714.79h.8M78.37 706.56h.8M73.47 717.67h.8M78.82 712.94h.8M83.84 716.54h.8M79.99 712.78h.8M79.3 717.92h.8M78.72 708.13h.8M76.04 712.32h.8M79.29 718.92h.8M76.62 711.64h.8M81.03 715.51h.8M72.74 715.48h.8M78.04 714.98h.8M68.67 705.06h.8M68.79 706.3h.8M82.32 717.76h.8M69.96 719.75h.8M70.82 710.06h.8M88.8 708.01h.8M80.84 717h.8M83.06 716.32h.8M78.38 720.07h.8M76.58 713.92h.8M79.18 712.06h.8M76.23 718.68h.8M85.86 716.1h.8M76.42 711.4h.8M74.91 711.95h.8M74.61 713.14h.8M75.8 718.11h.8M69.3 711.77h.8M81.46 711.78h.8M74.78 715.88h.8M76.59 709.4h.8M77.85 716.23h.8M67.81 717.41h.8M67.67 716.49h.8M69.86 714.51h.8M76.81 717.91h.8M76.63 711.72h.8M72.97 714.43h.8M75.73 717.28h.8M79.31 718.84h.8M80.93 714.3h.8M76.7 716.21h.8M81.24 707.85h.8M79.24 712.01h.8M78.82 716.95h.8M66.59 713.07h.8M82.52 706.15h.8M78.29 713.61h.8M73.99 717.39h.8M82.1 713.66h.8M84.77 719.8h.8M78.19 717.15h.8M81.86 720.94h.8M81.5 716.51h.8M77.76 716.68h.8M85.7 713.27h.8M76.56 709.49h.8M107.4 711.82h.8M89.16 711.02h.8M99.18 715.24h.8M80.08 714.28h.8M103.06 713.41h.8M92.85 726.77h.8M90.73 712.67h.8M95.96 724.71h.8M94.79 706.25h.8M91.32 712.65h.8M96.65 712h.8M93.01 707.82h.8M84.69 713.92h.8M101.93 709.22h.8M82.75 719.04h.8M94.52 717.3h.8M91.2 714.79h.8M91.68 713.68h.8M102.86 711.84h.8M89.88 713.71h.8M91.15 721.39h.8M91.28 715.47h.8M84.93 716.17h.8M96.09 716.69h.8M82.71 710.85h.8M76.57 721.31h.8M91.64 721.16h.8M103.71 718.38h.8M88.45 712.71h.8M96.93 704.75h.8M100.5 720.43h.8M97.44 712.4h.8M94.41 706.39h.8M86.58 711.64h.8M87.74 721.31h.8M94.95 702.64h.8M99.09 715.98h.8M90.84 710.4h.8M104.59 714.78h.8M93.82 706.37h.8M88.8 717.79h.8M93.02 711.62h.8M90.4 706.4h.8M77.57 716.13h.8M83.57 706.48h.8M94.11 717.93h.8M90.15 718.71h.8M92.48 699.32h.8M101.93 708.69h.8M101.64 712.36h.8M91.79 711.5h.8M86.19 716.43h.8M102.2 719.58h.8M88.88 715.96h.8M98.48 716.31h.8M84.44 723.07h.8M87.77 709.86h.8M93.04 714.72h.8M88.87 707.64h.8M84.88 713.67h.8M80.95 718.83h.8M96.09 714.64h.8M93.43 709.65h.8M88.86 717.76h.8M89.11 720.94h.8M98.3 716.81h.8M90.78 709.39h.8M91.28 709.23h.8M90 712.01h.8M88.83 718.88h.8M86.88 710.19h.8M99.27 714.83h.8M95.17 710.76h.8M94.17 719.69h.8M92.31 715.62h.8M99.5 716.4h.8M99.6 708.16h.8M81.66 708.49h.8M94.75 710.54h.8M80.12 721.94h.8M100.03 711.17h.8M88.24 710.43h.8M96.52 715.72h.8M93.02 719.96h.8M87.26 708.13h.8M92.19 713.41h.8M92.75 715.53h.8M82.92 720.93h.8M81.47 715.16h.8M94.29 717.43h.8M93.51 709.85h.8M91 707.33h.8M91.19 712.57h.8M80.94 723.73h.8M88.56 716.12h.8M100.01 713.47h.8M89.71 708.51h.8M87.74 710.3h.8M91.23 717.27h.8M93.31 720.51h.8M94.55 714.7h.8M73.84 712.88h.8M93.75 706.79h.8M91.78 710.38h.8M90.87 713.44h.8M90.48 713.35h.8M94.28 715.05h.8M88.15 717.81h.8M92.48 715.31h.8M102.61 721.29h.8M105.22 712.54h.8M94.63 715.84h.8M92.77 712.94h.8M97.16 718.85h.8M105.33 711.17h.8M94.93 710.17h.8M90.55 702.75h.8M104.88 706.3h.8M92.8 705.44h.8M90.13 708.89h.8M79.6 708.8h.8M90.77 713.04h.8M80.51 716.52h.8M90.25 708.39h.8M101.23 710.39h.8M93.5 720.56h.8M92.47 713.11h.8M97.89 711.61h.8M92.55 712.91h.8M89.83 717.04h.8M93.78 720.1h.8M94.47 707.11h.8M94.49 712.29h.8M90.61 718.04h.8M94.61 706.24h.8M104.16 712.96h.8M82.34 712.07h.8M95.03 708.43h.8M86.95 705.36h.8M93.73 711.16h.8M101.24 714.85h.8M93.56 710.77h.8M97.98 707.27h.8M93.78 715.79h.8M87.41 708.12h.8M99.03 721.98h.8M94.44 722h.8M94.87 712.72h.8M89.7 707.96h.8M97.6 710.97h.8M88.28 715.26h.8M95.01 710.18h.8M93.35 712.85h.8M92.9 712.92h.8M89.57 702.4h.8M88.52 719.04h.8M90.11 714.37h.8M95.72 708.95h.8M92.52 712.32h.8M94.25 716.34h.8M92.53 712.59h.8M97.79 714.13h.8M83.21 719.32h.8M94.81 710.86h.8M91.72 709.18h.8M92.9 706.78h.8M98.11 715.71h.8M86.1 715.86h.8M83.36 711.1h.8M86.06 716.71h.8M96.23 707.35h.8M93.14 715.85h.8M90.01 724.7h.8M82.63 719.66h.8M101.07 711.93h.8M85.26 719.08h.8M77.19 713.36h.8M83.47 713.44h.8M88.62 707.55h.8M95.39 718.86h.8M83.84 716.53h.8M92.62 710.41h.8M88.84 716.08h.8M98.76 712.22h.8M77.24 717.18h.8M94.42 704.59h.8M88.88 713.45h.8M90.26 714.89h.8M86.68 716.46h.8M75.53 715.13h.8M88.46 712.94h.8M95.91 719.76h.8M85.87 713.03h.8M85.84 713.69h.8M88.48 707.96h.8M98.7 715.12h.8M91.99 719.58h.8M82.12 715.29h.8M101.63 711.83h.8M86.73 709.81h.8M99.36 718.36h.8M93.92 717.75h.8M87.93 711.68h.8M96.93 709.12h.8M93.26 713.33h.8M86.84 714.4h.8M84.27 710.48h.8M80.03 707.61h.8M86.62 715.11h.8M91.99 707.65h.8M90.4 723.81h.8M92.36 715.29h.8M79.19 711.11h.8M98.76 706.8h.8M86.49 709.97h.8M91.09 716.17h.8M81.37 716.55h.8M76.02 709.17h.8M94.32 708.02h.8M86.76 710.91h.8M101.47 708.7h.8M97.62 722.42h.8M89.49 709.6h.8M91.79 708.69h.8M89.54 708.38h.8M82.8 705.91h.8M97.3 710.16h.8M84.78 718.24h.8M90.66 711.72h.8M87.15 713.28h.8M89.83 711.27h.8M90.64 716.85h.8M90.53 719.33h.8M97.61 708.51h.8M85.85 707.3h.8M87.09 716.58h.8M89.63 710.95h.8M92.27 703.14h.8M93.61 712.35h.8M95.69 711.84h.8M97.69 718.15h.8M89.85 715.88h.8M86.21 709.92h.8M85.01 712.24h.8M84.27 708.16h.8M90.29 706.42h.8M95.16 708.92h.8M90.12 711.77h.8M97.74 715.98h.8M90.15 710.45h.8M96.8 712.54h.8M85.26 713.78h.8M95.41 713.02h.8M91.92 720.02h.8M88.43 716.71h.8M101.06 721.06h.8M84.63 715.65h.8M92.42 724.27h.8M99.3 717.89h.8M98.77 715.77h.8M85.3 723.56h.8M81.37 716.79h.8M96.33 714.12h.8M97.74 713.13h.8M96.52 714.35h.8M87.22 717.78h.8M88.23 716.15h.8M85.34 714.33h.8M94.96 718.57h.8M85.06 710.71h.8M91.59 708.46h.8M95.31 724.21h.8M95.77 716.14h.8M86.63 715.87h.8M94.9 722.36h.8M89.55 718.98h.8M89.55 711.96h.8M89.09 714.53h.8M82.63 711.54h.8M100.65 704.86h.8M97.03 716.83h.8M89.09 709.65h.8M98.58 711.66h.8M93.53 712.25h.8M84.91 718.07h.8M95.67 708.92h.8M98.38 707.47h.8M83.94 717.25h.8M89.08 713.27h.8M101.34 708.26h.8M95.42 711.39h.8M92.28 712.23h.8M86.91 713.5h.8M86.11 713.35h.8M85.91 711.98h.8M92.49 706.77h.8M91.31 716.51h.8M92.41 717.58h.8M85.67 715.98h.8M93.6 700.49h.8M91.65 717.34h.8M91.3 713.44h.8M90.9 712.54h.8M85.37 710.09h.8M78.41 722.94h.8M91.57 714.29h.8M95.48 715.62h.8M91.25 705.98h.8M84.45 721.07h.8M94.25 716.33h.8M85.32 711.05h.8M93.3 709.67h.8M98.92 709.73h.8M89.09 707.92h.8M93.84 719.25h.8M92.98 713.22h.8M89.51 716.96h.8M91.68 721.4h.8M90.08 711.52h.8M88.53 704.44h.8M93.08 713.86h.8M82.06 707.85h.8M85.23 711.8h.8M85.54 716.79h.8M98.9 710.25h.8M91.84 708.35h.8M99.64 708.24h.8M86.92 713.29h.8M86.8 725.65h.8M90.53 712.14h.8M85.72 712.87h.8M88.01 711.32h.8M97.69 710.52h.8M94.2 710.36h.8M97.74 709.75h.8M85.85 712.12h.8M99.21 711.4h.8M86.43 712.56h.8M87.41 714.46h.8M87.59 714.72h.8M97.06 715.54h.8M100.73 714.66h.8M102.77 719.11h.8M90.05 716.84h.8M87.26 712.33h.8M91.16 709.64h.8M93.54 712.86h.8M103.64 716.81h.8M90.23 710.17h.8M88.46 710.1h.8M87.2 713.31h.8M83.59 711.85h.8M94.62 710.59h.8M84.97 710.97h.8M96.82 709.76h.8M100.99 705.63h.8M86.87 716.06h.8M99.75 712.33h.8M81.79 711.97h.8M86.25 710.11h.8M89.45 710.5h.8M91.43 713.92h.8M89.95 705.07h.8M90.6 701.27h.8M92.1 711.31h.8M86.12 722.86h.8M101.61 719.4h.8M92.98 711.01h.8M94.45 720.72h.8M91.15 712.57h.8M88.19 712.95h.8M96.68 709.07h.8M98 713.88h.8M105.02 714.15h.8M99.25 708.74h.8M106.15 713.66h.8M91.24 720.15h.8M92.65 707.64h.8M95.36 715.8h.8M91.63 711.15h.8M82.08 720.98h.8M89.1 714.93h.8M88.74 710.05h.8M93.41 709.25h.8M97.33 705.94h.8M95.29 718.71h.8M89.11 714.29h.8M96.68 711.3h.8M90.38 712.45h.8M108.02 709.57h.8M90.72 711.27h.8M88.49 709.08h.8M87.85 714.04h.8M98.71 720.74h.8M84.11 708.86h.8M91.58 708.85h.8M87.15 712.3h.8M88.42 709.46h.8M93.06 709.77h.8M90.17 714.79h.8M96.05 714.28h.8M98.27 714.01h.8M82.99 720.04h.8M108.77 717.03h.8M101.35 718.37h.8M89.17 716.19h.8M87.68 710.74h.8M95.16 713.75h.8M87.88 706.88h.8M96.58 713.36h.8M92.66 709.32h.8M87.18 713.13h.8M80.7 718.87h.8M91.93 718.33h.8M97.52 710.76h.8M94.86 708.25h.8M86.38 719.45h.8M88.64 709.81h.8M94.63 713.47h.8M97.62 707.55h.8M81.32 708.32h.8M84.97 713.9h.8M72.49 703.7h.8M67.11 722.28h.8M79.86 708.21h.8M86.89 708.01h.8M96.51 721.84h.8M85.15 711.81h.8M61.05 719.17h.8M110.84 717.16h.8M77.67 721.35h.8M79.63 707.33h.8M83.22 719.96h.8M61.02 723.02h.8M105.67 715.64h.8M78.41 705.93h.8M91.6 713.87h.8M100.36 726.65h.8M100.69 717.05h.8M61.16 724.98h.8M78.43 712.47h.8M98.51 719.12h.8M71.18 713.49h.8M80.95 714.78h.8M69.46 726.18h.8M82.96 720.39h.8M98.33 730.89h.8M94.03 710.78h.8M79.03 721.89h.8M106.03 705.69h.8M109.47 711.93h.8M82.24 712.84h.8M92.35 714.49h.8M84.17 709.44h.8M103.54 718.34h.8M84.17 730.64h.8M93.14 725.42h.8M81.26 716.85h.8M82.78 721.9h.8M88.48 704.12h.8M92.19 714.34h.8M88.03 722.57h.8M81.22 720.3h.8M85.02 715.26h.8M78.24 715.14h.8M80.81 721.36h.8M55.1 719.87h.8M83.81 708.61h.8M94.92 715.66h.8M91.99 725.22h.8M87.62 704.86h.8M64.2 715.5h.8M69.27 730.79h.8M83.6 703.45h.8M56.82 712.12h.8M53.65 719.27h.8M55.07 721.98h.8M78.54 723.68h.8M69.74 712.72h.8M98.95 704.69h.8M93.45 725.96h.8M71.94 714.85h.8M106.27 726.21h.8M105.82 715.22h.8M80.13 714.74h.8M79.99 721.64h.8M95.79 719.51h.8M76.03 721.37h.8M91.28 717.56h.8M100.77 713.33h.8M86.53 723.6h.8M75.23 722.12h.8M94.49 726.37h.8M101.69 711.97h.8M108.11 712.77h.8M69.63 714.03h.8M80.48 709.76h.8M97.65 719.54h.8M92.95 706.42h.8M108.56 719.25h.8M100.04 718.46h.8M89.84 721.31h.8M87.14 725.61h.8M78.42 701.9h.8M80.42 715.91h.8M90.33 716.7h.8M90.61 719.14h.8M82.88 719.83h.8M92.25 710.67h.8M62.41 717.58h.8M91.48 723.48h.8M99.47 718.06h.8M100.14 712.05h.8M79.06 725.39h.8M69.74 715.9h.8M71.58 707.66h.8M112.55 703.8h.8M108.01 712.93h.8M75.43 704.55h.8M87.97 720.36h.8M92.66 709.75h.8M106.31 717.49h.8M91.9 720.17h.8M92.42 713.84h.8M89.75 711.11h.8M88.46 709.4h.8M66.76 711.96h.8M83.22 711.32h.8M81.27 712.29h.8M85.75 728.14h.8M92.71 721.93h.8M97.96 722.07h.8M90.56 721.91h.8M98.99 714.99h.8M81.67 715.99h.8M84.51 719.3h.8M79.51 713.23h.8M88.2 719.49h.8M83.88 705.84h.8M82.05 721.87h.8M82.31 724.7h.8M78.72 714.42h.8M95.41 724.07h.8M81.41 726.18h.8M87.66 718.84h.8M108.22 721.87h.8M82.49 715.68h.8M73.64 723.77h.8M89.79 728.96h.8M100.87 716.27h.8M77.5 713.95h.8M101.29 715.29h.8M99.85 724.6h.8M104.37 717.87h.8M94.43 707.4h.8M89.68 716.37h.8M97.16 704.12h.8M81.33 731.95h.8M87.4 712.93h.8M86.62 715.23h.8M80.98 720.28h.8M88.79 723.98h.8M117.36 721.17h.8M89.86 726.27h.8M67.68 728.55h.8M70.87 712.96h.8M86.1 707.02h.8M77.36 717.32h.8M90.62 706.63h.8M47.21 720.73h.8M64.15 718.56h.8M91.34 721.66h.8M78.15 712.03h.8M72.32 707.18h.8M82.03 727.93h.8M94.23 710.04h.8M67.63 711.92h.8M85.02 718.15h.8M91.56 723.78h.8M68.3 705.56h.8M84.12 720.22h.8M78.2 718.03h.8M84.16 724.1h.8M82.56 712.97h.8M91.76 723.01h.8M76.98 715.43h.8M76.03 708.37h.8M116.39 712h.8M81.11 713.83h.8M74.76 715.23h.8M84.07 718.73h.8M78.13 706.46h.8M83.54 721.01h.8M101.47 715.58h.8M81.82 711.03h.8M104.36 712.05h.8M78.68 715.81h.8M82.31 716.61h.8M90.62 727.83h.8M91.75 719.05h.8M66.48 731.39h.8M91.9 722.24h.8M81.11 715.57h.8M80.43 714.97h.8M80.14 721.59h.8M98.95 715.86h.8M81.47 721.96h.8M82.61 719.96h.8M76.97 725.83h.8M79.36 720.04h.8M107.22 718.94h.8M81.92 721.31h.8M104.81 700.93h.8M80.32 715.17h.8M96.35 705.82h.8M95.65 716.63h.8M92.52 709.15h.8M101.76 734.15h.8M86.93 720.29h.8M71.91 696.64h.8M84.31 714.65h.8M93.96 716.62h.8M68.25 700.76h.8M99.45 722.9h.8M83.56 714.47h.8M94.23 712.52h.8M68.77 724.81h.8M67.43 713.36h.8M101.96 719.47h.8M99.34 726.52h.8M87.85 705.99h.8M63.19 700.86h.8M94.85 706.24h.8M83.68 716.86h.8M89.73 716h.8M101.84 718.52h.8M99.1 715.63h.8M85.65 717.33h.8M91.52 721.64h.8M79.01 720.51h.8M121.07 697.49h.8M93.51 715.37h.8M82.46 712.04h.8M70.12 717.94h.8M75.93 727.24h.8M89.44 728.38h.8M86.84 706.19h.8M90.87 717.64h.8M96.35 699.42h.8M86.27 726.35h.8M86.3 701.9h.8M90.78 719.58h.8M103.45 720.14h.8M72.36 724.43h.8M94.46 724.59h.8M83.02 723.44h.8M58.1 706.78h.8M93.17 727.42h.8M92.71 717.36h.8M83.22 713.25h.8M99.74 703.67h.8M88.89 726.76h.8M63.73 700.45h.8M72.55 716.19h.8M92.39 712.18h.8M95.55 712.56h.8M64.38 723.32h.8M85.35 711.54h.8M63.92 698.4h.8M71.55 721.25h.8M73.45 706.73h.8M75.17 720.35h.8M93.07 724.8h.8M73.98 726.78h.8M106.11 719.23h.8M98.99 727.92h.8M90.39 710.11h.8M92.26 718.81h.8M94.47 734.74h.8M79.68 740.47h.8M106.11 746.52h.8M51.23 752.86h.8M100.75 709.76h.8M116.34 788.38h.8M54.02 751.31h.8M87.46 758.21h.8M84.97 761.45h.8M61.66 740.34h.8M76.72 755.57h.8M121.87 765.38h.8M55.64 754.1h.8M116.41 748.07h.8M95.47 749.89h.8M53.84 747.12h.8M69.9 717.58h.8M75.56 737.19h.8M73.28 761.97h.8M55.23 747.67h.8M86.99 752.24h.8M84.86 747.75h.8M43.86 699.76h.8M65.85 736.9h.8M58.27 728.5h.8M69.78 783.86h.8M76.48 763.74h.8M93.71 749.62h.8M100.22 733.25h.8M74.65 719.69h.8M76.01 765.49h.8M59.14 743.92h.8M73.07 744.53h.8M69.71 752.08h.8M51.2 748.65h.8M115.85 721.31h.8M96.71 730.18h.8M66.12 785.98h.8M93.76 759.63h.8M115.27 760.24h.8M76.47 694.78h.8M94.42 783.52h.8M69.03 718.9h.8M40.67 758.83h.8M96.78 735.48h.8M55.37 739.39h.8M113.13 719.94h.8M60.91 757.31h.8M64.67 774.65h.8M62.44 718.61h.8M45.46 740.65h.8M103.08 745.96h.8M65.63 711.64h.8M84.24 730.56h.8M48.35 716.98h.8M82.65 758.41h.8M83.52 771.61h.8M94.01 732.31h.8M115.88 728.14h.8M83.17 746.48h.8M103.9 744.66h.8M85.88 701.97h.8M76.72 748.63h.8M112.08 707.14h.8M51.91 764.13h.8M31.55 705.92h.8M70.17 725.76h.8M89.35 768.88h.8M95.93 724.55h.8M62.96 741.22h.8M87.78 757.95h.8M69.7 768.43h.8M94.36 738.76h.8M82.92 780.81h.8M92.92 738.87h.8M71.15 766.71h.8M87.01 748.62h.8M62.33 739.74h.8M82.13 784.6h.8M49.84 748.25h.8M57.82 714.9h.8M105.54 768.39h.8M88.95 746.73h.8M77.56 756.58h.8M87.23 758.11h.8M92.76 709.26h.8M50.21 744.75h.8M77.59 715.59h.8M99.6 756.37h.8M85.26 768.73h.8M92.43 742.96h.8M65.2 771.08h.8M67.85 729.19h.8M57.59 760.86h.8M84.35 742h.8M99.66 727.14h.8M96.93 734.01h.8M75.2 741.13h.8M83.49 776.35h.8M65.27 768.33h.8M106.04 741.98h.8M64.2 720.23h.8M74.47 748.3h.8M57.7 755.31h.8M84.33 767.37h.8M60.07 742.64h.8M49.89 736.27h.8M47.26 770.68h.8M30.16 758.8h.8M81.47 711.38h.8M95.91 774.29h.8M117.96 739.81h.8M95.29 749.89h.8M110.53 745.4h.8M103.33 723.07h.8M63.83 721.43h.8M74.55 717.54h.8M81.89 732.8h.8M47.54 750.7h.8M103.69 756.82h.8M86.11 740.22h.8M74.51 710.13h.8M122.09 708.4h.8M58.71 722.44h.8M54.61 748.78h.8M61.97 733.08h.8M86.31 718.61h.8M53.71 755.53h.8M67.36 704.53h.8M91.73 713.28h.8M78.02 745.55h.8M84.7 751.35h.8M69.19 744.61h.8M41.57 751.17h.8M36.37 761.34h.8M61.9 764.56h.8M76.91 756.6h.8M68.01 739.69h.8M88.91 759.58h.8M81.34 760.98h.8M106.47 739.5h.8M69.08 731.02h.8" stroke="#444" stroke-width="0.8" stroke-opacity="0.5" fill="none"/>
<rect x="60.7" y="702.5" width="46.8" height="26.3" fill="none" stroke="#333" stroke-width="0.9"/>
<text x="117.6" y="744.3" font-size="9.9" font-weight="bold" text-anchor="end" fill="#141414" stroke="#141414" stroke-width="0.2">34.8</text>
<text x="152" y="685" font-size="10.1" font-weight="bold" text-anchor="start" fill="#141414" stroke="#141414" stroke-width="0.25">DNT Treated</text>
<rect x="148.8" y="691.3" width="98.7" height="98.2" fill="none" stroke="#dedede" stroke-width="0.6"/><line x1="148.8" y1="691.3" x2="148.8" y2="789.5" stroke="#bbb" stroke-width="0.6"/><line x1="148.8" y1="789.5" x2="247.5" y2="789.5" stroke="#bbb" stroke-width="0.6"/><line x1="147.8" y1="700.14" x2="149.6" y2="700.14" stroke="#555" stroke-width="0.8"/><line x1="148.2" y1="707.01" x2="149.2" y2="707.01" stroke="#888" stroke-width="0.5"/><line x1="148.2" y1="710.94" x2="149.2" y2="710.94" stroke="#888" stroke-width="0.5"/><line x1="148.2" y1="713.89" x2="149.2" y2="713.89" stroke="#888" stroke-width="0.5"/><line x1="147.8" y1="719.78" x2="149.6" y2="719.78" stroke="#555" stroke-width="0.8"/><line x1="148.2" y1="726.65" x2="149.2" y2="726.65" stroke="#888" stroke-width="0.5"/><line x1="148.2" y1="730.58" x2="149.2" y2="730.58" stroke="#888" stroke-width="0.5"/><line x1="148.2" y1="733.53" x2="149.2" y2="733.53" stroke="#888" stroke-width="0.5"/><line x1="147.8" y1="739.42" x2="149.6" y2="739.42" stroke="#555" stroke-width="0.8"/><line x1="148.2" y1="746.29" x2="149.2" y2="746.29" stroke="#888" stroke-width="0.5"/><line x1="148.2" y1="750.22" x2="149.2" y2="750.22" stroke="#888" stroke-width="0.5"/><line x1="148.2" y1="753.17" x2="149.2" y2="753.17" stroke="#888" stroke-width="0.5"/><line x1="147.8" y1="759.06" x2="149.6" y2="759.06" stroke="#555" stroke-width="0.8"/><line x1="148.2" y1="765.93" x2="149.2" y2="765.93" stroke="#888" stroke-width="0.5"/><line x1="148.2" y1="769.86" x2="149.2" y2="769.86" stroke="#888" stroke-width="0.5"/><line x1="148.2" y1="772.81" x2="149.2" y2="772.81" stroke="#888" stroke-width="0.5"/><line x1="147.8" y1="778.7" x2="149.6" y2="778.7" stroke="#555" stroke-width="0.8"/><line x1="148.2" y1="785.57" x2="149.2" y2="785.57" stroke="#888" stroke-width="0.5"/><line x1="148.2" y1="789.5" x2="149.2" y2="789.5" stroke="#888" stroke-width="0.5"/><line x1="148.2" y1="792.45" x2="149.2" y2="792.45" stroke="#888" stroke-width="0.5"/><line x1="156.7" y1="788.5" x2="156.7" y2="790.7" stroke="#333" stroke-width="0.9"/><line x1="165.33" y1="789" x2="165.33" y2="790.2" stroke="#777" stroke-width="0.6"/><line x1="170.27" y1="789" x2="170.27" y2="790.2" stroke="#777" stroke-width="0.6"/><line x1="173.97" y1="789" x2="173.97" y2="790.2" stroke="#777" stroke-width="0.6"/><line x1="176.44" y1="789" x2="176.44" y2="790.2" stroke="#777" stroke-width="0.6"/><line x1="181.37" y1="788.5" x2="181.37" y2="790.7" stroke="#333" stroke-width="0.9"/><line x1="190.01" y1="789" x2="190.01" y2="790.2" stroke="#777" stroke-width="0.6"/><line x1="194.94" y1="789" x2="194.94" y2="790.2" stroke="#777" stroke-width="0.6"/><line x1="198.64" y1="789" x2="198.64" y2="790.2" stroke="#777" stroke-width="0.6"/><line x1="201.11" y1="789" x2="201.11" y2="790.2" stroke="#777" stroke-width="0.6"/><line x1="206.05" y1="788.5" x2="206.05" y2="790.7" stroke="#333" stroke-width="0.9"/><line x1="214.68" y1="789" x2="214.68" y2="790.2" stroke="#777" stroke-width="0.6"/><line x1="219.62" y1="789" x2="219.62" y2="790.2" stroke="#777" stroke-width="0.6"/><line x1="223.32" y1="789" x2="223.32" y2="790.2" stroke="#777" stroke-width="0.6"/><line x1="225.79" y1="789" x2="225.79" y2="790.2" stroke="#777" stroke-width="0.6"/><line x1="230.72" y1="788.5" x2="230.72" y2="790.7" stroke="#333" stroke-width="0.9"/><line x1="239.36" y1="789" x2="239.36" y2="790.2" stroke="#777" stroke-width="0.6"/><line x1="244.29" y1="789" x2="244.29" y2="790.2" stroke="#777" stroke-width="0.6"/><line x1="247.99" y1="789" x2="247.99" y2="790.2" stroke="#777" stroke-width="0.6"/><line x1="250.46" y1="789" x2="250.46" y2="790.2" stroke="#777" stroke-width="0.6"/><rect x="158.8" y="788.9" width="5" height="2" fill="#111" stroke="none" stroke-width="0"/>
<ellipse cx="171.3" cy="770" rx="13.5" ry="13.5" fill="#7c7c7c" fill-opacity="0.42" filter="url(#b2)"/>
<ellipse cx="207.5" cy="713.8" rx="10" ry="4.8" fill="#777" fill-opacity="0.35" filter="url(#b1)"/>
<ellipse cx="206" cy="714.5" rx="15" ry="7" fill="#999" fill-opacity="0.3" filter="url(#b2)"/>
<path d="M186.79 768.22h.8M187.53 770.29h.8M166.57 763.62h.8M162.36 771.46h.8M172.92 759.69h.8M184.65 777.99h.8M167.94 776.01h.8M169.45 764.34h.8M162.61 763.25h.8M182.95 781.14h.8M169.94 766.35h.8M182 762.18h.8M177.7 756.99h.8M175.75 778.11h.8M178.27 783.13h.8M183.12 765.95h.8M163.08 755.92h.8M160.44 768.57h.8M168.14 786.08h.8M176.48 775h.8M172.91 767.82h.8M175.14 781.37h.8M172.16 780.2h.8M184.62 772.14h.8M179.22 774.01h.8M182.35 778.21h.8M173.8 782.03h.8M183.45 772.57h.8M162.68 783.15h.8M174.41 778.43h.8M174.07 767h.8M159.83 770.68h.8M169.58 776.54h.8M168.47 770.02h.8M180.11 770.53h.8M165.27 775.82h.8M168.69 759.69h.8M161.48 761.99h.8M167.42 754.55h.8M158.56 764.84h.8M167.03 768.41h.8M177.36 759.64h.8M185.09 773.49h.8M155.24 769.86h.8M161.48 775.64h.8M183.91 760.32h.8M172.7 759.09h.8M158.45 775.93h.8M180.22 763.28h.8M167.65 758.19h.8M164.07 767.57h.8M169.64 778.17h.8M173.94 769.74h.8M172.74 777.3h.8M176.74 757.62h.8M169.37 775.03h.8M164.67 757.38h.8M162.51 759.17h.8M168.98 768.36h.8M175.61 755.22h.8M176.36 778.87h.8M187.52 768.32h.8M177.48 756.17h.8M179.8 782.89h.8M174.55 763.38h.8M183.97 762.19h.8M184.81 762.13h.8M176.97 773.74h.8M173.66 763.55h.8M162.82 781.96h.8M176.34 760.87h.8M159.55 777.18h.8M184.37 769.64h.8M166.68 776.63h.8M176.26 781.91h.8M169.84 762.36h.8M170.82 757.18h.8M160.55 764.73h.8M169.58 771.07h.8M158.25 766.84h.8M183.68 759.43h.8M167.34 764.71h.8M178.01 761.77h.8M186.91 766.34h.8M174.48 772.02h.8M184.22 774.13h.8M158.29 770.65h.8M165.54 781.33h.8M177.5 774.21h.8M170.49 762.15h.8M181.34 778.72h.8M187.17 768.32h.8M181.56 760.57h.8M177.81 770.32h.8M160.83 764.05h.8M172.8 767.54h.8M168.18 766.86h.8M171.46 765.07h.8M156.85 771.21h.8M185.96 768.62h.8M173.11 761.17h.8M163.49 760.71h.8M158.57 770.43h.8M161.75 773.45h.8M172.38 756.77h.8M186.99 767.53h.8M173.02 764.8h.8M159.67 769.74h.8M175.22 754.76h.8M171.85 771.6h.8M182.44 758.1h.8M164.57 780.88h.8M163.62 776.75h.8M162.36 759.59h.8M179.4 764.19h.8M160.23 770.39h.8M183.12 768.96h.8M185.43 761.99h.8M185.56 772.6h.8M180.18 777.52h.8M168.13 766.63h.8M159.21 763.5h.8M164.3 779.89h.8M166.18 773.91h.8M170.79 786h.8M163.38 760.8h.8M176.45 755.81h.8M171.7 759.56h.8M162.23 767.66h.8M185.88 776.25h.8M180.11 774.86h.8M176.79 762.63h.8M173.35 768.73h.8M177.8 778.92h.8M161.63 758.94h.8M183.18 760.95h.8M177.78 785.1h.8M182.1 773.23h.8M169.82 772.08h.8M176.07 785.74h.8M180.81 768.19h.8M185.48 769.99h.8M183.83 772.64h.8M173.73 778.35h.8M169.78 762.64h.8M170.55 771h.8M167.37 778.2h.8M175.19 773.37h.8M167.37 772.61h.8M179.01 766.73h.8M168.5 773.08h.8M174.03 763.36h.8M180.21 774.64h.8M184.78 761.74h.8M159 772.62h.8M185.35 776.96h.8M171.51 761.82h.8M174.84 764.43h.8M162.52 770.95h.8M163.77 766.6h.8M163.27 767.75h.8M176.83 770.55h.8M173.96 759.29h.8M157.94 768.96h.8M171.06 777.16h.8M159.32 777.82h.8M170.03 758.88h.8M164.79 764.81h.8M183.8 765.77h.8M174.62 760.54h.8M159.06 763.4h.8M157.2 767.1h.8M169.28 784.48h.8M166.38 780.78h.8M177.81 778.22h.8M173.47 768.12h.8M175.9 781.25h.8M163.81 758.56h.8M165.87 757.1h.8M166.13 766.11h.8M162.89 767.6h.8M183.04 770.41h.8M182.43 768.22h.8M172.14 757h.8M183.19 772.84h.8M184.61 769.03h.8M166.68 785h.8M163.56 756.07h.8M178.6 759.73h.8M159.53 772.42h.8M164.86 783.81h.8M182.72 781.79h.8M165.48 779.27h.8M164.17 764.19h.8M168.29 767.58h.8M174.95 766.09h.8M181.99 759.07h.8M174.57 756.09h.8M176.12 781.46h.8M184.49 775.39h.8M173.09 762.64h.8M166.65 771.75h.8M164.47 758.03h.8M183.31 774.75h.8M176.34 765.19h.8M178.51 765.27h.8M176.05 770.49h.8M171.61 762.77h.8M178.22 761.59h.8M184.23 777.42h.8M168.49 775.28h.8M180.36 770.22h.8M160.02 772.78h.8M167.22 767.67h.8M186.84 770.27h.8M158.8 776.38h.8M181.34 762.19h.8M170.86 762.26h.8M174.11 781.48h.8M187.5 768.59h.8M172.81 783.05h.8M168.85 779.58h.8M168.07 786.14h.8M162.94 777.51h.8M184.31 777.84h.8M184.21 777.69h.8M171.82 777.99h.8M180.77 772.56h.8M180.84 767.28h.8M164.29 782.38h.8M173.1 784.24h.8M186.23 766.82h.8M185.42 773.66h.8M174.88 755.74h.8M166.55 767.44h.8M165.71 758.74h.8M156.91 771.3h.8M175.46 779.22h.8M160.74 758.48h.8M186.81 769.08h.8M170.45 780.68h.8M160.24 768.26h.8M180.08 774.76h.8M180.48 765.75h.8M182.61 759.28h.8M155.57 768.58h.8M172.89 769.76h.8M157.73 761.31h.8M167.63 779.24h.8M180.26 782.64h.8M159.6 765.07h.8M158.48 761.06h.8M159.13 768.7h.8M162.26 773.12h.8M184.32 767.45h.8M166.36 770.17h.8M169.08 767.34h.8M163.84 771.35h.8M165.26 774.88h.8M173.04 780.77h.8M177.34 775.66h.8M170.31 764.83h.8M177.32 761.3h.8M174.72 784.09h.8M164.16 777.01h.8M178.27 770.04h.8M182.01 765.55h.8M159.67 775.03h.8M176.73 773.42h.8M179.79 760.02h.8M164.87 783.91h.8M168.48 780.66h.8M174.62 755.13h.8M168.18 786.05h.8M173.41 778.25h.8M158.98 768.9h.8M160.38 767.18h.8M172.83 761.87h.8M158.85 775.38h.8M177.74 764.72h.8M164.37 778.94h.8M169.98 781.74h.8M178.71 767.07h.8M178.88 756.41h.8M161.55 770.68h.8M180.32 778.26h.8M177.01 761.55h.8M170.84 785.01h.8M178.11 780.35h.8M172.52 758.28h.8M167.89 782.3h.8M164.32 781.55h.8M175.49 755.83h.8M172.16 764.26h.8M169.63 783.38h.8M161.07 758.23h.8M167.53 771.49h.8M174.56 771.63h.8M162.18 767.77h.8M186.6 773.66h.8M180.24 773.86h.8M173.42 756.52h.8M174.47 785.87h.8M157.15 774.87h.8M159.59 776.25h.8M175.16 768.9h.8M159.75 764.77h.8M183.83 767.4h.8M170.85 776.12h.8M164.97 767.78h.8M161.74 783.03h.8M174.37 776.81h.8M165.63 759.75h.8M179.22 764.86h.8M171.85 759.39h.8M187.1 769.43h.8M174.77 779.44h.8M160.13 771.83h.8M159.79 762.54h.8M179.16 780.72h.8M176.01 760.53h.8M170.29 778.23h.8M166.83 766.42h.8M173.48 778.79h.8M165.96 756.82h.8M165.18 768.28h.8M168.84 773.23h.8M182.5 769.76h.8M175.6 763.03h.8M170.28 776.17h.8M160.89 778.85h.8M162.41 767.01h.8M177.26 776.22h.8M172.15 763.12h.8M186.38 769.21h.8M171.73 770.76h.8M172.84 766.95h.8M165.63 759.77h.8M160.58 776.59h.8M185.51 771.56h.8M173.03 767.31h.8M168.3 784.82h.8M173.37 775.92h.8M176.83 754.54h.8M178.55 769.46h.8M172.43 771.24h.8M178.26 776.4h.8M185.2 766.45h.8M175.68 779.43h.8M165.05 768.02h.8M178.04 772.56h.8M170.32 773.04h.8M187.37 767.42h.8M160.6 771.89h.8M157.08 765.01h.8M157.91 778.43h.8M179.67 767.67h.8M157.08 762.38h.8M165.82 785.49h.8M157.78 769.94h.8M179.86 775.86h.8M167.16 763.78h.8M181.51 768.08h.8M158.02 764.04h.8M166 782.77h.8M169.73 755.55h.8M167.32 778.75h.8M161.74 764.49h.8M159.07 772.13h.8M171.63 763.77h.8M172.68 775.7h.8M163.86 769.14h.8M178.08 766.83h.8M157.62 774.68h.8M170.34 774.56h.8M172.93 783.76h.8M161.93 783.02h.8M176.39 777.53h.8M161.77 770.33h.8M169.8 775.09h.8M157.03 769.5h.8M160.15 781.98h.8M164.15 763.11h.8M165.51 776.49h.8M180.67 776.38h.8M156.92 766.85h.8M173.82 771.35h.8M179.59 764.57h.8M168.86 754.74h.8M169.98 776.83h.8M173.03 761.09h.8M170.79 769.99h.8M161.8 764.55h.8M173.13 777.01h.8M185.31 763.05h.8M167.84 778.63h.8M166.15 778.21h.8M159.28 780.82h.8M181.19 771.03h.8M159 766.13h.8M164.3 782.14h.8M165.54 772.78h.8M177.67 766.01h.8M166.79 754.74h.8M178.25 782.55h.8M173.01 760.44h.8M176.61 766.92h.8M155.09 768.08h.8M156.05 767.56h.8M160.48 777.7h.8M157.45 771.24h.8M169.96 756.08h.8M171.76 762.39h.8M162.87 757.95h.8M171.14 763.04h.8M169.4 769.39h.8M184.36 767.59h.8M171.65 782.8h.8M166.57 781.37h.8M174.79 755.12h.8M184.61 768.5h.8M159.79 767.2h.8M173.05 772.46h.8M183.79 759.55h.8M174.74 763.71h.8M166.17 764.82h.8M164.84 783.17h.8M172.96 769.24h.8M173.85 756.33h.8M169.27 764h.8M162.89 781.49h.8M173.25 776.52h.8M164.56 770.92h.8M170.77 776.51h.8M172.55 775.12h.8M163.12 775.02h.8M175.74 775.36h.8M167.69 772.51h.8M170.29 773.34h.8M170.9 764.25h.8M165.32 771.18h.8M164.61 755.16h.8M169.94 765.37h.8M173.56 776.31h.8M174.88 766.85h.8M172.47 755.57h.8M176.71 760.7h.8M162.79 774.83h.8M164.71 760.6h.8M168.31 759.5h.8M178.32 759.33h.8M169.94 780.63h.8M173.06 785.7h.8M181.3 773.04h.8M159.7 775.51h.8M182.07 778.17h.8M177.12 776.46h.8M169.58 774.14h.8M175.38 769.97h.8M182.5 762.18h.8M182.78 764.56h.8M160.78 766.74h.8M162.27 767.11h.8M176.92 781.3h.8M175.73 754.3h.8M182.04 762.98h.8M174.77 781.84h.8M179.29 783.04h.8M171.64 759.89h.8M164.4 783.95h.8M167.06 771.79h.8M166.02 760.68h.8M182.6 780.27h.8M173.1 776.99h.8M163.2 768.52h.8M165.78 779.6h.8M182.78 764.61h.8M157.61 776.23h.8M185.47 763h.8M185.92 772.35h.8M173.52 756.26h.8M169.39 756.75h.8M175.54 785.35h.8M173.52 762.22h.8M164.3 768.52h.8M172.5 783h.8M172.26 771.16h.8M161.73 761.28h.8M173.58 768.51h.8M169.18 775.31h.8M184.02 762.41h.8M177.82 779.27h.8M166.42 757.96h.8M159.25 771.31h.8M172.31 773.97h.8M177.76 779.83h.8M180.94 782.16h.8M170.81 771.81h.8M163.13 759.32h.8M170.88 758.99h.8M183 763.13h.8M184.76 764.06h.8M169.69 780.71h.8M174.84 782.63h.8M162.76 777.25h.8M166.66 775.15h.8M159.42 762.48h.8M167.84 774.81h.8M161.51 761.4h.8M156.98 765.48h.8M184.74 764.8h.8M158.29 760.7h.8M160.36 765.39h.8M173.85 779.01h.8M165.72 776.42h.8M170.24 776.99h.8M181.08 777.46h.8M157.69 775.79h.8M168.81 754.29h.8M175.93 767.08h.8M162.63 756.69h.8M176.62 773.04h.8M178.21 770.9h.8M185.92 764.92h.8M171.99 770.86h.8M183.31 779.56h.8M165.78 781.17h.8M164.5 778.27h.8M160.74 757.98h.8M181.12 774.23h.8M167.99 755.74h.8M165.2 763.74h.8M179.08 771.33h.8M156.79 764.25h.8M160.47 763.27h.8M160.69 779.58h.8M182.46 767.87h.8M163.82 760.59h.8M170.92 785.71h.8M180.84 774.84h.8M182.39 764.28h.8M165.5 774.8h.8M161.38 780.25h.8M165.87 758.19h.8M180.83 766.91h.8M168.51 782.71h.8M183.84 764.08h.8M180.68 758.27h.8M184.35 771.83h.8M171.65 783.61h.8M174.74 755.6h.8M174.95 779.38h.8M179.54 782.55h.8M167.84 758.16h.8M157.79 765.74h.8M164.59 772h.8M185.21 765.87h.8M158.93 770.35h.8M173.43 777.69h.8M183.98 774.47h.8M174.56 762.21h.8M175.01 780.19h.8M168.28 784.03h.8M171.45 778.4h.8M158.65 778.6h.8M169.98 764.53h.8M173.69 772.89h.8M164.79 758.35h.8M175.7 777.58h.8M173.48 767.06h.8M169.57 755.08h.8M166.02 762.33h.8M170.28 754.19h.8M159.14 765.37h.8M158.49 760.58h.8M184.57 767.8h.8M165.51 770.43h.8M160.6 770.83h.8M166.38 759.61h.8M171.69 777.36h.8M171.24 757.53h.8M172.2 762.81h.8M165.99 771.88h.8M175.84 778.63h.8M168.82 785.92h.8M180.61 777.28h.8M184.26 778.55h.8M183.46 779.24h.8M167.34 779.05h.8M181.95 777.55h.8M183.42 775.91h.8M162.83 768.22h.8M163.11 758.78h.8M185.76 776.28h.8M181.75 759.6h.8M179.87 765.53h.8M178.77 777.85h.8M183.1 763.24h.8M182.36 779.05h.8M175.29 759.54h.8M162.13 757.62h.8M158.29 776.75h.8M158.07 763.76h.8M174.94 764.81h.8M176.06 781.71h.8M166.13 777.36h.8M182.29 770.02h.8M181.85 769.86h.8M173.49 779.83h.8M169.14 768.42h.8M177.06 780.48h.8M162.25 780.36h.8M174.14 773h.8M183.48 762.52h.8M163.36 759.95h.8M173.56 775.96h.8M158.47 774.63h.8M159.95 772.72h.8M185.4 777.7h.8M171.99 780.27h.8M176.75 754.9h.8M163.83 778.18h.8M177.45 760.24h.8M176.94 775.21h.8M170.83 770.76h.8M185.68 776.05h.8M178.85 757.02h.8M168.08 779.19h.8M174.79 768.58h.8M162.22 774.07h.8M170.75 756.35h.8M187.51 769.4h.8M158.93 760.16h.8M165.18 765.68h.8M162.76 769.55h.8M183.74 762.03h.8M181.95 777.96h.8M162.36 758.6h.8M178.94 780.01h.8M179.64 776.83h.8M164.96 777.53h.8M161.37 776.44h.8M180.48 777.7h.8M183.6 776.28h.8M182.49 772.57h.8M185.89 770.33h.8M184.63 764.98h.8M160.51 773.08h.8M171.45 765.43h.8M164.27 779.02h.8M176.49 779.89h.8M167.65 774.96h.8M162.06 764.23h.8M179.8 778.56h.8M173.19 782.3h.8M165.43 782.69h.8M170.6 769.5h.8M163.9 782.32h.8M163.77 782.37h.8M181.56 757.89h.8M171.41 759.23h.8M166.5 770.61h.8M168.98 778.12h.8M175.63 756.04h.8M161.47 759.46h.8M159.35 775.59h.8M170.09 771.53h.8M156 767.79h.8M155.63 770.25h.8M165.01 775.44h.8M177.15 779.1h.8M169.29 775.09h.8M165.11 784.87h.8M173.32 759.49h.8M172.41 781.57h.8M164.84 781.26h.8M168.81 782.77h.8M172.22 761.31h.8M173.52 782.23h.8M157.41 763.15h.8M175.61 759.65h.8M156.67 770.56h.8M166.2 767.39h.8M167.17 773.8h.8M164.29 757.22h.8M168.77 767.09h.8M169.49 771.22h.8M165.47 756.93h.8M175.55 783.29h.8M177.28 771.92h.8M178.17 766.59h.8M161.83 757.17h.8M172.45 758.92h.8M161.88 774.55h.8M179.53 782.08h.8M157 768.18h.8M163.35 771.04h.8M171 775.67h.8M169.07 758.54h.8M159.05 780.75h.8M164.82 777.4h.8M172.8 778.57h.8M171.42 781.8h.8M161.4 775.47h.8M176.3 761.6h.8M162.06 762.66h.8M183.35 765.87h.8M180.29 765.82h.8M173.92 777.05h.8M173.64 764.94h.8M167.48 784.7h.8M184.08 775.31h.8M165.21 774.85h.8M185.72 764.9h.8M172.69 775.84h.8M167.1 768.49h.8M180.2 766.85h.8M169.73 773.55h.8M158.98 770.91h.8M180.95 779.88h.8M156.4 768.74h.8M184.78 762.55h.8M162.29 773.64h.8M164.45 762h.8M163.42 772.28h.8M174.44 774.26h.8M160.81 758.24h.8M179.76 769.04h.8M172.65 774.65h.8M183.12 779.16h.8M165.61 778.24h.8M175.91 783.02h.8M177.11 785.03h.8M187.01 772.32h.8M162.03 775.9h.8M163.25 769.94h.8M181.58 764.03h.8M156.49 765.74h.8M163.28 757.2h.8M177.93 776.13h.8M174.06 781.48h.8M170.15 785.59h.8M173.9 779.96h.8M163.61 775.24h.8M168.36 758.8h.8M174.09 760.61h.8M179.08 757.09h.8M158.2 779.14h.8M178.32 766.57h.8M156.68 765.15h.8M173.35 785.24h.8M166.4 784.12h.8M159.8 781.17h.8M178.58 762.91h.8M184.24 771.02h.8M163.1 766.36h.8M180.52 764.61h.8M163.6 768.58h.8M169.87 758.01h.8M181.02 782.7h.8M170.24 776.01h.8M169.48 759.46h.8M174.98 759.88h.8M158.11 765.33h.8M176 765.25h.8M180.02 777.4h.8M179.68 782.09h.8M165.98 778.29h.8M178.72 774.41h.8M165.78 776.46h.8M173.41 778.5h.8M170.36 764.3h.8M158.01 769.59h.8M186.09 772.04h.8M171.69 761.85h.8M175.45 771.6h.8M173.68 767.59h.8M161.46 762.09h.8M165.27 760.74h.8M160.59 773.41h.8M171.53 764.77h.8M169.94 781.51h.8M160.17 776.52h.8M158.62 780.13h.8M174.84 785.44h.8M186.1 771.57h.8M178.39 775.32h.8M157.29 777.17h.8M179.23 778.7h.8M174.22 758.85h.8M168.45 753.76h.8M173.98 762.19h.8M165.72 780.88h.8M171.33 753.66h.8M179.7 758.08h.8M160.56 761.15h.8M181.5 759.33h.8M175.01 776.91h.8M157.8 778.96h.8M165.46 783.69h.8M167.46 783.34h.8M182.68 758.18h.8M159.82 764.47h.8M178.77 783.26h.8M172.7 775.69h.8M178.97 760.86h.8M164.3 771.72h.8M183.41 763.66h.8M178.09 762.25h.8M159.58 771.41h.8M173.23 771.26h.8M163.11 764.48h.8M179.18 757.93h.8M165.18 759.09h.8M171.99 782.57h.8M167.09 762.77h.8M167.05 770.94h.8M166.26 760.39h.8M174.07 783.63h.8M173.61 762.65h.8M183.9 770.57h.8M175.96 768.55h.8M175.46 757.85h.8M170.78 768.21h.8M168.58 772.08h.8M186.81 764.68h.8M168.3 757.64h.8M172.21 764.1h.8M181.51 769h.8M169.69 770.77h.8M185.18 777.72h.8M175.22 781.03h.8M169.16 756.07h.8M158.49 774.92h.8M175.07 763.58h.8M161.9 778.27h.8M166.9 758.37h.8M179.29 771.61h.8M161.71 781.99h.8M164.91 764.25h.8M163.09 766.35h.8M184.75 767.16h.8M178.8 762.91h.8M181.27 780.74h.8M177.71 783.82h.8M173.02 754.76h.8M159.4 764.2h.8M179.88 771.57h.8M174.32 772.84h.8M167.27 769.16h.8M164.78 770.22h.8M176.88 783.67h.8M184.37 768.91h.8M166.05 765.4h.8M157.45 777.1h.8M180.43 774.44h.8M171.65 777.79h.8M179.58 781.45h.8M162.64 783.9h.8M165.25 782.49h.8M161.77 780.91h.8M186.52 776.02h.8M171.49 784.19h.8M170.34 771.95h.8M165.62 768.59h.8M172.84 762.51h.8M182.82 773.72h.8M159.94 763.24h.8M170.46 766.39h.8M183.56 761.66h.8M171.28 768.73h.8M169.41 777.23h.8M177.63 764.22h.8M165.29 774.55h.8M170.62 764.3h.8M157.31 773.07h.8M166.23 775.99h.8M164.13 769.44h.8M169.19 755.27h.8M171.65 773.69h.8M170.08 771.25h.8M180.7 756.91h.8M161.34 763.42h.8M162.87 764.76h.8M158.78 766.76h.8M176.47 762.67h.8M177.93 778.78h.8M180.08 772.79h.8M156.07 769.03h.8M157.36 761.37h.8M174.87 754.02h.8M178.28 763.61h.8M177.21 782.45h.8M170.59 759.49h.8M176.99 758.03h.8M171.6 769.35h.8M179.54 756.91h.8M172.83 785.04h.8M170.01 785.15h.8M178.82 756.98h.8M177.32 774.1h.8M163.61 767.59h.8M159.51 781.05h.8M176.96 766.5h.8M178.49 782.67h.8M169.89 769.35h.8M178.14 768.26h.8M184.64 777.93h.8M173.71 765.36h.8M157.1 762.58h.8M187.02 769.6h.8M179.79 756.47h.8M160.1 778.24h.8M180.49 758.22h.8M158.92 761.32h.8M172.05 754.17h.8M184.14 761.46h.8M175.09 778.84h.8M170.27 770.04h.8M168.1 785.07h.8M182.72 768.22h.8M165.82 769.42h.8M155.79 766.33h.8M166.49 782.47h.8M175.82 759.83h.8M158.61 775.77h.8M175.53 778.62h.8M171.79 774.15h.8M171.91 785.03h.8M171.22 759.52h.8M180.2 777.77h.8M168.35 782.76h.8M177.45 762.22h.8M164.32 783.29h.8M179.84 759.24h.8M163.18 783.65h.8M186.41 776.39h.8M170.59 765.96h.8M178.44 782.88h.8M176.05 767.93h.8M160.09 759.62h.8M163.36 756.23h.8M176.3 765.18h.8M184.72 777.94h.8M171.64 785.44h.8M181.18 767.23h.8M172.08 762.47h.8M165.53 769.58h.8M166.95 765.55h.8M169.01 771.16h.8M184.12 768.21h.8M167.19 776.66h.8M173.73 758.7h.8M168.21 768.64h.8M163.83 778.44h.8M175.3 763.71h.8M182.83 773.69h.8M171.96 773.16h.8M180.19 777.2h.8M163.68 773.75h.8M170.25 766.46h.8M168.15 781.18h.8M171.89 786.21h.8M165.41 779.46h.8M182.62 766.35h.8M172.48 781.32h.8M186.32 769.16h.8M169.64 774.15h.8M179.35 765.91h.8M180.65 775.2h.8M172.15 759.98h.8M176.52 754.9h.8M164.02 756.32h.8M167.23 767.45h.8M167.62 762.52h.8M176.92 755.42h.8M157.76 772.94h.8M183.23 773.78h.8M162.81 756.66h.8M177.93 773.09h.8M172.19 757.12h.8M155.84 775.04h.8M185.19 776.63h.8M177.48 775.27h.8M169.25 766.87h.8M172.18 760.88h.8M174.95 757.75h.8M170.76 784.67h.8M184.08 762.79h.8M180.43 776.09h.8M181.38 774.54h.8M168.88 781.76h.8M180.89 759.48h.8M172.36 766.24h.8M160.7 770.99h.8M168.92 754.65h.8M186.61 770.72h.8M169.85 772.61h.8M162.47 761.77h.8M185.64 766.38h.8" stroke="#464646" stroke-width="0.8" stroke-opacity="0.44" fill="none"/>
<path d="M155.95 773.06h.8M179.67 763.1h.8M165.88 781.92h.8M179.71 758.55h.8M167.34 766.36h.8M169.69 757.94h.8M169.64 760.16h.8M178 771.64h.8M166.91 767.14h.8M167.08 778.22h.8M175.87 775.72h.8M152.42 776.2h.8M170.49 765.9h.8M158.6 780.34h.8M185.43 770h.8M169.94 763.3h.8M179.01 770.66h.8M165.02 781.73h.8M176.12 772.5h.8M170.84 767.48h.8M164.12 765.13h.8M166.58 777.92h.8M162.66 783.47h.8M181.37 764.06h.8M164.35 754.1h.8M179.16 776.38h.8M186.19 772.54h.8M175.13 766.99h.8M160.21 775.86h.8M168.35 769.39h.8M164.43 774.45h.8M156.09 758.57h.8M181.19 775.31h.8M162.66 772.12h.8M174.78 779.23h.8M181.23 779.12h.8M166.27 787.54h.8M171.56 776.2h.8M176.82 783.42h.8M181.06 754.72h.8M158.53 768.73h.8M164.4 778.75h.8M185.17 781.88h.8M162.12 774.67h.8M179.92 776.51h.8M178.81 773.79h.8M176.62 772.85h.8M167.93 769.96h.8M163.18 760.92h.8M172.13 761.81h.8M165.92 763.86h.8M161.12 745.37h.8M177.22 782.26h.8M173.29 763.5h.8M181.55 773.32h.8M158.96 769.19h.8M171.86 761.91h.8M176.22 756.67h.8M171.51 776.53h.8M154.3 775.21h.8M179.14 762.16h.8M160.95 768.1h.8M171.27 768.09h.8M168.48 759.53h.8M154.98 763.19h.8M179.69 776.76h.8M177.74 767.97h.8M165.9 765.16h.8M172.75 757.23h.8M174.46 773.78h.8M165.72 778h.8M177.64 749.42h.8M167.6 768.73h.8M150.38 775.51h.8M179.87 774.58h.8M169.96 782.91h.8M171.95 772.65h.8M175.57 780.11h.8M156.03 778.2h.8M174.34 782.7h.8M173.14 769.09h.8M165.17 770.34h.8M166.06 774.58h.8M171.66 763.07h.8M177.39 769.35h.8M167.74 782.34h.8M175.24 773.89h.8M164.6 781.47h.8M176.5 759.17h.8M168.68 781.29h.8M179.88 769.04h.8M173.21 771.65h.8M150.3 776.42h.8M184.23 764.97h.8M172.28 778.71h.8M173.54 779.41h.8M171.6 767.76h.8M165.1 769.18h.8M159.64 759.21h.8M172.11 761.73h.8M172.51 769.09h.8M169.87 774.88h.8M167.11 760.54h.8M168.84 768.15h.8M183.21 779.07h.8M159.26 753.75h.8M160.22 774.94h.8M154.7 777.96h.8M168.35 780.05h.8M173.33 761.55h.8M167.54 771.66h.8M181.6 767.45h.8M165.99 770.99h.8M164.23 774.5h.8M174.62 777.87h.8M163.46 780.23h.8M196.65 782.6h.8M172.02 768.93h.8M157.25 774.15h.8M189.62 774.82h.8M174.64 769.33h.8M168.14 784.37h.8M171.56 769.22h.8M163.32 771.1h.8M172.94 766.74h.8M170.34 768.25h.8M163.31 763.63h.8M195.03 758.31h.8M177.44 757.48h.8M162.67 778.4h.8M158.13 776.79h.8M184.35 768.01h.8M178.15 779.1h.8M152.48 766.2h.8M167.39 778.16h.8M167.12 758.48h.8M159.1 770.49h.8M171.82 773.87h.8M161.12 774.32h.8M170.12 761.02h.8M176.47 766.64h.8M176.34 763.5h.8M186.52 775.11h.8M150.76 766.5h.8M168.91 771.04h.8M160.49 778.73h.8M172.64 783.12h.8M173.13 783.25h.8M185.38 771.03h.8M173.82 778.54h.8M175.45 769.17h.8M192.43 780.84h.8M175.75 759.23h.8M161.44 768.41h.8M161.05 756.96h.8M176.84 776.4h.8M166.02 769.9h.8M181.34 778.15h.8M187.74 768.35h.8M167.97 777.44h.8M187.96 768.73h.8M168.27 767.91h.8M181.49 780.96h.8M162.38 779.79h.8M178.31 781.74h.8M166.97 769.63h.8M176.02 774.92h.8M162.5 776.96h.8M176.8 768.07h.8M175.11 780.4h.8M171.46 770.9h.8M162.03 769.64h.8M165.06 761.25h.8M179.98 774.32h.8M174.29 771.95h.8M183.65 754.77h.8M185.38 766.05h.8M163.23 763.05h.8M163.51 768.84h.8M178.3 762.79h.8M178.59 765.59h.8M171.33 782.84h.8M168.34 760.04h.8M172.01 773.7h.8M168.02 766.44h.8M176.97 761.78h.8M170.11 762.95h.8M176.88 766.32h.8M174.57 769.82h.8M170.67 762.44h.8M182.66 765.41h.8M170.16 758.74h.8M172.04 762.69h.8M161.72 779.19h.8M178.2 772.73h.8M173.13 775.29h.8M171.26 772.04h.8M162.49 766.72h.8M169.88 747.16h.8M160.51 762.44h.8M189.55 755.9h.8M154.47 776.3h.8M162.36 774.48h.8M170.89 784.85h.8M171.22 777.84h.8M169.75 770.56h.8M171.47 769.64h.8M184.11 784.29h.8M171.58 768.15h.8M173.04 779.12h.8M177.83 770.78h.8M184.5 774.48h.8M174.31 782.26h.8M186.32 771.1h.8M174.16 768.51h.8M188.88 766.96h.8M167.57 779.65h.8M176.99 770.19h.8M179.04 772.9h.8M171.29 773.41h.8M176.61 772.22h.8M175.85 771.74h.8M176.26 761.93h.8M186.69 779.43h.8M174.32 775.65h.8M187.82 774.64h.8M160.08 773.83h.8M153.73 768.73h.8M184.5 760.65h.8M157.67 767.21h.8M175.03 787.56h.8M169.26 769.78h.8M170.11 774.39h.8M180.77 769.14h.8M163.68 766.17h.8M170.8 777.92h.8M180.81 765.74h.8M168.36 757.93h.8M175.58 767.56h.8M185.11 774.32h.8M181.88 784.66h.8M160.49 770.87h.8M169.48 781.31h.8M170.68 771.51h.8M153.46 766.01h.8M166.23 761.29h.8M172.94 767.7h.8M173.29 778.39h.8M175.17 770.55h.8M174.43 760.35h.8M168.06 765.26h.8M188.44 759.07h.8M168.14 775.09h.8M167.14 776.08h.8M161.15 779.16h.8M173.29 750.8h.8M158.76 758.95h.8M169.12 767.06h.8M174.38 775.85h.8M176.75 774.36h.8M164.1 757.02h.8M160.56 773.54h.8M162.69 759.39h.8M163.59 773.7h.8M159.53 768.41h.8M177.84 777.55h.8M156.08 769.86h.8M169.17 757.63h.8M165.79 769.95h.8M167.12 776.53h.8M167.83 770.52h.8M201.93 774.06h.8M178.89 770.39h.8M149.47 785.19h.8M167.27 776.24h.8M158.7 771.19h.8M181.08 760.32h.8M188.54 778.92h.8M174.83 767.69h.8M179.78 751.95h.8M182.58 752.48h.8M166.8 781.98h.8M174.32 753.26h.8M156.42 758.69h.8M166.58 762.53h.8M180.03 766.94h.8M187.05 782.14h.8M160.25 781.58h.8M183.17 759.73h.8M168.33 762.6h.8M162.3 769.56h.8M174.11 762.71h.8M156.86 775.75h.8M183.29 780.35h.8M158.52 765.5h.8M168.46 763.91h.8M180.89 761.95h.8M168.64 773.34h.8M171.96 772.31h.8M170.06 774.72h.8M174.21 770.56h.8M176.34 773.79h.8M177.68 774.36h.8M175.44 773.27h.8M163.67 765.74h.8M168.66 764.03h.8M167.05 764.05h.8M165.11 772.98h.8M198.19 787.33h.8M171.27 770.65h.8M169.02 767.96h.8M176.47 773.88h.8M173.86 778.31h.8M167.35 776.65h.8M172.83 761.31h.8M182.62 761.76h.8M178.46 763.64h.8M165.13 780.13h.8M174.96 769.97h.8M164.29 754.73h.8M166.92 768.51h.8M179.31 769.9h.8M180.31 765.18h.8M179.5 777.51h.8M169.14 777.43h.8M186.29 757.76h.8M159.6 763.99h.8M166.28 761.55h.8M172.66 757.77h.8M187.5 769.24h.8M173.18 768.38h.8M166.25 771.06h.8M170.1 773.29h.8M178.03 762.71h.8M155.52 764.1h.8M173.5 752.03h.8M175.35 770.94h.8M159.51 771.91h.8M179.63 769.2h.8M175.66 775.15h.8M181.82 780.58h.8M164.75 768.08h.8M171.66 761.17h.8M172.44 773.29h.8M174.21 753.32h.8M165.68 747.93h.8M172.21 769.79h.8M178.39 777.94h.8M162.94 769.14h.8M172.78 776.92h.8M181.67 768.38h.8M158.3 777.02h.8M169.49 753.96h.8M172.92 762.45h.8M171.65 780.62h.8M170.8 762.91h.8M175.11 767.47h.8M172.26 778.83h.8M173.41 774.29h.8M170.86 771.08h.8M162.18 763.25h.8M180.49 781.59h.8M161.66 775.96h.8M179.23 762.97h.8M177.59 775.12h.8M182.04 785.46h.8M171.57 773.45h.8M163.55 772.46h.8M171.69 768.13h.8M172.62 777.72h.8M179.71 776.78h.8M187.35 757.47h.8M170.16 769.31h.8M167.97 766.1h.8M159.09 767.21h.8M182.3 766.15h.8M171.21 773.81h.8M171.42 761.59h.8M166.96 780.39h.8M165.49 759.2h.8M188.39 771.3h.8M161.71 754.57h.8M164.85 758.51h.8M170.22 778.23h.8M178.45 766.83h.8M177.22 766.29h.8M164.35 761.59h.8M180.3 770.54h.8M179.2 778.53h.8M178.22 769.04h.8M189.78 761.23h.8M180.05 786.57h.8M169.98 764.72h.8M178.99 779.75h.8M176.55 764.47h.8M172.93 757.23h.8M181.12 780.07h.8M169.95 775.32h.8M168.98 770.63h.8M173.02 768.26h.8M197.57 767.42h.8M180.65 762.3h.8M174.01 769.79h.8M164.27 777.41h.8M178.49 781.68h.8M175.36 761.09h.8M178.89 772.75h.8M187.96 749.32h.8M170.18 771h.8M180.9 759.72h.8M181.56 772.7h.8M152.62 761.03h.8M164.09 774.12h.8M167.48 769.29h.8M164.83 774.39h.8M178.91 785.36h.8M158.46 763.6h.8M166.23 766.06h.8M170.27 775.66h.8M165.99 764.43h.8M182.74 782.17h.8M188.13 787.93h.8M164.94 781.88h.8M177.99 769.36h.8M177.15 764.42h.8M161.65 767.82h.8M158.09 766.53h.8M172.25 761.26h.8M165.01 752.74h.8M161.18 769.38h.8M165.72 771.3h.8M165.82 765.6h.8M156.84 784.88h.8M169.35 777.86h.8M164.61 759.75h.8M174.03 766.21h.8M170.89 775.58h.8M176.95 777.02h.8M173.3 753.12h.8M175.87 783.39h.8M175.04 779.15h.8M175.93 774.75h.8M176.93 756.83h.8M152.52 770.68h.8M177.08 774.85h.8M169.15 765.78h.8M162.31 773.09h.8M174.55 776.47h.8M170.51 781.24h.8M165.12 779.9h.8M164.46 782.65h.8M180.26 761.35h.8M176.39 761.33h.8M187.85 779.69h.8M172.44 773.35h.8M171.21 765.99h.8M161.81 769.38h.8M180.68 773.16h.8M181.83 779.16h.8M176.44 762.16h.8M162.92 766.74h.8M151.93 756.29h.8M172.37 782.07h.8M191.28 771.71h.8M180.22 773.28h.8M163.73 778.41h.8M171.28 775.68h.8M155 767.19h.8M180.42 768.21h.8M171.59 777.93h.8M184.8 782.35h.8M172.91 765.36h.8M180.26 764.43h.8M160.71 762.98h.8M171.25 763.78h.8M164.32 778.98h.8M161.46 759.47h.8M172.22 775.88h.8M166.99 761.56h.8M193.57 766.5h.8M195.74 763.74h.8M183.37 759.45h.8M186.53 775.19h.8M174.25 765.35h.8M186.21 782.46h.8M172.61 772.51h.8M166.13 776.55h.8M169.42 775.47h.8M154.61 774.65h.8M181.34 772.24h.8M186.48 763.89h.8M182.8 772.04h.8M173.09 774.88h.8M184.6 755.09h.8M172.89 769.96h.8M179.44 770.84h.8M168.28 773.06h.8M179.94 764.82h.8M174.03 769.75h.8M167.15 770.85h.8M190.2 766.63h.8M177.57 775.59h.8M183.21 767.91h.8M161.34 777.28h.8M154.23 773.17h.8M181.2 776.35h.8M173.17 768.85h.8M167.85 778.7h.8M157.43 760.16h.8M167.64 769.02h.8M176.82 768.35h.8M172.83 765.9h.8M181.82 778.15h.8M157.24 780.29h.8M175.26 771.57h.8M179.83 774.84h.8M173.95 774.66h.8M156.34 774.44h.8M173.59 761.19h.8M167.29 775.71h.8M168.18 761.9h.8M170.05 765.72h.8M173.2 781.17h.8M190.48 770.65h.8M176.5 761.9h.8M178.4 775.14h.8M166.52 776.93h.8M166.69 771.93h.8M174.63 771.35h.8M175.03 774.63h.8M166.93 772.53h.8M178.52 779.42h.8M164.65 767.07h.8M168.23 759.33h.8M176.05 787.29h.8M166.81 767.9h.8M168.5 770.03h.8M164.61 787.57h.8M163.05 776.64h.8M180.81 771.95h.8M185.02 755.78h.8M175.64 769.38h.8M174.23 763.88h.8M163.17 763.77h.8M172.35 775.84h.8M189.39 768.42h.8M157.18 778.72h.8M168.52 761.72h.8M178.26 754.17h.8M160.57 786.92h.8M167.38 774.92h.8M183.69 759.75h.8M173.34 780.82h.8M179.77 782.91h.8M194.38 788.6h.8M178.37 765.18h.8M179.69 764.78h.8M155.96 757.77h.8M172.36 770.15h.8M167.02 780.35h.8M170.8 764h.8M171.87 770.27h.8M177.42 770.17h.8M180.12 766.78h.8M170.76 775.7h.8M165.04 772.46h.8M173.62 779.63h.8M150.07 781.9h.8M168.94 771.26h.8M184.58 775.18h.8M159.41 767.92h.8M178.59 768.04h.8M175.3 778.35h.8M189.54 764.6h.8M157.69 764.06h.8M167.85 779.34h.8M174.24 781.81h.8M173.74 758.73h.8M175.47 764.81h.8M174.77 756.31h.8M178.85 761.49h.8M168.3 778.34h.8M169.85 762.67h.8M185.1 767.69h.8M180.68 769.82h.8M155.84 768.85h.8M175.38 769.24h.8M186.79 755.71h.8M165.42 776.19h.8M182.02 778.16h.8M159.03 774.82h.8M202.31 776.56h.8M181.21 779.72h.8M170.82 774.2h.8M177.55 772.48h.8M181.72 771.03h.8M164.41 784.13h.8M185.3 762.13h.8M180.65 760.63h.8M176.79 762.51h.8M163.89 775.81h.8M159.64 779.75h.8M194.62 767.95h.8M161.82 775.48h.8M169.07 753.07h.8M202.36 765.11h.8M197.86 781.27h.8M181.66 775.57h.8M167.81 778.26h.8M164.06 775.49h.8M160.22 771.29h.8M177.44 771.82h.8M176.54 776.99h.8M196.31 764.8h.8M175.19 770.97h.8M176.47 760h.8M182.53 762.63h.8M151.28 758.23h.8M172.3 754.58h.8M166.94 776.21h.8M199.96 768.9h.8M170.9 767.86h.8M151.17 768.91h.8M157.26 760.35h.8M161.99 758.49h.8M156.96 781.35h.8M182.46 767.09h.8M172.71 771.31h.8M179.14 775.49h.8M168.19 770.22h.8M186.22 761.14h.8M167.04 781.99h.8M200.87 763.77h.8M174.32 760.58h.8M173.55 768.59h.8M184.47 779.97h.8M178 771.59h.8M184.12 768.36h.8M189.88 787.95h.8M163.43 776.52h.8M175.7 762.13h.8M176.65 768.91h.8M178.54 772.45h.8M181.79 767.03h.8M172.11 781.42h.8M189.93 772.72h.8M180.84 758.17h.8M165.91 768.93h.8M182.31 788.03h.8M174.2 769.88h.8M186.35 786.27h.8M175.68 764.28h.8M157.29 780.81h.8M158.74 764.08h.8M180.52 763.94h.8M182.67 768.87h.8M164.5 781.5h.8M173.8 766.87h.8M192.93 759.25h.8M156.31 771h.8M171.57 748.62h.8M167.79 767.74h.8M159.82 773.08h.8M153.84 781.84h.8M160.69 751.56h.8M171.55 761.06h.8M163.62 760.67h.8M178.3 768.58h.8M177.6 773.33h.8M177.85 771.15h.8M155.14 778.48h.8M166.53 771.32h.8M173.75 772.13h.8M162.55 763.64h.8M159.03 766.96h.8M181.73 759.99h.8M152.11 771.3h.8M176.13 767.79h.8M164.08 779.21h.8M170.18 773.35h.8M156.3 785.09h.8M198.74 767.29h.8M177.61 764.26h.8M188.78 775.69h.8M174.99 769.45h.8M158.43 773.26h.8M176.8 749.11h.8M173.35 748.78h.8M193.12 772.07h.8M178.62 761.59h.8M197.06 775.1h.8M173.38 768.64h.8M160.29 766.28h.8M167.37 756.49h.8M187.02 752.14h.8M177.54 785.44h.8M175.31 774.76h.8M166.03 758.42h.8M196.09 753.47h.8M177.71 757.57h.8M179.45 778.11h.8M188 770.86h.8M172.37 766.89h.8M172.27 769.77h.8M183.23 768.33h.8M155.71 772h.8M206.19 755.28h.8M191.62 773.04h.8M186.5 778.55h.8M151.69 781.55h.8M167.36 752.93h.8M178.61 758.52h.8M169.43 774.12h.8M151.48 779.88h.8M182.47 771.91h.8M184.51 769.52h.8M192.8 765.5h.8M174.76 778.77h.8M178.51 752.43h.8M167.66 784.03h.8M164.75 753.12h.8M178 759.12h.8M189.33 762.99h.8M156.97 762.25h.8M175.86 771.25h.8M184.3 760.8h.8M165 774.75h.8M178.45 780.23h.8M151.16 772.56h.8M177.59 776.45h.8M167.52 773.23h.8M187.34 760.17h.8M149.34 758.45h.8M173.48 773.75h.8M173.63 772.1h.8M154.95 766.61h.8M185.14 757.64h.8M168.84 769.97h.8M184.03 762.37h.8M189.87 773.71h.8M175.36 767.65h.8M162.75 756.26h.8M182.04 770h.8M183 779.1h.8M159.56 771.67h.8M162.46 748.41h.8M185.06 771.45h.8M172.93 784.55h.8M156.03 783.86h.8M164.76 774.35h.8M172.62 760.43h.8M151.81 782.55h.8M165.81 774.78h.8M165.21 772.93h.8M169 769.38h.8M158.05 763.45h.8M176.84 766.24h.8M170.52 779.4h.8M171.59 758.16h.8M183.52 772.26h.8M177.85 772.08h.8M161.43 783.77h.8M154.93 771.28h.8M175.53 763.32h.8M177.73 776.57h.8M164.26 777.79h.8M172.84 777.88h.8M160.73 763.16h.8M165.26 764.49h.8M166.28 776.66h.8M176.55 761.56h.8M168.99 775.9h.8M161.02 766.21h.8M165.42 759.12h.8M157.48 761.36h.8M180.72 765.89h.8M176.73 763.81h.8M151.27 763.97h.8M183.19 771.35h.8M164.47 773.8h.8M171.36 764.15h.8M163.26 773.69h.8M165.72 752.14h.8M175.65 755.81h.8M167.67 782.01h.8M175.88 766.51h.8M150.27 776.49h.8M168.55 768.57h.8M152.58 785.7h.8M159.75 774.03h.8M193.96 775.71h.8M167.98 783.47h.8M183.58 751.17h.8M172.34 762.65h.8M189.39 788.75h.8M160.69 766.25h.8M159.97 776.81h.8M184.08 752.86h.8M149.83 777.76h.8M174.98 760.9h.8M177.3 783.54h.8M192.42 776.79h.8M163.19 780.28h.8M178.89 764.29h.8M192.29 787.03h.8M202.21 771.88h.8M167.27 768.19h.8M173.25 760.69h.8M182.27 775.68h.8M185.8 763.97h.8M167.69 768.39h.8M191.2 769.3h.8M175.72 765.57h.8M178.08 777.49h.8M172.18 766.02h.8M197.92 759.65h.8M162 778.96h.8M158.14 759.15h.8M178.1 781.28h.8M155.25 768.66h.8M151.25 786.97h.8M164.02 772.94h.8M166.72 773.14h.8M167.49 778.67h.8M186.28 766.4h.8M171.39 767.48h.8M180.15 782.98h.8M156.05 768.83h.8M200.17 755.12h.8M167.67 780.54h.8M183.38 768.56h.8M176.51 769.6h.8M166.17 786.34h.8M173.26 768.31h.8M172.25 772.51h.8M178.29 783.23h.8M171.9 775.95h.8M167.76 764.12h.8M198.58 765.65h.8M196.11 753.3h.8M195.86 757.41h.8M171.08 771.56h.8M172.29 770.55h.8M162.2 780.09h.8M167.93 758.25h.8M183.54 776.28h.8M162.93 755.37h.8M185.74 772.01h.8M169.65 762.72h.8M156.24 786.76h.8M177.65 761.82h.8M180.37 773.93h.8M174.12 750.21h.8M179.13 778.49h.8M157.03 776.66h.8M168.93 772.96h.8M157.75 779.57h.8M172.12 769.59h.8M191.09 731.33h.8M192.46 760.97h.8M194.17 742.3h.8M180.53 744.75h.8M188.01 739.26h.8M183.9 741.42h.8M194.15 743.28h.8M191.68 745.38h.8M166.69 768.45h.8M194.83 741.02h.8M188.51 752.99h.8M193.33 758.96h.8M175.61 744.05h.8M182.29 745.21h.8M191.43 746.97h.8M180.07 750.11h.8M197.2 744.41h.8M189.55 758.7h.8M196.86 737.57h.8M198.82 747.56h.8M180.16 735.82h.8M172.24 733.9h.8M188.64 752.42h.8M187.93 737.92h.8M185.86 735.75h.8M184.61 761.49h.8M189.28 730.72h.8M187.68 735.17h.8M178.92 733.25h.8M204.3 732.99h.8M181.39 740.86h.8M198.04 765.98h.8M193.7 747.34h.8M185.34 740.63h.8M200.63 735.2h.8M194.21 732.6h.8M187.41 740.75h.8M196.14 722.75h.8M174.81 742.6h.8M189.46 750.95h.8M175.73 753.12h.8M193.55 740.34h.8M200.64 736.46h.8M198.06 757.02h.8M187.37 744.79h.8M184.47 744.9h.8M192.7 737.69h.8M188.18 746.34h.8M177.34 743.41h.8M189.74 759.22h.8M192.75 739.18h.8M187.57 749.3h.8M179.64 747.71h.8M181.19 753.22h.8M197.8 734.17h.8M195.59 751.06h.8M177.7 739.04h.8M187.72 752.76h.8M182.5 754.98h.8M197.72 741.2h.8M186.01 745.27h.8M192.35 748.36h.8M175.98 736.68h.8M175.29 755.29h.8M196.43 741.01h.8M194.25 731.14h.8M188.53 747.97h.8M174.53 743.37h.8M178.2 752.99h.8M187.48 738.76h.8M179.2 753.42h.8M189.6 736.6h.8M183.39 734h.8M198.78 737.93h.8M203.87 738.67h.8M180.3 739.91h.8M187.28 750.61h.8M209.88 762.36h.8M194.21 727.81h.8M202 762.43h.8M175.54 740.31h.8M192.09 765.8h.8M197 744.61h.8M168.35 753.72h.8M177.53 736.54h.8M175.85 748.67h.8M205.98 745.26h.8M196.42 735.31h.8M177.61 746.04h.8M173.37 733.46h.8M189.25 731.92h.8M192.71 767.09h.8M195.99 757.56h.8M181.2 740.46h.8M188.04 748.08h.8M178.27 735.03h.8M197.48 749.61h.8M204.16 760.31h.8M192.09 735.64h.8M182.55 732.49h.8M196.27 753.63h.8M201.54 737.34h.8M199.61 736.77h.8M188.75 736.52h.8M192.46 744.62h.8M189.1 718.63h.8M192.27 752.83h.8M196.8 729.32h.8M170.21 756.79h.8M188.5 738.41h.8M198.82 710.79h.8M198.32 710.66h.8M211.52 706.12h.8M222.11 719.75h.8M192.99 714.89h.8M209.22 718.1h.8M181.35 719.76h.8M220.2 711.37h.8M204.25 718.24h.8M210.59 721.96h.8M197.57 708.19h.8M206.09 714.3h.8M203.41 716.78h.8M201.97 716.49h.8M197.94 721.4h.8M214.99 714.8h.8M200.82 712.41h.8M199.75 707.46h.8M199.34 719.35h.8M204.69 718.44h.8M209 711.78h.8M197.87 712.34h.8M207.99 710.51h.8M201.68 708.97h.8M219.41 706.92h.8M211.66 708.52h.8M204.41 722.18h.8M201.19 715.92h.8M198.15 722.06h.8M218.48 720.8h.8M201.15 706.73h.8M197 707h.8M217.43 715.09h.8M205.74 710.09h.8M211.16 712.59h.8M202.97 715.01h.8M198.6 707.12h.8M216.5 721.96h.8M190.98 716.3h.8M194.52 711.09h.8M204.19 718.15h.8M192.81 720.56h.8M207.32 721.5h.8M200.12 703.82h.8M213.98 708.94h.8M228.56 715.5h.8M216.3 708.96h.8M206.34 714.83h.8M191.7 707.45h.8M208.85 716.21h.8M203.26 722.99h.8M219.73 704.91h.8M202.12 708.43h.8M197.92 711.55h.8M190.52 715.4h.8M218.22 720.08h.8M192.82 715.07h.8M211.66 711.75h.8M222.39 716.92h.8M218.57 714.36h.8M212.83 717.47h.8M198.78 705.95h.8M207.72 709.18h.8M215.44 708.83h.8M211.53 707.8h.8M224.42 714.93h.8M196.99 713.78h.8M208.41 702.36h.8M197.6 715.37h.8M199.94 712.11h.8M219.82 719.47h.8M208.78 715.83h.8M221.2 715.57h.8M194.4 714.82h.8M196.55 710.13h.8M207.69 713.54h.8M206.45 717.34h.8M205.18 714.86h.8M213.57 711.5h.8M205.03 712.4h.8M197.36 709.97h.8M211.15 714.27h.8M194.67 717.12h.8M213.6 718.12h.8M217.92 714.4h.8M212.33 712.95h.8M198.46 713.4h.8M211.14 715.02h.8M201.83 710.56h.8M201.96 711.9h.8M204.65 716.23h.8M206.18 703.65h.8M213.56 711.64h.8M224.06 722.25h.8M215.87 712.8h.8M206.58 707.17h.8M219.75 711.64h.8M215.96 715.58h.8M223.6 714.7h.8M207.6 711.54h.8M192.95 715.87h.8M201.24 718.41h.8M217.72 715.12h.8M227.02 715.62h.8M214.53 710.45h.8M213.27 713.49h.8M219.85 713.58h.8M188.54 718.01h.8M217.23 708.29h.8M207.14 715.67h.8M214.27 709.54h.8M200.51 711.55h.8M203.24 711.09h.8M209.13 707.5h.8M210.83 709.37h.8M202.77 710.82h.8M214.19 714.59h.8M202.77 715.51h.8M198.64 714.85h.8M208.93 714.06h.8M196.33 715.47h.8M212.16 715.58h.8M203.36 718.51h.8M222.95 719.37h.8M209.83 721.54h.8M200.89 705.87h.8M200.01 710.76h.8M202.06 713.19h.8M210.06 712.41h.8M198.66 712.34h.8M211.47 709.29h.8M195.01 711.74h.8M204.38 728.96h.8M209.73 711.08h.8M204.55 710.91h.8M213.66 723.79h.8M211.19 711.22h.8M209.16 725.97h.8M199.74 710.89h.8M203.15 711.83h.8M187.37 709.07h.8M204.83 717.33h.8M198.73 708.62h.8M204.51 707.68h.8M190.97 713.95h.8M210.29 711.8h.8M210.99 716.16h.8M214.05 712.7h.8M211.74 711.21h.8M208.98 717.7h.8M222.02 715.75h.8M203.3 711.3h.8M197.47 717.38h.8M217.88 710.36h.8M203.58 713.07h.8M194.73 708.2h.8M211.86 710.74h.8M212.32 715.5h.8M219.2 710.75h.8M219.5 711.83h.8M207.6 719.7h.8M203.13 708.59h.8M213.3 712.35h.8M194.02 719.75h.8M201.53 717.4h.8M206.78 710.2h.8M208.28 707.51h.8M216.9 709.22h.8M207.83 724.89h.8M205.32 713.78h.8M195.97 720.9h.8M209.39 714.81h.8M195.03 711.97h.8M206.1 711.81h.8M201.72 703.69h.8M198.08 723.61h.8M210.43 717.65h.8M196.93 719.61h.8M203.02 712.17h.8M208.82 713.17h.8M212.84 708.89h.8M208.24 708.39h.8M227.35 706.71h.8M219.07 719.39h.8M205.38 713.06h.8M206.12 715.97h.8M212.22 715.88h.8M213.89 715.31h.8M199.9 716.61h.8M202.4 708.93h.8M210.42 712.8h.8M185.15 717.41h.8M207.43 715.82h.8M196.39 712.77h.8M202.04 713.45h.8M216.87 709.49h.8M204.06 712.02h.8M210.24 706.54h.8M212.87 711.02h.8M219.27 719.28h.8M204.63 710.9h.8M203.59 710.53h.8M215.5 722.64h.8M196.67 710.04h.8M208.52 714.78h.8M210.99 707.96h.8M214.12 712.21h.8M212.59 712.78h.8M195.39 717.88h.8M205.5 711.11h.8M195.67 711.9h.8M217.67 719.32h.8M213.32 711.18h.8M208.63 714.82h.8M202.28 712.08h.8M209.22 709.44h.8M205.11 708.67h.8M201.9 711.44h.8M210.6 716.34h.8M201.37 714.31h.8M219.79 703.81h.8M206.17 706.98h.8M217.79 715.96h.8M211.54 715.31h.8M193.33 719.14h.8M204.97 713.02h.8M194.7 714.08h.8M193.17 706.63h.8M227.37 712.65h.8M226.75 720.45h.8M218.36 704.64h.8M221.53 714.17h.8M202.44 723.38h.8M214.77 717.66h.8M198.26 712.35h.8M212.91 713.41h.8M190.83 714.59h.8M206.93 712.37h.8M210.12 711.4h.8M218.9 705.93h.8M201.14 716.32h.8M215.74 721.17h.8M216.15 708.32h.8M214.99 712.11h.8M219.37 718.28h.8M199.99 712.49h.8M208.92 708.28h.8M194.41 712.01h.8M213.68 720.27h.8M211.43 714.68h.8M203.88 720.02h.8M195.64 716.25h.8M216.6 720.21h.8M200.41 709.33h.8M204.2 717.42h.8M211.33 713.62h.8M215.23 713.64h.8M205.86 721.66h.8M204.24 715.21h.8M201.32 716.07h.8M202.29 717.09h.8M205.47 713.62h.8M227.19 716.86h.8M215.59 712.09h.8M204.67 717.47h.8M214.72 715.71h.8M217.04 703.94h.8M208.18 719.01h.8M213 719.15h.8M199.45 716.24h.8M200.67 706.57h.8M222.37 717.08h.8M220.63 710.76h.8M206.82 710.65h.8M218.11 711.29h.8M202.48 712.04h.8M203.27 710.87h.8M223.05 708.69h.8M199.96 707.62h.8M217.35 709.73h.8M213.86 720.37h.8M210.91 722.28h.8M202.42 725.26h.8M214.93 707.19h.8M212.76 712.11h.8M220.06 707.92h.8M215.63 706.89h.8M212.28 705.96h.8M186.28 715.84h.8M197.03 719.17h.8M208.31 710.89h.8M216.46 722.43h.8M203.78 710.6h.8M207.89 708.43h.8M204.1 709.03h.8M220.58 708.64h.8M219.06 718.77h.8M204.75 713.36h.8M199.15 721.05h.8M202.68 714.8h.8M203.5 713.85h.8M212.59 716.05h.8M216.85 713.94h.8M212.37 706.51h.8M204.11 705.27h.8M215.08 713.76h.8M196.3 710.9h.8M210.71 720.47h.8M202.84 715.48h.8M196.71 724.73h.8M197.28 717.42h.8M206.31 710.1h.8M218.01 722.98h.8M215.86 714.1h.8M216.23 710.95h.8M204.07 708.52h.8M203.67 712.37h.8M208.98 710.28h.8M202.95 701.65h.8M220.74 717.88h.8M211.83 714.52h.8M196.54 707.88h.8M204.14 711.37h.8M210.76 710.96h.8M187 717.05h.8M202.5 715.82h.8M205.96 716.99h.8M213.15 711.33h.8M209.6 714.07h.8M207.69 707.63h.8M201.71 713.69h.8M204.7 704.16h.8M214.02 713.74h.8M204.96 709.56h.8M200.77 713.79h.8M219.07 719.23h.8M207.52 714.2h.8M209.16 717.35h.8M216.45 717.67h.8M207.08 718.45h.8M190.82 708.7h.8M211.24 717.43h.8M200.7 718.12h.8M205.38 713.02h.8M206.73 711.64h.8M216.16 711.78h.8M201.33 717.23h.8M197.61 713.54h.8M200.45 713.15h.8M194.15 711.7h.8M193.05 714.79h.8M208.72 709.14h.8M195.03 709.76h.8M199.66 720.43h.8M213.65 710.35h.8M213.82 715.06h.8M196.95 706.19h.8M201.1 707.68h.8M200.65 710.97h.8M210.01 705.24h.8M223.86 711.37h.8M198.56 709.86h.8M198.59 718.83h.8M199.55 702.31h.8M200.42 716.11h.8M197.37 713.29h.8M218.63 717.54h.8M197.2 717.22h.8M207.24 711.95h.8M224.22 710.25h.8M213.13 711.66h.8M201.01 707.09h.8M211.39 714.81h.8M221.72 709.71h.8M218.33 711.35h.8M196.23 714.8h.8M214.79 712.37h.8M217.65 721.58h.8M220.62 714.72h.8M200.16 721.49h.8M209.88 711.82h.8M197.44 716.04h.8M223.01 716.2h.8M199.41 714.61h.8M204.09 715.74h.8M222.58 705.91h.8M209.83 711.97h.8M209.82 712.09h.8M199.14 720.12h.8M204.67 711.74h.8M216.61 717.23h.8M216.17 710.46h.8M204.73 716.95h.8M201.77 708.83h.8M198.95 710.78h.8M194.9 710.77h.8M202.91 717.67h.8M198.26 712.73h.8M203.26 709.71h.8M197.64 713.2h.8M212.69 713.67h.8M195.41 718.67h.8M207.79 713.14h.8M194.84 711.81h.8M222.9 714.95h.8M206.54 723.01h.8M217.52 712.31h.8M199.38 709.21h.8M205.91 710.64h.8M212.53 709.87h.8M215.88 707.99h.8M193.31 718.97h.8M198.89 714.67h.8M212.32 714.34h.8M217.51 716.8h.8M207.51 713.63h.8M218.86 713.67h.8M215.2 717.08h.8M202.15 716.2h.8M231.98 709.29h.8M214.96 704.35h.8M205.12 711.7h.8M211.75 714.46h.8M196.16 708.07h.8M206.5 710.56h.8M205.34 714.31h.8M207.19 720.23h.8M210.09 715.34h.8M200.59 720.03h.8M217.01 714.45h.8M205.88 715.65h.8M217.04 718.26h.8M202.04 717.7h.8M207.37 710.52h.8M204.74 717.26h.8M223.04 712.18h.8M203.07 714.21h.8M203.86 707.69h.8M217.91 709.21h.8M204.59 713.97h.8M205.55 717.14h.8M198.2 707.67h.8M209.68 713.22h.8M197.62 717.04h.8M209.43 706.24h.8M209.37 716.1h.8M213.41 710.34h.8M205.74 713.2h.8M211.7 710.22h.8M206.45 712.05h.8M206.18 710.06h.8M210.5 718.05h.8M218.86 713.23h.8M210.43 713.87h.8M210.57 708.77h.8M192.87 720.3h.8M229.42 710.42h.8M215.13 714.98h.8M218.61 708.86h.8M208.98 723.13h.8M226.37 708.69h.8M207.88 712.36h.8M224.25 717.6h.8M200.91 716.13h.8M206.46 707.64h.8M203.35 717.83h.8M189.84 720.76h.8M213.49 717.72h.8M191.02 716.39h.8M200.1 706.69h.8M200.8 715.08h.8M207.25 725.82h.8M217.32 720.4h.8M213.49 714.85h.8M208.31 725.53h.8M204.69 708.48h.8M211.53 713.52h.8M207.98 707.8h.8M200.79 713.11h.8M204.17 715.2h.8M219.71 715.48h.8M211.22 712.08h.8M195.75 715.29h.8M207.59 710.61h.8M200.95 717.24h.8M212.52 713.34h.8M214.39 706.7h.8M206.66 720.05h.8M204.61 714.94h.8M205.39 715.37h.8M198.99 707.08h.8M215.1 715.96h.8M215.7 709.44h.8M209.49 712.97h.8M189.51 707.41h.8M211.59 721.34h.8M203.2 721.39h.8M198.56 716.54h.8M204.66 708.45h.8M214.74 710.66h.8M211.48 717.82h.8M201.69 710.58h.8M206.5 713.31h.8M222.72 716.65h.8M202.07 714.41h.8M205.77 713.24h.8M215.5 716.24h.8M204.8 717.32h.8M215.91 716.31h.8M202.59 720.68h.8M220.19 709.92h.8M214.97 717.26h.8M211.95 717.08h.8M205.64 712.68h.8M234.09 727.1h.8M195.86 723.92h.8M213.92 714.14h.8M215.46 720.04h.8M208.64 715.99h.8M219.49 709.63h.8M186.17 719.44h.8M225.06 713.35h.8M210.64 712.9h.8M204.78 715.14h.8M233.16 704.52h.8M197 706.77h.8M209.29 730.5h.8M178.23 696.16h.8M213.06 715.16h.8M203.74 716.33h.8M204.9 713.65h.8M199.62 716.57h.8M197.78 713.04h.8M213.69 720.76h.8M217.98 723.85h.8M209.19 729.01h.8M211.84 717.58h.8M177.52 723.77h.8M210.78 715.06h.8M184.44 713.89h.8M191.99 715.13h.8M208.75 715.29h.8M203.01 714.84h.8M231.93 709.18h.8M212.83 709.83h.8M200.92 723.96h.8M191.83 715.5h.8M190.12 726.07h.8M209.5 721.19h.8M203.92 723.39h.8M188.36 719.88h.8M176.72 724.74h.8M197.2 712.71h.8M222.5 715.74h.8M212.42 712.45h.8M199.49 722.9h.8M196.53 712.16h.8M212.62 713.72h.8M185.29 714.57h.8M226.5 710.87h.8M185.27 722.06h.8M198.6 711.97h.8M232.51 716.91h.8M190.54 720.12h.8M199.68 735.25h.8M210.09 713.69h.8M198.77 715.24h.8M195.69 721.15h.8M231.12 702.65h.8M204.82 719.93h.8M204.91 723.22h.8M217.98 716.79h.8M196.86 723.05h.8M196.24 711.51h.8M202.07 717.39h.8M197.85 714.11h.8M207.82 723.84h.8M195.89 709.7h.8M187.53 714.13h.8M207.27 720.08h.8M199.42 707.22h.8M188.65 722.77h.8M213.7 721.45h.8M217.34 716.46h.8M198.58 708.54h.8M205.63 714.03h.8M190.37 711.62h.8M187.97 719.64h.8M206.61 725.43h.8M206 714.28h.8M214.69 718.1h.8M177.53 715.76h.8M186.85 706.59h.8M190.97 724.07h.8M227.46 713.03h.8M212.26 721.6h.8M209.08 729.44h.8M202.86 712.07h.8M187.44 709.77h.8M204.03 702.2h.8M218.63 703.89h.8M187.19 711.81h.8M198.9 713.07h.8M200.6 728.28h.8M199.16 720.83h.8M191.9 726.95h.8M202.53 717.51h.8M189.36 709.71h.8M204.8 706.21h.8M210.61 717.53h.8M165.48 717.28h.8M216.9 709.52h.8M209.54 727.55h.8M203.9 715.12h.8M225.57 718.45h.8M223.27 709.37h.8M203.1 719.61h.8M212.31 722.54h.8M216.65 713.86h.8M200.67 713.65h.8M214.52 721.82h.8M195.6 719.15h.8M200.75 711.77h.8M206.26 722.76h.8M200.41 709.72h.8M229.28 732.83h.8M194.08 713.21h.8M204.52 716.33h.8M201.24 714.67h.8M209.45 705.94h.8M195.77 726.18h.8M200.75 723.65h.8M200.91 712.23h.8M189 718.77h.8M208.47 695.76h.8M197.34 726.13h.8M216.88 720.38h.8M193.54 718.18h.8M194.12 715.34h.8M214.76 724.13h.8M183.53 723.54h.8M228.57 709.85h.8M205.43 722.68h.8M204.35 722.26h.8M206.1 721.12h.8M242.38 724.63h.8M202.87 710.82h.8M210.33 708.89h.8M187.5 711.83h.8M207.15 713.01h.8M207.38 709.15h.8M218.59 717.55h.8M202.93 709.67h.8M203.01 713.15h.8M201.93 706.15h.8M213.38 716.56h.8M226.74 723.15h.8M187.36 710.75h.8M211.15 718.33h.8M207.03 715.19h.8M212.96 724.62h.8M188.79 715.77h.8M189.86 706.42h.8M193.07 722.42h.8M223.63 726.96h.8M208.3 714.22h.8M204.28 719.15h.8M198.75 715.39h.8M193.84 712.82h.8M206.24 716.51h.8M207.67 769.98h.8M212.75 757.46h.8M181.01 764.05h.8M244.22 738.2h.8M149.55 707.65h.8M222.59 761.43h.8M198.47 741.56h.8M228.45 735.16h.8M212.27 740.14h.8M214.41 770.59h.8M212.61 767.12h.8M191.65 755.55h.8M212.22 784.06h.8M202.53 752.4h.8M184.53 753.36h.8M161.52 739.73h.8M226.94 732.67h.8M190.83 759.56h.8M180.25 751.5h.8M174.7 737.54h.8M223.3 719.88h.8M155.34 712.53h.8M210.95 735.22h.8M227.73 711.9h.8M203.9 701.28h.8M246.37 759.45h.8M189.13 734.31h.8M196 703.12h.8M151.42 719.22h.8M184.72 720.89h.8M227.43 700.42h.8M209.88 722.66h.8M190.89 730.99h.8M201 753.97h.8M170.33 769.95h.8M176.3 714.21h.8M192.76 761.99h.8M205 737.92h.8M229.47 722.44h.8M178.5 778.13h.8M224.11 735.79h.8M198.78 734.25h.8M203.07 743.23h.8M173.18 719.4h.8M194.57 730.22h.8M185.42 736.48h.8M193.71 778.32h.8M203.69 732.54h.8M206.02 720.1h.8M176.06 748.81h.8M177.22 725.34h.8M230.63 778.94h.8M217.32 722.73h.8M158.88 727.45h.8M168.84 728.08h.8M186.92 751.64h.8M245.25 725.42h.8M190.77 713.21h.8M228.95 763.35h.8M204.26 728.65h.8M193.37 750.59h.8M208.49 724.61h.8M223.56 733.79h.8M208.5 762.1h.8M210.95 720.49h.8M203.92 757.13h.8M185.52 722.82h.8M198.74 758.73h.8M228.22 773.29h.8M206.36 709.64h.8M195.62 737.54h.8M227.8 759.53h.8M169.09 717.29h.8M200.17 724.11h.8M157.9 711.02h.8M226.44 752.72h.8M171.54 740.79h.8M184.5 728.01h.8M219.95 770.19h.8M220.61 736.95h.8M224.75 715.96h.8M155.6 730.73h.8M185.39 761.17h.8M172.58 746.37h.8M203.19 752.22h.8M185.15 736.4h.8M177.11 742.23h.8M179.36 754.88h.8M202.33 742.3h.8" stroke="#444" stroke-width="0.8" stroke-opacity="0.5" fill="none"/>
<circle cx="171.3" cy="770.5" r="5.5" fill="#bbb" fill-opacity="0.35" filter="url(#b1)"/>
<rect x="182.5" y="703" width="47" height="25.8" fill="none" stroke="#333" stroke-width="0.9"/>
<text x="243.8" y="744.3" font-size="9.9" font-weight="bold" text-anchor="end" fill="#141414" stroke="#141414" stroke-width="0.2">12.9</text>
<path d="M18.8 774.2L18.8 793.2L37.1 793.2" fill="none" stroke="#000" stroke-width="1.8"/><path d="M18.8 771.2l-2.9 5h5.8z" fill="#000"/><path d="M40.1 793.2l-5 -2.9v5.8z" fill="#000"/>
<text x="13.7" y="783.7" font-size="9.5" font-weight="bold" text-anchor="middle" fill="#141414" transform="rotate(-90 13.7 783.7)" stroke="#141414" stroke-width="0.25">CD33</text>
<text x="17" y="808.7" font-size="9.8" font-weight="bold" text-anchor="start" fill="#141414" stroke="#141414" stroke-width="0.25">CD45</text>
</g>
<g id="G">
<text x="248.3" y="634.8" font-size="16.3" font-weight="bold" text-anchor="start" fill="#000">G</text>
<line x1="311" y1="649.9" x2="311" y2="758.7" stroke="#000" stroke-width="1.5"/>
<line x1="310.3" y1="758" x2="475.5" y2="758" stroke="#000" stroke-width="1.5"/>
<line x1="306.8" y1="758" x2="311" y2="758" stroke="#000" stroke-width="1.4"/>
<text x="306" y="761.8" font-size="10.8" font-weight="bold" text-anchor="end" fill="#000">0</text>
<line x1="306.8" y1="704.3" x2="311" y2="704.3" stroke="#000" stroke-width="1.4"/>
<text x="306" y="708.1" font-size="10.8" font-weight="bold" text-anchor="end" fill="#000">50</text>
<line x1="306.8" y1="650.6" x2="311" y2="650.6" stroke="#000" stroke-width="1.4"/>
<text x="306" y="654.4" font-size="10.8" font-weight="bold" text-anchor="end" fill="#000">100</text>
<rect x="314.4" y="691.4" width="19.2" height="66.6" fill="none" stroke="#000" stroke-width="1.4"/>
<line x1="324" y1="758" x2="324" y2="762.6" stroke="#000" stroke-width="1.4"/>
<line x1="324" y1="687.6" x2="324" y2="695.7" stroke="#000" stroke-width="1.3"/>
<line x1="319" y1="687.6" x2="329" y2="687.6" stroke="#000" stroke-width="1.3"/>
<line x1="319" y1="695.7" x2="329" y2="695.7" stroke="#000" stroke-width="1.3"/>
<g fill="#000"><circle cx="327.5" cy="672.7" r="2.1" fill="#000"/><circle cx="320.9" cy="678.4" r="2.1" fill="#000"/><circle cx="318.3" cy="692" r="2.1" fill="#000"/><circle cx="331" cy="692" r="2.1" fill="#000"/><circle cx="323.7" cy="695.7" r="2.1" fill="#000"/><circle cx="324.4" cy="703.5" r="2.1" fill="#000"/><circle cx="324" cy="711" r="2.1" fill="#000"/><circle cx="325.5" cy="689.5" r="2.1" fill="#000"/></g>
<text x="324.2" y="666.7" font-size="9.2" font-weight="bold" text-anchor="middle" fill="#000">**</text>
<text x="328.9" y="765.4" font-size="13.9" font-weight="bold" text-anchor="end" fill="#000" transform="rotate(-90 328.9 765.4)">090392 vs. HD1</text>
<rect x="341.85" y="730.9" width="19.2" height="27.1" fill="none" stroke="#8e8e8e" stroke-width="1.4"/>
<line x1="351.45" y1="758" x2="351.45" y2="762.6" stroke="#000" stroke-width="1.4"/>
<line x1="351.45" y1="721.7" x2="351.45" y2="740.2" stroke="#000" stroke-width="1.3"/>
<line x1="346.45" y1="721.7" x2="356.45" y2="721.7" stroke="#000" stroke-width="1.3"/>
<line x1="346.45" y1="740.2" x2="356.45" y2="740.2" stroke="#000" stroke-width="1.3"/>
<g fill="#000"><rect x="349.85" y="702.55" width="3.69" height="3.69"/><rect x="346.45" y="732.45" width="3.69" height="3.69"/><rect x="352.95" y="737.65" width="3.69" height="3.69"/><rect x="349.55" y="745.25" width="3.69" height="3.69"/></g>
<text x="351.65" y="695.8" font-size="9.2" font-weight="bold" text-anchor="middle" fill="#000">**</text>
<text x="356.35" y="765.4" font-size="13.9" font-weight="bold" text-anchor="end" fill="#000" transform="rotate(-90 356.35 765.4)">090240 vs. HD1</text>
<rect x="369.3" y="741.6" width="19.2" height="16.4" fill="none" stroke="#9a9a9a" stroke-width="1.4"/>
<line x1="378.9" y1="758" x2="378.9" y2="762.6" stroke="#000" stroke-width="1.4"/>
<line x1="378.9" y1="737.6" x2="378.9" y2="745.6" stroke="#000" stroke-width="1.3"/>
<line x1="373.9" y1="737.6" x2="383.9" y2="737.6" stroke="#000" stroke-width="1.3"/>
<line x1="373.9" y1="745.6" x2="383.9" y2="745.6" stroke="#000" stroke-width="1.3"/>
<g fill="#000"><path d="M379 714.19l2.31 4.2h-4.62z"/><path d="M379 722.29l2.31 4.2h-4.62z"/><path d="M384.6 733.59l2.31 4.2h-4.62z"/><path d="M373.9 736.69l2.31 4.2h-4.62z"/><path d="M379 740.99l2.31 4.2h-4.62z"/><path d="M386 745.89l2.31 4.2h-4.62z"/><path d="M371.6 747.09l2.31 4.2h-4.62z"/><path d="M373.3 751.59l2.31 4.2h-4.62z"/><path d="M377.6 751.59l2.31 4.2h-4.62z"/><path d="M381.6 751.59l2.31 4.2h-4.62z"/></g>
<text x="379.1" y="708.5" font-size="9.2" font-weight="bold" text-anchor="middle" fill="#000">*</text>
<text x="383.8" y="765.4" font-size="13.9" font-weight="bold" text-anchor="end" fill="#000" transform="rotate(-90 383.8 765.4)">090240 vs. HD2</text>
<rect x="396.75" y="670.1" width="19.2" height="87.9" fill="none" stroke="#dcdcdc" stroke-width="1.4"/>
<line x1="406.35" y1="758" x2="406.35" y2="762.6" stroke="#000" stroke-width="1.4"/>
<line x1="406.35" y1="661.5" x2="406.35" y2="679" stroke="#000" stroke-width="1.3"/>
<line x1="401.35" y1="661.5" x2="411.35" y2="661.5" stroke="#000" stroke-width="1.3"/>
<line x1="401.35" y1="679" x2="411.35" y2="679" stroke="#000" stroke-width="1.3"/>
<g fill="#000"><path d="M406.4 653.11l2.31 -4.2h-4.62z"/><path d="M406.4 663.31l2.31 -4.2h-4.62z"/><path d="M406.4 682.51l2.31 -4.2h-4.62z"/><path d="M406.4 689.71l2.31 -4.2h-4.62z"/></g>
<text x="406.55" y="644.5" font-size="9.2" font-weight="bold" text-anchor="middle" fill="#000">****</text>
<text x="411.25" y="765.4" font-size="13.9" font-weight="bold" text-anchor="end" fill="#000" transform="rotate(-90 411.25 765.4)">5786 vs. HD1</text>
<rect x="424.2" y="662.5" width="19.2" height="95.5" fill="none" stroke="#505050" stroke-width="1.4"/>
<line x1="433.8" y1="758" x2="433.8" y2="762.6" stroke="#000" stroke-width="1.4"/>
<line x1="433.8" y1="660.6" x2="433.8" y2="664.6" stroke="#000" stroke-width="1.3"/>
<line x1="428.8" y1="660.6" x2="438.8" y2="660.6" stroke="#000" stroke-width="1.3"/>
<line x1="428.8" y1="664.6" x2="438.8" y2="664.6" stroke="#000" stroke-width="1.3"/>
<g fill="#000"><path d="M427.7 649.98l2.21 2.52l-2.21 2.52l-2.21 -2.52z"/><path d="M439.8 653.08l2.21 2.52l-2.21 2.52l-2.21 -2.52z"/><path d="M434.1 655.18l2.21 2.52l-2.21 2.52l-2.21 -2.52z"/><path d="M431.2 657.28l2.21 2.52l-2.21 2.52l-2.21 -2.52z"/><path d="M427.7 664.18l2.21 2.52l-2.21 2.52l-2.21 -2.52z"/><path d="M437 662.08l2.21 2.52l-2.21 2.52l-2.21 -2.52z"/><path d="M433.6 670.38l2.21 2.52l-2.21 2.52l-2.21 -2.52z"/><path d="M439.8 669.48l2.21 2.52l-2.21 2.52l-2.21 -2.52z"/></g>
<text x="434" y="646.3" font-size="9.2" font-weight="bold" text-anchor="middle" fill="#000">****</text>
<text x="438.7" y="765.4" font-size="13.9" font-weight="bold" text-anchor="end" fill="#000" transform="rotate(-90 438.7 765.4)">5786 vs. HD2</text>
<rect x="451.65" y="701.3" width="19.2" height="56.7" fill="none" stroke="#a2a2a2" stroke-width="1.4"/>
<line x1="461.25" y1="758" x2="461.25" y2="762.6" stroke="#000" stroke-width="1.4"/>
<line x1="461.25" y1="696.3" x2="461.25" y2="707" stroke="#000" stroke-width="1.3"/>
<line x1="456.25" y1="696.3" x2="466.25" y2="696.3" stroke="#000" stroke-width="1.3"/>
<line x1="456.25" y1="707" x2="466.25" y2="707" stroke="#000" stroke-width="1.3"/>
<g fill="#000"><circle cx="461.3" cy="674.1" r="2.1" fill="#000"/><circle cx="461.3" cy="690.6" r="2.1" fill="#000"/><circle cx="454.9" cy="696.1" r="2.1" fill="#000"/><circle cx="467" cy="697.5" r="2.1" fill="#000"/><circle cx="460.9" cy="701.5" r="2.1" fill="#000"/><circle cx="460.9" cy="712.7" r="2.1" fill="#000"/><circle cx="464.4" cy="718.2" r="2.1" fill="#000"/><circle cx="457.8" cy="722.6" r="2.1" fill="#000"/></g>
<text x="461.45" y="668.4" font-size="9.2" font-weight="bold" text-anchor="middle" fill="#000">***</text>
<text x="466.15" y="765.4" font-size="13.9" font-weight="bold" text-anchor="end" fill="#000" transform="rotate(-90 466.15 765.4)">090543 vs. HD3</text>
<text x="283" y="704" font-size="13" font-weight="bold" text-anchor="middle" fill="#000" transform="rotate(-90 283 704)">% Reduction in AML load</text>
</g>
<g id="H">
<text x="1.8" y="840.7" font-size="16.3" font-weight="bold" text-anchor="start" fill="#000">H</text>
<line x1="41" y1="861.7" x2="41" y2="983.7" stroke="#000" stroke-width="1.8"/>
<line x1="40.1" y1="982.8" x2="221.8" y2="982.8" stroke="#000" stroke-width="1.8"/>
<line x1="36.4" y1="982.8" x2="41" y2="982.8" stroke="#000" stroke-width="1.6"/>
<text x="35.8" y="986.7" font-size="10.9" font-weight="bold" text-anchor="end" fill="#000">0</text>
<line x1="36.4" y1="952.75" x2="41" y2="952.75" stroke="#000" stroke-width="1.6"/>
<text x="35.8" y="956.65" font-size="10.9" font-weight="bold" text-anchor="end" fill="#000">10</text>
<line x1="36.4" y1="922.7" x2="41" y2="922.7" stroke="#000" stroke-width="1.6"/>
<text x="35.8" y="926.6" font-size="10.9" font-weight="bold" text-anchor="end" fill="#000">20</text>
<line x1="36.4" y1="892.65" x2="41" y2="892.65" stroke="#000" stroke-width="1.6"/>
<text x="35.8" y="896.55" font-size="10.9" font-weight="bold" text-anchor="end" fill="#000">30</text>
<line x1="36.4" y1="862.6" x2="41" y2="862.6" stroke="#000" stroke-width="1.6"/>
<text x="35.8" y="866.5" font-size="10.9" font-weight="bold" text-anchor="end" fill="#000">40</text>
<line x1="72" y1="982.8" x2="72" y2="988.1" stroke="#000" stroke-width="1.6"/>
<text x="77.4" y="989.4" font-size="15.7" font-weight="bold" text-anchor="end" fill="#000" transform="rotate(-90 77.4 989.4)">PBS</text>
<line x1="131.2" y1="982.8" x2="131.2" y2="988.1" stroke="#000" stroke-width="1.6"/>
<text x="136.6" y="989.4" font-size="15.7" font-weight="bold" text-anchor="end" fill="#000" transform="rotate(-90 136.6 989.4)">1x DNT</text>
<line x1="191.8" y1="982.8" x2="191.8" y2="988.1" stroke="#000" stroke-width="1.6"/>
<text x="197.2" y="989.4" font-size="15.7" font-weight="bold" text-anchor="end" fill="#000" transform="rotate(-90 197.2 989.4)">3x DNT</text>
<g fill="#000"><circle cx="71.1" cy="878.3" r="2.3" fill="#000"/><circle cx="71.1" cy="899.6" r="2.3" fill="#000"/><circle cx="64" cy="907.8" r="2.3" fill="#000"/><circle cx="78.3" cy="908.6" r="2.3" fill="#000"/><circle cx="71.1" cy="914.8" r="2.3" fill="#000"/></g>
<line x1="51.2" y1="901.7" x2="91.1" y2="901.7" stroke="#000" stroke-width="1.4"/>
<line x1="60.9" y1="895.5" x2="81.5" y2="895.5" stroke="#000" stroke-width="1.4"/>
<line x1="71.2" y1="895.6" x2="71.2" y2="901.6" stroke="#000" stroke-width="1.4"/>
<g fill="#000"><rect x="129.22" y="926.73" width="4.05" height="4.05"/><rect x="125.97" y="929.98" width="4.05" height="4.05"/><rect x="132.97" y="934.23" width="4.05" height="4.05"/><rect x="122.22" y="945.98" width="4.05" height="4.05"/><rect x="129.22" y="940.98" width="4.05" height="4.05"/><rect x="136.72" y="945.48" width="4.05" height="4.05"/><rect x="129.22" y="950.98" width="4.05" height="4.05"/><rect x="129.22" y="963.48" width="4.05" height="4.05"/></g>
<line x1="111.25" y1="944.25" x2="151.25" y2="944.25" stroke="#000" stroke-width="1.4"/>
<line x1="121.25" y1="940" x2="141.25" y2="940" stroke="#000" stroke-width="1.4"/>
<line x1="131.25" y1="940" x2="131.25" y2="944.25" stroke="#000" stroke-width="1.4"/>
<g fill="#000"><path d="M184.5 968.27l2.48 4.5h-4.95z"/><path d="M198.75 967.52l2.48 4.5h-4.95z"/><path d="M192 970.77l2.48 4.5h-4.95z"/><path d="M175 972.52l2.48 4.5h-4.95z"/><path d="M208.75 971.27l2.48 4.5h-4.95z"/><path d="M201.25 973.77l2.48 4.5h-4.95z"/><path d="M182.5 975.52l2.48 4.5h-4.95z"/><path d="M188.75 978.02l2.48 4.5h-4.95z"/><path d="M194.5 978.02l2.48 4.5h-4.95z"/></g>
<line x1="172" y1="975.5" x2="211.25" y2="975.5" stroke="#000" stroke-width="1.4"/>
<line x1="182" y1="973.9" x2="201.5" y2="973.9" stroke="#000" stroke-width="1"/>
<path d="M73.5 868V851.75H191.75V956.25" fill="none" stroke="#000" stroke-width="1.6"/>
<path d="M73.5 866.75H130.75V919.5" fill="none" stroke="#000" stroke-width="1.6"/>
<line x1="130.75" y1="902.5" x2="191.75" y2="902.5" stroke="#000" stroke-width="1.6"/>
<text x="131.75" y="849" font-size="10" font-weight="bold" text-anchor="middle" fill="#000">****</text>
<text x="97" y="864.5" font-size="10" font-weight="bold" text-anchor="middle" fill="#000">***</text>
<text x="161.25" y="899.7" font-size="10" font-weight="bold" text-anchor="middle" fill="#000">****</text>
<text x="13.3" y="924" font-size="14.2" font-weight="bold" text-anchor="middle" fill="#000" transform="rotate(-90 13.3 924)">% AML Engraftment</text>
</g>
</svg>
</body></html>
